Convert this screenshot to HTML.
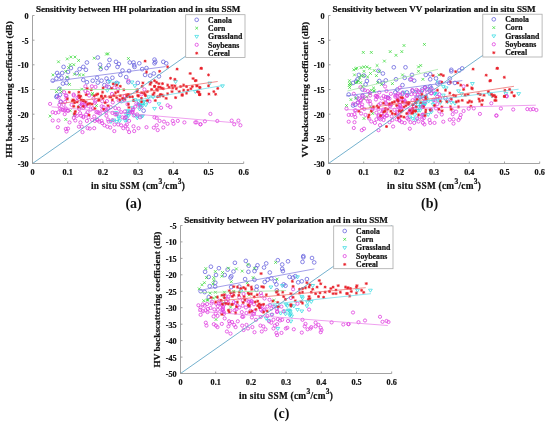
<!DOCTYPE html>
<html><head><meta charset="utf-8"><title>Sensitivity plots</title><style>
html,body{margin:0;padding:0;background:#fff;}
svg{display:block;filter:blur(0.3px);}
text{font-family:"Liberation Serif",serif;fill:#111;}
.ti{font-weight:bold;font-size:9.1px;stroke:#111;stroke-width:0.22px;}
.tk{font-weight:bold;font-size:8.2px;stroke:#111;stroke-width:0.2px;}
.xl{font-weight:bold;font-size:9.3px;letter-spacing:0.28px;stroke:#111;stroke-width:0.22px;}
.yl{font-weight:bold;font-size:9.2px;stroke:#111;stroke-width:0.22px;}
.lg{font-weight:bold;font-size:7.8px;stroke:#111;stroke-width:0.2px;}
.sub{font-size:14px;font-weight:bold;fill:#111;}
.ax{stroke:#999;stroke-width:0.9;fill:none;}
</style></head>
<body><svg width="550" height="424" viewBox="0 0 550 424">
<rect width="550" height="424" fill="#fff"/>
<circle cx="97.8" cy="57.5" r="1.85" fill="none" stroke="#625cdc" stroke-width="0.75"/>
<circle cx="109.5" cy="59.9" r="1.85" fill="none" stroke="#625cdc" stroke-width="0.75"/>
<circle cx="116.0" cy="61.8" r="1.85" fill="none" stroke="#625cdc" stroke-width="0.75"/>
<circle cx="118.9" cy="64.0" r="1.85" fill="none" stroke="#625cdc" stroke-width="0.75"/>
<circle cx="100.0" cy="64.7" r="1.85" fill="none" stroke="#625cdc" stroke-width="0.75"/>
<circle cx="100.7" cy="69.1" r="1.85" fill="none" stroke="#625cdc" stroke-width="0.75"/>
<circle cx="108.7" cy="65.2" r="1.85" fill="none" stroke="#625cdc" stroke-width="0.75"/>
<circle cx="106.5" cy="68.1" r="1.85" fill="none" stroke="#625cdc" stroke-width="0.75"/>
<circle cx="117.5" cy="66.9" r="1.85" fill="none" stroke="#625cdc" stroke-width="0.75"/>
<circle cx="86.9" cy="62.5" r="1.85" fill="none" stroke="#625cdc" stroke-width="0.75"/>
<circle cx="83.3" cy="66.9" r="1.85" fill="none" stroke="#625cdc" stroke-width="0.75"/>
<circle cx="79.6" cy="69.1" r="1.85" fill="none" stroke="#625cdc" stroke-width="0.75"/>
<circle cx="85.9" cy="69.8" r="1.85" fill="none" stroke="#625cdc" stroke-width="0.75"/>
<circle cx="70.9" cy="68.1" r="1.85" fill="none" stroke="#625cdc" stroke-width="0.75"/>
<circle cx="63.6" cy="66.9" r="1.85" fill="none" stroke="#625cdc" stroke-width="0.75"/>
<circle cx="68.0" cy="72.0" r="1.85" fill="none" stroke="#625cdc" stroke-width="0.75"/>
<circle cx="57.1" cy="73.0" r="1.85" fill="none" stroke="#625cdc" stroke-width="0.75"/>
<circle cx="62.2" cy="73.0" r="1.85" fill="none" stroke="#625cdc" stroke-width="0.75"/>
<circle cx="58.5" cy="75.6" r="1.85" fill="none" stroke="#625cdc" stroke-width="0.75"/>
<circle cx="61.5" cy="77.8" r="1.85" fill="none" stroke="#625cdc" stroke-width="0.75"/>
<circle cx="56.4" cy="78.5" r="1.85" fill="none" stroke="#625cdc" stroke-width="0.75"/>
<circle cx="52.7" cy="80.7" r="1.85" fill="none" stroke="#625cdc" stroke-width="0.75"/>
<circle cx="67.3" cy="78.5" r="1.85" fill="none" stroke="#625cdc" stroke-width="0.75"/>
<circle cx="76.7" cy="73.0" r="1.85" fill="none" stroke="#625cdc" stroke-width="0.75"/>
<circle cx="83.3" cy="80.0" r="1.85" fill="none" stroke="#625cdc" stroke-width="0.75"/>
<circle cx="86.9" cy="82.2" r="1.85" fill="none" stroke="#625cdc" stroke-width="0.75"/>
<circle cx="92.7" cy="80.7" r="1.85" fill="none" stroke="#625cdc" stroke-width="0.75"/>
<circle cx="97.1" cy="77.8" r="1.85" fill="none" stroke="#625cdc" stroke-width="0.75"/>
<circle cx="97.8" cy="82.6" r="1.85" fill="none" stroke="#625cdc" stroke-width="0.75"/>
<circle cx="101.5" cy="80.7" r="1.85" fill="none" stroke="#625cdc" stroke-width="0.75"/>
<circle cx="106.5" cy="78.5" r="1.85" fill="none" stroke="#625cdc" stroke-width="0.75"/>
<circle cx="108.0" cy="81.5" r="1.85" fill="none" stroke="#625cdc" stroke-width="0.75"/>
<circle cx="112.4" cy="77.8" r="1.85" fill="none" stroke="#625cdc" stroke-width="0.75"/>
<circle cx="120.4" cy="74.9" r="1.85" fill="none" stroke="#625cdc" stroke-width="0.75"/>
<circle cx="122.5" cy="70.5" r="1.85" fill="none" stroke="#625cdc" stroke-width="0.75"/>
<circle cx="62.9" cy="83.6" r="1.85" fill="none" stroke="#625cdc" stroke-width="0.75"/>
<circle cx="66.5" cy="82.9" r="1.85" fill="none" stroke="#625cdc" stroke-width="0.75"/>
<circle cx="59.3" cy="88.7" r="1.85" fill="none" stroke="#625cdc" stroke-width="0.75"/>
<circle cx="57.1" cy="96.0" r="1.85" fill="none" stroke="#625cdc" stroke-width="0.75"/>
<circle cx="104.4" cy="85.1" r="1.85" fill="none" stroke="#625cdc" stroke-width="0.75"/>
<circle cx="108.7" cy="87.0" r="1.85" fill="none" stroke="#625cdc" stroke-width="0.75"/>
<circle cx="116.7" cy="82.9" r="1.85" fill="none" stroke="#625cdc" stroke-width="0.75"/>
<circle cx="129.8" cy="62.5" r="1.85" fill="none" stroke="#625cdc" stroke-width="0.75"/>
<circle cx="133.5" cy="62.5" r="1.85" fill="none" stroke="#625cdc" stroke-width="0.75"/>
<circle cx="134.2" cy="65.2" r="1.85" fill="none" stroke="#625cdc" stroke-width="0.75"/>
<circle cx="134.5" cy="66.9" r="1.85" fill="none" stroke="#625cdc" stroke-width="0.75"/>
<circle cx="139.3" cy="63.3" r="1.85" fill="none" stroke="#625cdc" stroke-width="0.75"/>
<circle cx="142.2" cy="69.1" r="1.85" fill="none" stroke="#625cdc" stroke-width="0.75"/>
<circle cx="146.5" cy="68.1" r="1.85" fill="none" stroke="#625cdc" stroke-width="0.75"/>
<circle cx="154.5" cy="59.6" r="1.85" fill="none" stroke="#625cdc" stroke-width="0.75"/>
<circle cx="155.3" cy="61.8" r="1.85" fill="none" stroke="#625cdc" stroke-width="0.75"/>
<circle cx="154.5" cy="63.3" r="1.85" fill="none" stroke="#625cdc" stroke-width="0.75"/>
<circle cx="163.3" cy="61.8" r="1.85" fill="none" stroke="#625cdc" stroke-width="0.75"/>
<circle cx="166.2" cy="63.3" r="1.85" fill="none" stroke="#625cdc" stroke-width="0.75"/>
<circle cx="129.1" cy="71.0" r="1.85" fill="none" stroke="#625cdc" stroke-width="0.75"/>
<circle cx="126.2" cy="77.1" r="1.85" fill="none" stroke="#625cdc" stroke-width="0.75"/>
<circle cx="145.1" cy="74.9" r="1.85" fill="none" stroke="#625cdc" stroke-width="0.75"/>
<circle cx="150.2" cy="75.6" r="1.85" fill="none" stroke="#625cdc" stroke-width="0.75"/>
<circle cx="153.8" cy="73.5" r="1.85" fill="none" stroke="#625cdc" stroke-width="0.75"/>
<circle cx="158.9" cy="76.4" r="1.85" fill="none" stroke="#625cdc" stroke-width="0.75"/>
<circle cx="128.4" cy="82.2" r="1.85" fill="none" stroke="#625cdc" stroke-width="0.75"/>
<circle cx="137.8" cy="82.9" r="1.85" fill="none" stroke="#625cdc" stroke-width="0.75"/>
<circle cx="56.4" cy="96.9" r="1.85" fill="none" stroke="#625cdc" stroke-width="0.75"/>
<circle cx="60.7" cy="102.0" r="1.85" fill="none" stroke="#625cdc" stroke-width="0.75"/>
<circle cx="60.0" cy="94.7" r="1.85" fill="none" stroke="#625cdc" stroke-width="0.75"/>
<circle cx="143.6" cy="110.7" r="1.85" fill="none" stroke="#625cdc" stroke-width="0.75"/>
<path d="M57.1 60.4L59.9 63.2M57.1 63.2L59.9 60.4" stroke="#30d830" stroke-width="0.7"/>
<path d="M65.9 57.5L68.7 60.3M65.9 60.3L68.7 57.5" stroke="#30d830" stroke-width="0.7"/>
<path d="M69.5 55.6L72.3 58.4M69.5 58.4L72.3 55.6" stroke="#30d830" stroke-width="0.7"/>
<path d="M73.6 55.6L76.4 58.4M73.6 58.4L76.4 55.6" stroke="#30d830" stroke-width="0.7"/>
<path d="M77.2 59.0L80.0 61.8M77.2 61.8L80.0 59.0" stroke="#30d830" stroke-width="0.7"/>
<path d="M92.8 56.8L95.6 59.6M92.8 59.6L95.6 56.8" stroke="#30d830" stroke-width="0.7"/>
<path d="M105.1 52.7L107.9 55.5M105.1 55.5L107.9 52.7" stroke="#30d830" stroke-width="0.7"/>
<path d="M106.6 52.4L109.4 55.2M106.6 55.2L109.4 52.4" stroke="#30d830" stroke-width="0.7"/>
<path d="M68.8 63.3L71.6 66.1M68.8 66.1L71.6 63.3" stroke="#30d830" stroke-width="0.7"/>
<path d="M72.4 63.3L75.2 66.1M72.4 66.1L75.2 63.3" stroke="#30d830" stroke-width="0.7"/>
<path d="M67.3 66.2L70.1 69.0M67.3 69.0L70.1 66.2" stroke="#30d830" stroke-width="0.7"/>
<path d="M64.4 69.9L67.2 72.7M64.4 72.7L67.2 69.9" stroke="#30d830" stroke-width="0.7"/>
<path d="M51.6 73.5L54.4 76.3M51.6 76.3L54.4 73.5" stroke="#30d830" stroke-width="0.7"/>
<path d="M73.1 72.8L75.9 75.6M73.1 75.6L75.9 72.8" stroke="#30d830" stroke-width="0.7"/>
<path d="M78.2 73.5L81.0 76.3M78.2 76.3L81.0 73.5" stroke="#30d830" stroke-width="0.7"/>
<path d="M81.9 73.5L84.7 76.3M81.9 76.3L84.7 73.5" stroke="#30d830" stroke-width="0.7"/>
<path d="M65.9 75.7L68.7 78.5M65.9 78.5L68.7 75.7" stroke="#30d830" stroke-width="0.7"/>
<path d="M99.3 66.2L102.1 69.0M99.3 69.0L102.1 66.2" stroke="#30d830" stroke-width="0.7"/>
<path d="M68.1 83.0L70.9 85.8M68.1 85.8L70.9 83.0" stroke="#30d830" stroke-width="0.7"/>
<path d="M58.6 87.3L61.4 90.1M58.6 90.1L61.4 87.3" stroke="#30d830" stroke-width="0.7"/>
<path d="M55.0 90.2L57.8 93.0M55.0 93.0L57.8 90.2" stroke="#30d830" stroke-width="0.7"/>
<path d="M60.1 90.2L62.9 93.0M60.1 93.0L62.9 90.2" stroke="#30d830" stroke-width="0.7"/>
<path d="M127.0 57.1L129.8 59.9M127.0 59.9L129.8 57.1" stroke="#30d830" stroke-width="0.7"/>
<path d="M48.7 114.7L51.5 117.5M48.7 117.5L51.5 114.7" stroke="#30d830" stroke-width="0.7"/>
<path d="M64.4 118.1L67.2 120.9M64.4 120.9L67.2 118.1" stroke="#30d830" stroke-width="0.7"/>
<path d="M68.8 109.3L71.6 112.1M68.8 112.1L71.6 109.3" stroke="#30d830" stroke-width="0.7"/>
<path d="M77.5 105.7L80.3 108.5M77.5 108.5L80.3 105.7" stroke="#30d830" stroke-width="0.7"/>
<path d="M72.4 113.7L75.2 116.5M72.4 116.5L75.2 113.7" stroke="#30d830" stroke-width="0.7"/>
<path d="M90.6 93.3L93.4 96.1M90.6 96.1L93.4 93.3" stroke="#30d830" stroke-width="0.7"/>
<path d="M95.0 104.2L97.8 107.0M95.0 107.0L97.8 104.2" stroke="#30d830" stroke-width="0.7"/>
<path d="M80.5 87.8L83.3 90.6M80.5 90.6L83.3 87.8" stroke="#30d830" stroke-width="0.7"/>
<path d="M91.1 92.0L93.9 94.8M91.1 94.8L93.9 92.0" stroke="#30d830" stroke-width="0.7"/>
<path d="M173.7 80.6L177.5 80.6L175.6 83.6Z" fill="none" stroke="#2ad8e0" stroke-width="0.7"/>
<path d="M193.4 90.5L197.2 90.5L195.3 93.5Z" fill="none" stroke="#2ad8e0" stroke-width="0.7"/>
<path d="M133.0 84.7L136.8 84.7L134.9 87.7Z" fill="none" stroke="#2ad8e0" stroke-width="0.7"/>
<path d="M130.1 81.0L133.9 81.0L132.0 84.1Z" fill="none" stroke="#2ad8e0" stroke-width="0.7"/>
<path d="M148.3 81.8L152.1 81.8L150.2 84.8Z" fill="none" stroke="#2ad8e0" stroke-width="0.7"/>
<path d="M220.6 84.8L224.4 84.8L222.5 87.9Z" fill="none" stroke="#2ad8e0" stroke-width="0.7"/>
<path d="M207.9 82.0L211.7 82.0L209.8 85.0Z" fill="none" stroke="#2ad8e0" stroke-width="0.7"/>
<path d="M109.0 120.5L112.8 120.5L110.9 123.5Z" fill="none" stroke="#2ad8e0" stroke-width="0.7"/>
<path d="M111.9 119.0L115.7 119.0L113.8 122.1Z" fill="none" stroke="#2ad8e0" stroke-width="0.7"/>
<path d="M114.8 120.5L118.6 120.5L116.7 123.5Z" fill="none" stroke="#2ad8e0" stroke-width="0.7"/>
<path d="M117.7 119.8L121.5 119.8L119.6 122.8Z" fill="none" stroke="#2ad8e0" stroke-width="0.7"/>
<path d="M117.0 116.9L120.8 116.9L118.9 119.9Z" fill="none" stroke="#2ad8e0" stroke-width="0.7"/>
<path d="M157.0 102.8L160.8 102.8L158.9 105.8Z" fill="none" stroke="#2ad8e0" stroke-width="0.7"/>
<path d="M152.6 107.4L156.4 107.4L154.5 110.4Z" fill="none" stroke="#2ad8e0" stroke-width="0.7"/>
<path d="M143.9 103.8L147.7 103.8L145.8 106.8Z" fill="none" stroke="#2ad8e0" stroke-width="0.7"/>
<path d="M141.0 101.6L144.8 101.6L142.9 104.6Z" fill="none" stroke="#2ad8e0" stroke-width="0.7"/>
<path d="M138.1 103.8L141.9 103.8L140.0 106.8Z" fill="none" stroke="#2ad8e0" stroke-width="0.7"/>
<path d="M136.6 100.1L140.4 100.1L138.5 103.2Z" fill="none" stroke="#2ad8e0" stroke-width="0.7"/>
<path d="M130.8 106.7L134.6 106.7L132.7 109.7Z" fill="none" stroke="#2ad8e0" stroke-width="0.7"/>
<path d="M126.5 114.7L130.3 114.7L128.4 117.7Z" fill="none" stroke="#2ad8e0" stroke-width="0.7"/>
<path d="M124.3 116.1L128.1 116.1L126.2 119.2Z" fill="none" stroke="#2ad8e0" stroke-width="0.7"/>
<path d="M139.6 115.4L143.4 115.4L141.5 118.4Z" fill="none" stroke="#2ad8e0" stroke-width="0.7"/>
<path d="M133.0 98.7L136.8 98.7L134.9 101.7Z" fill="none" stroke="#2ad8e0" stroke-width="0.7"/>
<path d="M146.8 95.8L150.6 95.8L148.7 98.8Z" fill="none" stroke="#2ad8e0" stroke-width="0.7"/>
<path d="M151.2 95.8L155.0 95.8L153.1 98.8Z" fill="none" stroke="#2ad8e0" stroke-width="0.7"/>
<path d="M105.4 89.3L109.2 89.3L107.3 92.3Z" fill="none" stroke="#2ad8e0" stroke-width="0.7"/>
<path d="M112.5 82.2L116.3 82.2L114.4 85.2Z" fill="none" stroke="#2ad8e0" stroke-width="0.7"/>
<path d="M116.0 82.2L119.8 82.2L117.9 85.2Z" fill="none" stroke="#2ad8e0" stroke-width="0.7"/>
<path d="M107.7 80.4L111.5 80.4L109.6 83.4Z" fill="none" stroke="#2ad8e0" stroke-width="0.7"/>
<path d="M125.9 112.4L129.7 112.4L127.8 115.4Z" fill="none" stroke="#2ad8e0" stroke-width="0.7"/>
<path d="M145.5 100.4L149.3 100.4L147.4 103.5Z" fill="none" stroke="#2ad8e0" stroke-width="0.7"/>
<path d="M135.4 116.9L139.2 116.9L137.3 119.9Z" fill="none" stroke="#2ad8e0" stroke-width="0.7"/>
<path d="M125.8 112.4L129.6 112.4L127.7 115.4Z" fill="none" stroke="#2ad8e0" stroke-width="0.7"/>
<path d="M140.7 104.6L144.5 104.6L142.6 107.7Z" fill="none" stroke="#2ad8e0" stroke-width="0.7"/>
<path d="M142.0 100.5L145.8 100.5L143.9 103.5Z" fill="none" stroke="#2ad8e0" stroke-width="0.7"/>
<path d="M140.7 114.8L144.5 114.8L142.6 117.8Z" fill="none" stroke="#2ad8e0" stroke-width="0.7"/>
<path d="M135.7 114.9L139.5 114.9L137.6 117.9Z" fill="none" stroke="#2ad8e0" stroke-width="0.7"/>
<path d="M137.7 107.9L141.5 107.9L139.6 111.0Z" fill="none" stroke="#2ad8e0" stroke-width="0.7"/>
<path d="M136.7 103.2L140.5 103.2L138.6 106.2Z" fill="none" stroke="#2ad8e0" stroke-width="0.7"/>
<path d="M139.7 104.2L143.5 104.2L141.6 107.2Z" fill="none" stroke="#2ad8e0" stroke-width="0.7"/>
<path d="M138.1 104.5L141.9 104.5L140.0 107.5Z" fill="none" stroke="#2ad8e0" stroke-width="0.7"/>
<path d="M125.8 109.7L129.6 109.7L127.7 112.8Z" fill="none" stroke="#2ad8e0" stroke-width="0.7"/>
<path d="M132.5 114.0L136.3 114.0L134.4 117.1Z" fill="none" stroke="#2ad8e0" stroke-width="0.7"/>
<path d="M113.5 111.6L117.3 111.6L115.4 114.6Z" fill="none" stroke="#2ad8e0" stroke-width="0.7"/>
<path d="M124.3 113.4L128.1 113.4L126.2 116.5Z" fill="none" stroke="#2ad8e0" stroke-width="0.7"/>
<path d="M115.3 112.3L119.1 112.3L117.2 115.4Z" fill="none" stroke="#2ad8e0" stroke-width="0.7"/>
<path d="M127.4 110.3L131.2 110.3L129.3 113.3Z" fill="none" stroke="#2ad8e0" stroke-width="0.7"/>
<path d="M128.4 111.4L132.2 111.4L130.3 114.4Z" fill="none" stroke="#2ad8e0" stroke-width="0.7"/>
<path d="M123.3 119.4L127.1 119.4L125.2 122.4Z" fill="none" stroke="#2ad8e0" stroke-width="0.7"/>
<path d="M124.9 119.0L128.7 119.0L126.8 122.0Z" fill="none" stroke="#2ad8e0" stroke-width="0.7"/>
<path d="M116.9 115.3L120.7 115.3L118.8 118.4Z" fill="none" stroke="#2ad8e0" stroke-width="0.7"/>
<circle cx="128.4" cy="80.7" r="1.6" fill="none" stroke="#e040e0" stroke-width="0.8"/>
<circle cx="144.4" cy="89.5" r="1.6" fill="none" stroke="#e040e0" stroke-width="0.8"/>
<circle cx="141.5" cy="94.3" r="1.6" fill="none" stroke="#e040e0" stroke-width="0.8"/>
<circle cx="124.7" cy="96.0" r="1.6" fill="none" stroke="#e040e0" stroke-width="0.8"/>
<circle cx="50.1" cy="103.9" r="1.6" fill="none" stroke="#e040e0" stroke-width="0.8"/>
<circle cx="52.7" cy="112.2" r="1.6" fill="none" stroke="#e040e0" stroke-width="0.8"/>
<circle cx="55.6" cy="112.9" r="1.6" fill="none" stroke="#e040e0" stroke-width="0.8"/>
<circle cx="58.5" cy="112.2" r="1.6" fill="none" stroke="#e040e0" stroke-width="0.8"/>
<circle cx="60.0" cy="108.5" r="1.6" fill="none" stroke="#e040e0" stroke-width="0.8"/>
<circle cx="62.9" cy="110.0" r="1.6" fill="none" stroke="#e040e0" stroke-width="0.8"/>
<circle cx="65.8" cy="108.5" r="1.6" fill="none" stroke="#e040e0" stroke-width="0.8"/>
<circle cx="59.3" cy="104.9" r="1.6" fill="none" stroke="#e040e0" stroke-width="0.8"/>
<circle cx="63.6" cy="104.9" r="1.6" fill="none" stroke="#e040e0" stroke-width="0.8"/>
<circle cx="52.7" cy="120.5" r="1.6" fill="none" stroke="#e040e0" stroke-width="0.8"/>
<circle cx="58.5" cy="120.5" r="1.6" fill="none" stroke="#e040e0" stroke-width="0.8"/>
<circle cx="57.8" cy="127.2" r="1.6" fill="none" stroke="#e040e0" stroke-width="0.8"/>
<circle cx="65.8" cy="128.9" r="1.6" fill="none" stroke="#e040e0" stroke-width="0.8"/>
<circle cx="68.0" cy="128.6" r="1.6" fill="none" stroke="#e040e0" stroke-width="0.8"/>
<circle cx="66.5" cy="131.5" r="1.6" fill="none" stroke="#e040e0" stroke-width="0.8"/>
<circle cx="69.5" cy="122.4" r="1.6" fill="none" stroke="#e040e0" stroke-width="0.8"/>
<circle cx="73.8" cy="118.0" r="1.6" fill="none" stroke="#e040e0" stroke-width="0.8"/>
<circle cx="75.3" cy="120.5" r="1.6" fill="none" stroke="#e040e0" stroke-width="0.8"/>
<circle cx="78.9" cy="126.7" r="1.6" fill="none" stroke="#e040e0" stroke-width="0.8"/>
<circle cx="81.8" cy="126.7" r="1.6" fill="none" stroke="#e040e0" stroke-width="0.8"/>
<circle cx="82.5" cy="132.1" r="1.6" fill="none" stroke="#e040e0" stroke-width="0.8"/>
<circle cx="80.4" cy="122.4" r="1.6" fill="none" stroke="#e040e0" stroke-width="0.8"/>
<circle cx="81.1" cy="115.8" r="1.6" fill="none" stroke="#e040e0" stroke-width="0.8"/>
<circle cx="83.3" cy="116.5" r="1.6" fill="none" stroke="#e040e0" stroke-width="0.8"/>
<circle cx="86.2" cy="114.4" r="1.6" fill="none" stroke="#e040e0" stroke-width="0.8"/>
<circle cx="86.9" cy="120.9" r="1.6" fill="none" stroke="#e040e0" stroke-width="0.8"/>
<circle cx="87.6" cy="128.2" r="1.6" fill="none" stroke="#e040e0" stroke-width="0.8"/>
<circle cx="89.8" cy="128.6" r="1.6" fill="none" stroke="#e040e0" stroke-width="0.8"/>
<circle cx="94.2" cy="128.2" r="1.6" fill="none" stroke="#e040e0" stroke-width="0.8"/>
<circle cx="87.6" cy="112.2" r="1.6" fill="none" stroke="#e040e0" stroke-width="0.8"/>
<circle cx="94.2" cy="116.5" r="1.6" fill="none" stroke="#e040e0" stroke-width="0.8"/>
<circle cx="96.4" cy="112.2" r="1.6" fill="none" stroke="#e040e0" stroke-width="0.8"/>
<circle cx="98.5" cy="112.9" r="1.6" fill="none" stroke="#e040e0" stroke-width="0.8"/>
<circle cx="100.0" cy="113.6" r="1.6" fill="none" stroke="#e040e0" stroke-width="0.8"/>
<circle cx="94.9" cy="120.9" r="1.6" fill="none" stroke="#e040e0" stroke-width="0.8"/>
<circle cx="99.3" cy="121.6" r="1.6" fill="none" stroke="#e040e0" stroke-width="0.8"/>
<circle cx="101.5" cy="120.9" r="1.6" fill="none" stroke="#e040e0" stroke-width="0.8"/>
<circle cx="102.2" cy="123.1" r="1.6" fill="none" stroke="#e040e0" stroke-width="0.8"/>
<circle cx="104.4" cy="125.3" r="1.6" fill="none" stroke="#e040e0" stroke-width="0.8"/>
<circle cx="107.3" cy="126.7" r="1.6" fill="none" stroke="#e040e0" stroke-width="0.8"/>
<circle cx="110.2" cy="127.5" r="1.6" fill="none" stroke="#e040e0" stroke-width="0.8"/>
<circle cx="106.5" cy="115.8" r="1.6" fill="none" stroke="#e040e0" stroke-width="0.8"/>
<circle cx="108.0" cy="119.5" r="1.6" fill="none" stroke="#e040e0" stroke-width="0.8"/>
<circle cx="112.4" cy="112.9" r="1.6" fill="none" stroke="#e040e0" stroke-width="0.8"/>
<circle cx="115.3" cy="114.4" r="1.6" fill="none" stroke="#e040e0" stroke-width="0.8"/>
<circle cx="116.7" cy="114.4" r="1.6" fill="none" stroke="#e040e0" stroke-width="0.8"/>
<circle cx="121.1" cy="112.2" r="1.6" fill="none" stroke="#e040e0" stroke-width="0.8"/>
<circle cx="112.4" cy="120.2" r="1.6" fill="none" stroke="#e040e0" stroke-width="0.8"/>
<circle cx="114.5" cy="124.5" r="1.6" fill="none" stroke="#e040e0" stroke-width="0.8"/>
<circle cx="118.2" cy="124.5" r="1.6" fill="none" stroke="#e040e0" stroke-width="0.8"/>
<circle cx="121.1" cy="125.3" r="1.6" fill="none" stroke="#e040e0" stroke-width="0.8"/>
<circle cx="123.3" cy="128.2" r="1.6" fill="none" stroke="#e040e0" stroke-width="0.8"/>
<circle cx="114.3" cy="131.1" r="1.6" fill="none" stroke="#e040e0" stroke-width="0.8"/>
<circle cx="122.5" cy="117.3" r="1.6" fill="none" stroke="#e040e0" stroke-width="0.8"/>
<circle cx="65.8" cy="95.5" r="1.6" fill="none" stroke="#e040e0" stroke-width="0.8"/>
<circle cx="66.5" cy="98.4" r="1.6" fill="none" stroke="#e040e0" stroke-width="0.8"/>
<circle cx="73.8" cy="95.5" r="1.6" fill="none" stroke="#e040e0" stroke-width="0.8"/>
<circle cx="71.6" cy="104.9" r="1.6" fill="none" stroke="#e040e0" stroke-width="0.8"/>
<circle cx="77.5" cy="97.6" r="1.6" fill="none" stroke="#e040e0" stroke-width="0.8"/>
<circle cx="81.8" cy="102.7" r="1.6" fill="none" stroke="#e040e0" stroke-width="0.8"/>
<circle cx="89.1" cy="95.5" r="1.6" fill="none" stroke="#e040e0" stroke-width="0.8"/>
<circle cx="93.5" cy="98.4" r="1.6" fill="none" stroke="#e040e0" stroke-width="0.8"/>
<circle cx="94.9" cy="102.7" r="1.6" fill="none" stroke="#e040e0" stroke-width="0.8"/>
<circle cx="102.2" cy="101.3" r="1.6" fill="none" stroke="#e040e0" stroke-width="0.8"/>
<circle cx="103.6" cy="107.1" r="1.6" fill="none" stroke="#e040e0" stroke-width="0.8"/>
<circle cx="108.0" cy="108.5" r="1.6" fill="none" stroke="#e040e0" stroke-width="0.8"/>
<circle cx="83.3" cy="107.8" r="1.6" fill="none" stroke="#e040e0" stroke-width="0.8"/>
<circle cx="58.5" cy="97.6" r="1.6" fill="none" stroke="#e040e0" stroke-width="0.8"/>
<circle cx="60.7" cy="101.3" r="1.6" fill="none" stroke="#e040e0" stroke-width="0.8"/>
<circle cx="65.1" cy="102.0" r="1.6" fill="none" stroke="#e040e0" stroke-width="0.8"/>
<circle cx="167.6" cy="105.3" r="1.6" fill="none" stroke="#e040e0" stroke-width="0.8"/>
<circle cx="170.3" cy="107.1" r="1.6" fill="none" stroke="#e040e0" stroke-width="0.8"/>
<circle cx="161.1" cy="107.8" r="1.6" fill="none" stroke="#e040e0" stroke-width="0.8"/>
<circle cx="149.5" cy="101.3" r="1.6" fill="none" stroke="#e040e0" stroke-width="0.8"/>
<circle cx="136.4" cy="103.5" r="1.6" fill="none" stroke="#e040e0" stroke-width="0.8"/>
<circle cx="132.0" cy="112.2" r="1.6" fill="none" stroke="#e040e0" stroke-width="0.8"/>
<circle cx="137.1" cy="114.4" r="1.6" fill="none" stroke="#e040e0" stroke-width="0.8"/>
<circle cx="140.0" cy="117.3" r="1.6" fill="none" stroke="#e040e0" stroke-width="0.8"/>
<circle cx="129.1" cy="120.9" r="1.6" fill="none" stroke="#e040e0" stroke-width="0.8"/>
<circle cx="126.9" cy="124.5" r="1.6" fill="none" stroke="#e040e0" stroke-width="0.8"/>
<circle cx="125.5" cy="126.0" r="1.6" fill="none" stroke="#e040e0" stroke-width="0.8"/>
<circle cx="127.6" cy="128.9" r="1.6" fill="none" stroke="#e040e0" stroke-width="0.8"/>
<circle cx="129.1" cy="132.1" r="1.6" fill="none" stroke="#e040e0" stroke-width="0.8"/>
<circle cx="133.5" cy="126.3" r="1.6" fill="none" stroke="#e040e0" stroke-width="0.8"/>
<circle cx="134.2" cy="131.1" r="1.6" fill="none" stroke="#e040e0" stroke-width="0.8"/>
<circle cx="138.5" cy="128.2" r="1.6" fill="none" stroke="#e040e0" stroke-width="0.8"/>
<circle cx="146.5" cy="127.2" r="1.6" fill="none" stroke="#e040e0" stroke-width="0.8"/>
<circle cx="153.8" cy="127.7" r="1.6" fill="none" stroke="#e040e0" stroke-width="0.8"/>
<circle cx="156.7" cy="125.3" r="1.6" fill="none" stroke="#e040e0" stroke-width="0.8"/>
<circle cx="157.7" cy="130.1" r="1.6" fill="none" stroke="#e040e0" stroke-width="0.8"/>
<circle cx="163.3" cy="127.5" r="1.6" fill="none" stroke="#e040e0" stroke-width="0.8"/>
<circle cx="154.5" cy="117.3" r="1.6" fill="none" stroke="#e040e0" stroke-width="0.8"/>
<circle cx="156.7" cy="118.0" r="1.6" fill="none" stroke="#e040e0" stroke-width="0.8"/>
<circle cx="159.6" cy="120.9" r="1.6" fill="none" stroke="#e040e0" stroke-width="0.8"/>
<circle cx="164.0" cy="121.6" r="1.6" fill="none" stroke="#e040e0" stroke-width="0.8"/>
<circle cx="167.6" cy="123.8" r="1.6" fill="none" stroke="#e040e0" stroke-width="0.8"/>
<circle cx="172.7" cy="120.9" r="1.6" fill="none" stroke="#e040e0" stroke-width="0.8"/>
<circle cx="173.5" cy="123.8" r="1.6" fill="none" stroke="#e040e0" stroke-width="0.8"/>
<circle cx="177.8" cy="120.9" r="1.6" fill="none" stroke="#e040e0" stroke-width="0.8"/>
<circle cx="184.4" cy="122.4" r="1.6" fill="none" stroke="#e040e0" stroke-width="0.8"/>
<circle cx="195.3" cy="122.4" r="1.6" fill="none" stroke="#e040e0" stroke-width="0.8"/>
<circle cx="200.4" cy="124.3" r="1.6" fill="none" stroke="#e040e0" stroke-width="0.8"/>
<circle cx="124.7" cy="118.0" r="1.6" fill="none" stroke="#e040e0" stroke-width="0.8"/>
<circle cx="132.7" cy="110.0" r="1.6" fill="none" stroke="#e040e0" stroke-width="0.8"/>
<circle cx="210.4" cy="113.9" r="1.6" fill="none" stroke="#e040e0" stroke-width="0.8"/>
<circle cx="204.9" cy="121.3" r="1.6" fill="none" stroke="#e040e0" stroke-width="0.8"/>
<circle cx="200.5" cy="124.3" r="1.6" fill="none" stroke="#e040e0" stroke-width="0.8"/>
<circle cx="196.5" cy="122.3" r="1.6" fill="none" stroke="#e040e0" stroke-width="0.8"/>
<circle cx="217.3" cy="121.0" r="1.6" fill="none" stroke="#e040e0" stroke-width="0.8"/>
<circle cx="231.7" cy="120.6" r="1.6" fill="none" stroke="#e040e0" stroke-width="0.8"/>
<circle cx="234.2" cy="124.3" r="1.6" fill="none" stroke="#e040e0" stroke-width="0.8"/>
<circle cx="238.4" cy="120.6" r="1.6" fill="none" stroke="#e040e0" stroke-width="0.8"/>
<circle cx="240.4" cy="125.3" r="1.6" fill="none" stroke="#e040e0" stroke-width="0.8"/>
<circle cx="85.4" cy="86.3" r="1.6" fill="none" stroke="#e040e0" stroke-width="0.8"/>
<circle cx="91.9" cy="86.3" r="1.6" fill="none" stroke="#e040e0" stroke-width="0.8"/>
<circle cx="95.5" cy="86.9" r="1.6" fill="none" stroke="#e040e0" stroke-width="0.8"/>
<circle cx="85.4" cy="91.0" r="1.6" fill="none" stroke="#e040e0" stroke-width="0.8"/>
<circle cx="87.8" cy="92.8" r="1.6" fill="none" stroke="#e040e0" stroke-width="0.8"/>
<circle cx="64.1" cy="92.2" r="1.6" fill="none" stroke="#e040e0" stroke-width="0.8"/>
<circle cx="66.5" cy="95.7" r="1.6" fill="none" stroke="#e040e0" stroke-width="0.8"/>
<circle cx="73.6" cy="94.5" r="1.6" fill="none" stroke="#e040e0" stroke-width="0.8"/>
<circle cx="78.9" cy="96.9" r="1.6" fill="none" stroke="#e040e0" stroke-width="0.8"/>
<circle cx="106.7" cy="86.3" r="1.6" fill="none" stroke="#e040e0" stroke-width="0.8"/>
<circle cx="114.4" cy="87.5" r="1.6" fill="none" stroke="#e040e0" stroke-width="0.8"/>
<circle cx="117.9" cy="89.2" r="1.6" fill="none" stroke="#e040e0" stroke-width="0.8"/>
<circle cx="112.0" cy="94.0" r="1.6" fill="none" stroke="#e040e0" stroke-width="0.8"/>
<circle cx="106.7" cy="109.6" r="1.6" fill="none" stroke="#e040e0" stroke-width="0.8"/>
<circle cx="140.6" cy="107.1" r="1.6" fill="none" stroke="#e040e0" stroke-width="0.8"/>
<circle cx="97.5" cy="111.9" r="1.6" fill="none" stroke="#e040e0" stroke-width="0.8"/>
<circle cx="92.1" cy="119.9" r="1.6" fill="none" stroke="#e040e0" stroke-width="0.8"/>
<circle cx="133.8" cy="115.4" r="1.6" fill="none" stroke="#e040e0" stroke-width="0.8"/>
<circle cx="106.1" cy="112.3" r="1.6" fill="none" stroke="#e040e0" stroke-width="0.8"/>
<circle cx="105.5" cy="110.4" r="1.6" fill="none" stroke="#e040e0" stroke-width="0.8"/>
<circle cx="138.2" cy="104.6" r="1.6" fill="none" stroke="#e040e0" stroke-width="0.8"/>
<circle cx="81.9" cy="104.7" r="1.6" fill="none" stroke="#e040e0" stroke-width="0.8"/>
<circle cx="96.8" cy="119.5" r="1.6" fill="none" stroke="#e040e0" stroke-width="0.8"/>
<circle cx="82.3" cy="103.5" r="1.6" fill="none" stroke="#e040e0" stroke-width="0.8"/>
<circle cx="121.6" cy="101.3" r="1.6" fill="none" stroke="#e040e0" stroke-width="0.8"/>
<circle cx="118.8" cy="108.7" r="1.6" fill="none" stroke="#e040e0" stroke-width="0.8"/>
<circle cx="108.6" cy="121.6" r="1.6" fill="none" stroke="#e040e0" stroke-width="0.8"/>
<circle cx="80.1" cy="113.2" r="1.6" fill="none" stroke="#e040e0" stroke-width="0.8"/>
<circle cx="61.3" cy="109.6" r="1.6" fill="none" stroke="#e040e0" stroke-width="0.8"/>
<circle cx="79.8" cy="106.2" r="1.6" fill="none" stroke="#e040e0" stroke-width="0.8"/>
<circle cx="93.0" cy="108.2" r="1.6" fill="none" stroke="#e040e0" stroke-width="0.8"/>
<circle cx="135.1" cy="106.7" r="1.6" fill="none" stroke="#e040e0" stroke-width="0.8"/>
<circle cx="84.8" cy="106.5" r="1.6" fill="none" stroke="#e040e0" stroke-width="0.8"/>
<circle cx="124.4" cy="99.9" r="1.6" fill="none" stroke="#e040e0" stroke-width="0.8"/>
<circle cx="64.9" cy="110.1" r="1.6" fill="none" stroke="#e040e0" stroke-width="0.8"/>
<circle cx="79.3" cy="109.1" r="1.6" fill="none" stroke="#e040e0" stroke-width="0.8"/>
<circle cx="101.7" cy="106.3" r="1.6" fill="none" stroke="#e040e0" stroke-width="0.8"/>
<circle cx="85.6" cy="104.6" r="1.6" fill="none" stroke="#e040e0" stroke-width="0.8"/>
<circle cx="125.7" cy="117.1" r="1.6" fill="none" stroke="#e040e0" stroke-width="0.8"/>
<circle cx="110.8" cy="107.2" r="1.6" fill="none" stroke="#e040e0" stroke-width="0.8"/>
<circle cx="95.4" cy="101.2" r="1.6" fill="none" stroke="#e040e0" stroke-width="0.8"/>
<circle cx="90.7" cy="109.6" r="1.6" fill="none" stroke="#e040e0" stroke-width="0.8"/>
<circle cx="132.7" cy="111.9" r="1.6" fill="none" stroke="#e040e0" stroke-width="0.8"/>
<circle cx="68.2" cy="110.9" r="1.6" fill="none" stroke="#e040e0" stroke-width="0.8"/>
<circle cx="88.5" cy="117.3" r="1.6" fill="none" stroke="#e040e0" stroke-width="0.8"/>
<circle cx="130.4" cy="112.3" r="1.6" fill="none" stroke="#e040e0" stroke-width="0.8"/>
<circle cx="115.3" cy="108.1" r="1.6" fill="none" stroke="#e040e0" stroke-width="0.8"/>
<circle cx="83.4" cy="117.3" r="1.6" fill="none" stroke="#e040e0" stroke-width="0.8"/>
<circle cx="124.9" cy="111.4" r="1.6" fill="none" stroke="#e040e0" stroke-width="0.8"/>
<circle cx="118.7" cy="100.5" r="1.6" fill="none" stroke="#e040e0" stroke-width="0.8"/>
<circle cx="76.9" cy="101.0" r="1.6" fill="none" stroke="#e040e0" stroke-width="0.8"/>
<circle cx="74.9" cy="114.8" r="1.6" fill="none" stroke="#e040e0" stroke-width="0.8"/>
<circle cx="106.9" cy="101.1" r="1.6" fill="none" stroke="#e040e0" stroke-width="0.8"/>
<circle cx="76.9" cy="115.8" r="1.6" fill="none" stroke="#e040e0" stroke-width="0.8"/>
<circle cx="86.7" cy="103.2" r="1.6" fill="none" stroke="#e040e0" stroke-width="0.8"/>
<circle cx="127.5" cy="104.2" r="1.6" fill="none" stroke="#e040e0" stroke-width="0.8"/>
<circle cx="67.2" cy="110.5" r="1.6" fill="none" stroke="#e040e0" stroke-width="0.8"/>
<circle cx="112.8" cy="102.4" r="1.6" fill="none" stroke="#e040e0" stroke-width="0.8"/>
<circle cx="133.1" cy="109.3" r="1.6" fill="none" stroke="#e040e0" stroke-width="0.8"/>
<circle cx="88.6" cy="106.1" r="1.6" fill="none" stroke="#e040e0" stroke-width="0.8"/>
<circle cx="102.3" cy="109.9" r="1.6" fill="none" stroke="#e040e0" stroke-width="0.8"/>
<circle cx="97.5" cy="120.1" r="1.6" fill="none" stroke="#e040e0" stroke-width="0.8"/>
<circle cx="64.7" cy="114.1" r="1.6" fill="none" stroke="#e040e0" stroke-width="0.8"/>
<path d="M143.6 61.1L146.6 61.1M145.1 59.6L145.1 62.6M144.0 60.0L146.2 62.2M144.0 62.2L146.2 60.0" stroke="#e8202a" stroke-width="0.8"/>
<path d="M166.1 66.9L169.1 66.9M167.6 65.4L167.6 68.4M166.5 65.8L168.8 68.0M166.5 68.0L168.8 65.8" stroke="#e8202a" stroke-width="0.8"/>
<path d="M175.6 69.1L178.6 69.1M177.1 67.6L177.1 70.6M176.0 68.0L178.2 70.2M176.0 70.2L178.2 68.0" stroke="#e8202a" stroke-width="0.8"/>
<path d="M158.1 71.3L161.1 71.3M159.6 69.8L159.6 72.8M158.5 70.1L160.8 72.4M158.5 72.4L160.8 70.1" stroke="#e8202a" stroke-width="0.8"/>
<path d="M145.0 72.0L148.0 72.0M146.5 70.5L146.5 73.5M145.4 70.9L147.7 73.1M145.4 73.1L147.7 70.9" stroke="#e8202a" stroke-width="0.8"/>
<path d="M188.7 73.5L191.7 73.5M190.2 72.0L190.2 75.0M189.1 72.3L191.3 74.6M189.1 74.6L191.3 72.3" stroke="#e8202a" stroke-width="0.8"/>
<path d="M199.6 68.4L202.6 68.4M201.1 66.9L201.1 69.9M200.0 67.2L202.2 69.5M200.0 69.5L202.2 67.2" stroke="#e8202a" stroke-width="0.8"/>
<path d="M169.0 78.3L172.0 78.3M170.5 76.8L170.5 79.8M169.4 77.1L171.7 79.4M169.4 79.4L171.7 77.1" stroke="#e8202a" stroke-width="0.8"/>
<path d="M173.4 79.3L176.4 79.3M174.9 77.8L174.9 80.8M173.8 78.1L176.0 80.4M173.8 80.4L176.0 78.1" stroke="#e8202a" stroke-width="0.8"/>
<path d="M191.6 78.5L194.6 78.5M193.1 77.0L193.1 80.0M192.0 77.4L194.2 79.7M192.0 79.7L194.2 77.4" stroke="#e8202a" stroke-width="0.8"/>
<path d="M193.8 80.7L196.8 80.7M195.3 79.2L195.3 82.2M194.1 79.6L196.4 81.9M194.1 81.9L196.4 79.6" stroke="#e8202a" stroke-width="0.8"/>
<path d="M141.4 82.9L144.4 82.9M142.9 81.4L142.9 84.4M141.8 81.8L144.0 84.0M141.8 84.0L144.0 81.8" stroke="#e8202a" stroke-width="0.8"/>
<path d="M153.0 80.7L156.0 80.7M154.5 79.2L154.5 82.2M153.4 79.6L155.7 81.9M153.4 81.9L155.7 79.6" stroke="#e8202a" stroke-width="0.8"/>
<path d="M148.7 84.4L151.7 84.4M150.2 82.9L150.2 85.9M149.1 83.2L151.3 85.5M149.1 85.5L151.3 83.2" stroke="#e8202a" stroke-width="0.8"/>
<path d="M157.4 83.6L160.4 83.6M158.9 82.1L158.9 85.1M157.8 82.5L160.0 84.8M157.8 84.8L160.0 82.5" stroke="#e8202a" stroke-width="0.8"/>
<path d="M161.0 83.6L164.0 83.6M162.5 82.1L162.5 85.1M161.4 82.5L163.7 84.8M161.4 84.8L163.7 82.5" stroke="#e8202a" stroke-width="0.8"/>
<path d="M166.1 85.1L169.1 85.1M167.6 83.6L167.6 86.6M166.5 84.0L168.8 86.2M166.5 86.2L168.8 84.0" stroke="#e8202a" stroke-width="0.8"/>
<path d="M170.5 85.5L173.5 85.5M172.0 84.0L172.0 87.0M170.9 84.4L173.1 86.7M170.9 86.7L173.1 84.4" stroke="#e8202a" stroke-width="0.8"/>
<path d="M173.4 85.8L176.4 85.8M174.9 84.3L174.9 87.3M173.8 84.7L176.0 86.9M173.8 86.9L176.0 84.7" stroke="#e8202a" stroke-width="0.8"/>
<path d="M182.1 85.1L185.1 85.1M183.6 83.6L183.6 86.6M182.5 84.0L184.8 86.2M182.5 86.2L184.8 84.0" stroke="#e8202a" stroke-width="0.8"/>
<path d="M185.0 86.5L188.0 86.5M186.5 85.0L186.5 88.0M185.4 85.4L187.7 87.7M185.4 87.7L187.7 85.4" stroke="#e8202a" stroke-width="0.8"/>
<path d="M190.9 86.5L193.9 86.5M192.4 85.0L192.4 88.0M191.2 85.4L193.5 87.7M191.2 87.7L193.5 85.4" stroke="#e8202a" stroke-width="0.8"/>
<path d="M195.2 85.8L198.2 85.8M196.7 84.3L196.7 87.3M195.6 84.7L197.9 86.9M195.6 86.9L197.9 84.7" stroke="#e8202a" stroke-width="0.8"/>
<path d="M198.1 87.3L201.1 87.3M199.6 85.8L199.6 88.8M198.5 86.1L200.8 88.4M198.5 88.4L200.8 86.1" stroke="#e8202a" stroke-width="0.8"/>
<path d="M158.9 87.3L161.9 87.3M160.4 85.8L160.4 88.8M159.2 86.1L161.5 88.4M159.2 88.4L161.5 86.1" stroke="#e8202a" stroke-width="0.8"/>
<path d="M161.8 88.7L164.8 88.7M163.3 87.2L163.3 90.2M162.1 87.6L164.4 89.9M162.1 89.9L164.4 87.6" stroke="#e8202a" stroke-width="0.8"/>
<path d="M167.6 87.3L170.6 87.3M169.1 85.8L169.1 88.8M168.0 86.1L170.2 88.4M168.0 88.4L170.2 86.1" stroke="#e8202a" stroke-width="0.8"/>
<path d="M171.2 88.0L174.2 88.0M172.7 86.5L172.7 89.5M171.6 86.9L173.9 89.1M171.6 89.1L173.9 86.9" stroke="#e8202a" stroke-width="0.8"/>
<path d="M174.9 88.7L177.9 88.7M176.4 87.2L176.4 90.2M175.2 87.6L177.5 89.9M175.2 89.9L177.5 87.6" stroke="#e8202a" stroke-width="0.8"/>
<path d="M179.2 86.5L182.2 86.5M180.7 85.0L180.7 88.0M179.6 85.4L181.9 87.7M179.6 87.7L181.9 85.4" stroke="#e8202a" stroke-width="0.8"/>
<path d="M182.1 90.2L185.1 90.2M183.6 88.7L183.6 91.7M182.5 89.1L184.8 91.3M182.5 91.3L184.8 89.1" stroke="#e8202a" stroke-width="0.8"/>
<path d="M186.5 90.2L189.5 90.2M188.0 88.7L188.0 91.7M186.9 89.1L189.1 91.3M186.9 91.3L189.1 89.1" stroke="#e8202a" stroke-width="0.8"/>
<path d="M189.4 88.7L192.4 88.7M190.9 87.2L190.9 90.2M189.8 87.6L192.0 89.9M189.8 89.9L192.0 87.6" stroke="#e8202a" stroke-width="0.8"/>
<path d="M153.0 86.5L156.0 86.5M154.5 85.0L154.5 88.0M153.4 85.4L155.7 87.7M153.4 87.7L155.7 85.4" stroke="#e8202a" stroke-width="0.8"/>
<path d="M150.1 89.5L153.1 89.5M151.6 88.0L151.6 91.0M150.5 88.3L152.8 90.6M150.5 90.6L152.8 88.3" stroke="#e8202a" stroke-width="0.8"/>
<path d="M156.0 90.2L159.0 90.2M157.5 88.7L157.5 91.7M156.3 89.1L158.6 91.3M156.3 91.3L158.6 89.1" stroke="#e8202a" stroke-width="0.8"/>
<path d="M145.8 91.6L148.8 91.6M147.3 90.1L147.3 93.1M146.1 90.5L148.4 92.8M146.1 92.8L148.4 90.5" stroke="#e8202a" stroke-width="0.8"/>
<path d="M142.9 93.1L145.9 93.1M144.4 91.6L144.4 94.6M143.2 92.0L145.5 94.2M143.2 94.2L145.5 92.0" stroke="#e8202a" stroke-width="0.8"/>
<path d="M135.6 91.6L138.6 91.6M137.1 90.1L137.1 93.1M136.0 90.5L138.2 92.8M136.0 92.8L138.2 90.5" stroke="#e8202a" stroke-width="0.8"/>
<path d="M137.0 96.0L140.0 96.0M138.5 94.5L138.5 97.5M137.4 94.9L139.7 97.1M137.4 97.1L139.7 94.9" stroke="#e8202a" stroke-width="0.8"/>
<path d="M158.9 94.5L161.9 94.5M160.4 93.0L160.4 96.0M159.2 93.4L161.5 95.7M159.2 95.7L161.5 93.4" stroke="#e8202a" stroke-width="0.8"/>
<path d="M161.8 96.0L164.8 96.0M163.3 94.5L163.3 97.5M162.1 94.9L164.4 97.1M162.1 97.1L164.4 94.9" stroke="#e8202a" stroke-width="0.8"/>
<path d="M166.1 93.8L169.1 93.8M167.6 92.3L167.6 95.3M166.5 92.7L168.8 94.9M166.5 94.9L168.8 92.7" stroke="#e8202a" stroke-width="0.8"/>
<path d="M170.5 91.6L173.5 91.6M172.0 90.1L172.0 93.1M170.9 90.5L173.1 92.8M170.9 92.8L173.1 90.5" stroke="#e8202a" stroke-width="0.8"/>
<path d="M177.8 91.6L180.8 91.6M179.3 90.1L179.3 93.1M178.1 90.5L180.4 92.8M178.1 92.8L180.4 90.5" stroke="#e8202a" stroke-width="0.8"/>
<path d="M180.7 94.5L183.7 94.5M182.2 93.0L182.2 96.0M181.1 93.4L183.3 95.7M181.1 95.7L183.3 93.4" stroke="#e8202a" stroke-width="0.8"/>
<path d="M185.0 93.1L188.0 93.1M186.5 91.6L186.5 94.6M185.4 92.0L187.7 94.2M185.4 94.2L187.7 92.0" stroke="#e8202a" stroke-width="0.8"/>
<path d="M196.0 91.6L199.0 91.6M197.5 90.1L197.5 93.1M196.3 90.5L198.6 92.8M196.3 92.8L198.6 90.5" stroke="#e8202a" stroke-width="0.8"/>
<path d="M198.1 94.5L201.1 94.5M199.6 93.0L199.6 96.0M198.5 93.4L200.8 95.7M198.5 95.7L200.8 93.4" stroke="#e8202a" stroke-width="0.8"/>
<path d="M126.9 94.5L129.9 94.5M128.4 93.0L128.4 96.0M127.2 93.4L129.5 95.7M127.2 95.7L129.5 93.4" stroke="#e8202a" stroke-width="0.8"/>
<path d="M125.4 96.7L128.4 96.7M126.9 95.2L126.9 98.2M125.8 95.6L128.0 97.9M125.8 97.9L128.0 95.6" stroke="#e8202a" stroke-width="0.8"/>
<path d="M151.6 94.5L154.6 94.5M153.1 93.0L153.1 96.0M152.0 93.4L154.2 95.7M152.0 95.7L154.2 93.4" stroke="#e8202a" stroke-width="0.8"/>
<path d="M156.0 96.7L159.0 96.7M157.5 95.2L157.5 98.2M156.3 95.6L158.6 97.9M156.3 97.9L158.6 95.6" stroke="#e8202a" stroke-width="0.8"/>
<path d="M199.8 68.3L202.8 68.3M201.3 66.8L201.3 69.8M200.2 67.1L202.4 69.4M200.2 69.4L202.4 67.1" stroke="#e8202a" stroke-width="0.8"/>
<path d="M207.0 74.9L210.0 74.9M208.5 73.4L208.5 76.4M207.4 73.8L209.6 76.1M207.4 76.1L209.6 73.8" stroke="#e8202a" stroke-width="0.8"/>
<path d="M195.6 85.8L198.6 85.8M197.1 84.3L197.1 87.3M195.9 84.6L198.2 86.9M195.9 86.9L198.2 84.6" stroke="#e8202a" stroke-width="0.8"/>
<path d="M198.5 87.7L201.5 87.7M200.0 86.2L200.0 89.2M198.9 86.6L201.2 88.8M198.9 88.8L201.2 86.6" stroke="#e8202a" stroke-width="0.8"/>
<path d="M207.0 85.8L210.0 85.8M208.5 84.3L208.5 87.3M207.4 84.6L209.6 86.9M207.4 86.9L209.6 84.6" stroke="#e8202a" stroke-width="0.8"/>
<path d="M216.2 88.4L219.2 88.4M217.7 86.9L217.7 89.9M216.6 87.3L218.9 89.5M216.6 89.5L218.9 87.3" stroke="#e8202a" stroke-width="0.8"/>
<path d="M197.5 92.1L200.5 92.1M199.0 90.6L199.0 93.6M197.8 91.0L200.1 93.3M197.8 93.3L200.1 91.0" stroke="#e8202a" stroke-width="0.8"/>
<path d="M198.2 94.5L201.2 94.5M199.7 93.0L199.7 96.0M198.6 93.3L200.8 95.6M198.6 95.6L200.8 93.3" stroke="#e8202a" stroke-width="0.8"/>
<path d="M207.4 94.0L210.4 94.0M208.9 92.5L208.9 95.5M207.8 92.9L210.1 95.2M207.8 95.2L210.1 92.9" stroke="#e8202a" stroke-width="0.8"/>
<path d="M212.3 91.6L215.3 91.6M213.8 90.1L213.8 93.1M212.7 90.5L214.9 92.7M212.7 92.7L214.9 90.5" stroke="#e8202a" stroke-width="0.8"/>
<path d="M214.1 94.3L217.1 94.3M215.6 92.8L215.6 95.8M214.5 93.1L216.8 95.4M214.5 95.4L216.8 93.1" stroke="#e8202a" stroke-width="0.8"/>
<path d="M194.5 80.5L197.5 80.5M196.0 79.0L196.0 82.0M194.9 79.3L197.1 81.6M194.9 81.6L197.1 79.3" stroke="#e8202a" stroke-width="0.8"/>
<path d="M71.6 99.8L74.6 99.8M73.1 98.3L73.1 101.3M72.0 98.7L74.2 100.9M72.0 100.9L74.2 98.7" stroke="#e8202a" stroke-width="0.8"/>
<path d="M73.0 102.7L76.0 102.7M74.5 101.2L74.5 104.2M73.4 101.6L75.7 103.9M73.4 103.9L75.7 101.6" stroke="#e8202a" stroke-width="0.8"/>
<path d="M78.1 97.6L81.1 97.6M79.6 96.1L79.6 99.1M78.5 96.5L80.8 98.8M78.5 98.8L80.8 96.5" stroke="#e8202a" stroke-width="0.8"/>
<path d="M79.6 99.8L82.6 99.8M81.1 98.3L81.1 101.3M80.0 98.7L82.2 100.9M80.0 100.9L82.2 98.7" stroke="#e8202a" stroke-width="0.8"/>
<path d="M72.3 106.4L75.3 106.4M73.8 104.9L73.8 107.9M72.7 105.2L74.9 107.5M72.7 107.5L74.9 105.2" stroke="#e8202a" stroke-width="0.8"/>
<path d="M73.8 111.5L76.8 111.5M75.3 110.0L75.3 113.0M74.1 110.3L76.4 112.6M74.1 112.6L76.4 110.3" stroke="#e8202a" stroke-width="0.8"/>
<path d="M73.0 113.6L76.0 113.6M74.5 112.1L74.5 115.1M73.4 112.5L75.7 114.8M73.4 114.8L75.7 112.5" stroke="#e8202a" stroke-width="0.8"/>
<path d="M81.8 100.5L84.8 100.5M83.3 99.0L83.3 102.0M82.1 99.4L84.4 101.7M82.1 101.7L84.4 99.4" stroke="#e8202a" stroke-width="0.8"/>
<path d="M86.1 104.2L89.1 104.2M87.6 102.7L87.6 105.7M86.5 103.1L88.8 105.3M86.5 105.3L88.8 103.1" stroke="#e8202a" stroke-width="0.8"/>
<path d="M88.3 103.5L91.3 103.5M89.8 102.0L89.8 105.0M88.7 102.3L90.9 104.6M88.7 104.6L90.9 102.3" stroke="#e8202a" stroke-width="0.8"/>
<path d="M90.5 104.2L93.5 104.2M92.0 102.7L92.0 105.7M90.9 103.1L93.1 105.3M90.9 105.3L93.1 103.1" stroke="#e8202a" stroke-width="0.8"/>
<path d="M93.4 108.5L96.4 108.5M94.9 107.0L94.9 110.0M93.8 107.4L96.0 109.7M93.8 109.7L96.0 107.4" stroke="#e8202a" stroke-width="0.8"/>
<path d="M97.8 99.8L100.8 99.8M99.3 98.3L99.3 101.3M98.1 98.7L100.4 100.9M98.1 100.9L100.4 98.7" stroke="#e8202a" stroke-width="0.8"/>
<path d="M100.0 96.2L103.0 96.2M101.5 94.7L101.5 97.7M100.3 95.1L102.6 97.3M100.3 97.3L102.6 95.1" stroke="#e8202a" stroke-width="0.8"/>
<path d="M101.4 98.4L104.4 98.4M102.9 96.9L102.9 99.9M101.8 97.2L104.0 99.5M101.8 99.5L104.0 97.2" stroke="#e8202a" stroke-width="0.8"/>
<path d="M103.6 96.2L106.6 96.2M105.1 94.7L105.1 97.7M104.0 95.1L106.2 97.3M104.0 97.3L106.2 95.1" stroke="#e8202a" stroke-width="0.8"/>
<path d="M109.4 96.9L112.4 96.9M110.9 95.4L110.9 98.4M109.8 95.8L112.0 98.0M109.8 98.0L112.0 95.8" stroke="#e8202a" stroke-width="0.8"/>
<path d="M110.9 99.8L113.9 99.8M112.4 98.3L112.4 101.3M111.2 98.7L113.5 100.9M111.2 100.9L113.5 98.7" stroke="#e8202a" stroke-width="0.8"/>
<path d="M115.2 97.6L118.2 97.6M116.7 96.1L116.7 99.1M115.6 96.5L117.9 98.8M115.6 98.8L117.9 96.5" stroke="#e8202a" stroke-width="0.8"/>
<path d="M118.1 99.8L121.1 99.8M119.6 98.3L119.6 101.3M118.5 98.7L120.8 100.9M118.5 100.9L120.8 98.7" stroke="#e8202a" stroke-width="0.8"/>
<path d="M121.0 98.4L124.0 98.4M122.5 96.9L122.5 99.9M121.4 97.2L123.7 99.5M121.4 99.5L123.7 97.2" stroke="#e8202a" stroke-width="0.8"/>
<path d="M103.6 102.7L106.6 102.7M105.1 101.2L105.1 104.2M104.0 101.6L106.2 103.9M104.0 103.9L106.2 101.6" stroke="#e8202a" stroke-width="0.8"/>
<path d="M106.5 105.6L109.5 105.6M108.0 104.1L108.0 107.1M106.9 104.5L109.1 106.8M106.9 106.8L109.1 104.5" stroke="#e8202a" stroke-width="0.8"/>
<path d="M102.1 109.3L105.1 109.3M103.6 107.8L103.6 110.8M102.5 108.1L104.8 110.4M102.5 110.4L104.8 108.1" stroke="#e8202a" stroke-width="0.8"/>
<path d="M81.8 106.4L84.8 106.4M83.3 104.9L83.3 107.9M82.1 105.2L84.4 107.5M82.1 107.5L84.4 105.2" stroke="#e8202a" stroke-width="0.8"/>
<path d="M87.6 115.1L90.6 115.1M89.1 113.6L89.1 116.6M88.0 114.0L90.2 116.2M88.0 116.2L90.2 114.0" stroke="#e8202a" stroke-width="0.8"/>
<path d="M77.4 95.5L80.4 95.5M78.9 94.0L78.9 97.0M77.8 94.3L80.0 96.6M77.8 96.6L80.0 94.3" stroke="#e8202a" stroke-width="0.8"/>
<path d="M84.7 94.7L87.7 94.7M86.2 93.2L86.2 96.2M85.1 93.6L87.3 95.9M85.1 95.9L87.3 93.6" stroke="#e8202a" stroke-width="0.8"/>
<path d="M94.9 94.7L97.9 94.7M96.4 93.2L96.4 96.2M95.2 93.6L97.5 95.9M95.2 95.9L97.5 93.6" stroke="#e8202a" stroke-width="0.8"/>
<path d="M76.7 107.1L79.7 107.1M78.2 105.6L78.2 108.6M77.1 106.0L79.3 108.2M77.1 108.2L79.3 106.0" stroke="#e8202a" stroke-width="0.8"/>
<path d="M125.4 94.7L128.4 94.7M126.9 93.2L126.9 96.2M125.8 93.6L128.0 95.9M125.8 95.9L128.0 93.6" stroke="#e8202a" stroke-width="0.8"/>
<path d="M128.3 96.9L131.3 96.9M129.8 95.4L129.8 98.4M128.7 95.8L130.9 98.0M128.7 98.0L130.9 95.8" stroke="#e8202a" stroke-width="0.8"/>
<path d="M126.9 104.2L129.9 104.2M128.4 102.7L128.4 105.7M127.2 103.1L129.5 105.3M127.2 105.3L129.5 103.1" stroke="#e8202a" stroke-width="0.8"/>
<path d="M136.3 95.5L139.3 95.5M137.8 94.0L137.8 97.0M136.7 94.3L138.9 96.6M136.7 96.6L138.9 94.3" stroke="#e8202a" stroke-width="0.8"/>
<path d="M140.0 98.4L143.0 98.4M141.5 96.9L141.5 99.9M140.3 97.2L142.6 99.5M140.3 99.5L142.6 97.2" stroke="#e8202a" stroke-width="0.8"/>
<path d="M143.6 94.7L146.6 94.7M145.1 93.2L145.1 96.2M144.0 93.6L146.2 95.9M144.0 95.9L146.2 93.6" stroke="#e8202a" stroke-width="0.8"/>
<path d="M145.8 100.5L148.8 100.5M147.3 99.0L147.3 102.0M146.1 99.4L148.4 101.7M146.1 101.7L148.4 99.4" stroke="#e8202a" stroke-width="0.8"/>
<path d="M153.8 100.5L156.8 100.5M155.3 99.0L155.3 102.0M154.1 99.4L156.4 101.7M154.1 101.7L156.4 99.4" stroke="#e8202a" stroke-width="0.8"/>
<path d="M158.1 96.2L161.1 96.2M159.6 94.7L159.6 97.7M158.5 95.1L160.8 97.3M158.5 97.3L160.8 95.1" stroke="#e8202a" stroke-width="0.8"/>
<path d="M160.3 94.7L163.3 94.7M161.8 93.2L161.8 96.2M160.7 93.6L162.9 95.9M160.7 95.9L162.9 93.6" stroke="#e8202a" stroke-width="0.8"/>
<path d="M164.7 98.4L167.7 98.4M166.2 96.9L166.2 99.9M165.1 97.2L167.3 99.5M165.1 99.5L167.3 97.2" stroke="#e8202a" stroke-width="0.8"/>
<path d="M174.1 97.6L177.1 97.6M175.6 96.1L175.6 99.1M174.5 96.5L176.8 98.8M174.5 98.8L176.8 96.5" stroke="#e8202a" stroke-width="0.8"/>
<path d="M180.7 95.5L183.7 95.5M182.2 94.0L182.2 97.0M181.1 94.3L183.3 96.6M181.1 96.6L183.3 94.3" stroke="#e8202a" stroke-width="0.8"/>
<path d="M198.1 94.7L201.1 94.7M199.6 93.2L199.6 96.2M198.5 93.6L200.8 95.9M198.5 95.9L200.8 93.6" stroke="#e8202a" stroke-width="0.8"/>
<path d="M123.2 99.1L126.2 99.1M124.7 97.6L124.7 100.6M123.6 98.0L125.9 100.2M123.6 100.2L125.9 98.0" stroke="#e8202a" stroke-width="0.8"/>
<path d="M132.0 100.5L135.0 100.5M133.5 99.0L133.5 102.0M132.3 99.4L134.6 101.7M132.3 101.7L134.6 99.4" stroke="#e8202a" stroke-width="0.8"/>
<path d="M85.7 88.6L88.7 88.6M87.2 87.1L87.2 90.1M86.1 87.5L88.3 89.8M86.1 89.8L88.3 87.5" stroke="#e8202a" stroke-width="0.8"/>
<path d="M89.8 89.8L92.8 89.8M91.3 88.3L91.3 91.3M90.2 88.7L92.4 90.9M90.2 90.9L92.4 88.7" stroke="#e8202a" stroke-width="0.8"/>
<path d="M101.6 88.0L104.6 88.0M103.1 86.5L103.1 89.5M102.0 86.9L104.3 89.2M102.0 89.2L104.3 86.9" stroke="#e8202a" stroke-width="0.8"/>
<path d="M101.1 92.2L104.1 92.2M102.6 90.7L102.6 93.7M101.4 91.1L103.7 93.3M101.4 93.3L103.7 91.1" stroke="#e8202a" stroke-width="0.8"/>
<path d="M96.3 94.0L99.3 94.0M97.8 92.5L97.8 95.5M96.7 92.8L99.0 95.1M96.7 95.1L99.0 92.8" stroke="#e8202a" stroke-width="0.8"/>
<path d="M92.8 95.7L95.8 95.7M94.3 94.2L94.3 97.2M93.2 94.6L95.4 96.9M93.2 96.9L95.4 94.6" stroke="#e8202a" stroke-width="0.8"/>
<path d="M99.9 96.3L102.9 96.3M101.4 94.8L101.4 97.8M100.2 95.2L102.5 97.4M100.2 97.4L102.5 95.2" stroke="#e8202a" stroke-width="0.8"/>
<path d="M108.1 96.9L111.1 96.9M109.6 95.4L109.6 98.4M108.5 95.8L110.8 98.0M108.5 98.0L110.8 95.8" stroke="#e8202a" stroke-width="0.8"/>
<path d="M114.1 92.8L117.1 92.8M115.6 91.3L115.6 94.3M114.4 91.7L116.7 93.9M114.4 93.9L116.7 91.7" stroke="#e8202a" stroke-width="0.8"/>
<path d="M115.2 85.1L118.2 85.1M116.7 83.6L116.7 86.6M115.6 84.0L117.9 86.2M115.6 86.2L117.9 84.0" stroke="#e8202a" stroke-width="0.8"/>
<path d="M118.8 86.3L121.8 86.3M120.3 84.8L120.3 87.8M119.2 85.1L121.4 87.4M119.2 87.4L121.4 85.1" stroke="#e8202a" stroke-width="0.8"/>
<path d="M111.7 83.9L114.7 83.9M113.2 82.4L113.2 85.4M112.1 82.8L114.3 85.0M112.1 85.0L114.3 82.8" stroke="#e8202a" stroke-width="0.8"/>
<path d="M122.3 89.8L125.3 89.8M123.8 88.3L123.8 91.3M122.7 88.7L125.0 90.9M122.7 90.9L125.0 88.7" stroke="#e8202a" stroke-width="0.8"/>
<path d="M118.8 95.7L121.8 95.7M120.3 94.2L120.3 97.2M119.2 94.6L121.4 96.9M119.2 96.9L121.4 94.6" stroke="#e8202a" stroke-width="0.8"/>
<path d="M79.2 96.3L82.2 96.3M80.7 94.8L80.7 97.8M79.6 95.2L81.8 97.4M79.6 97.4L81.8 95.2" stroke="#e8202a" stroke-width="0.8"/>
<path d="M140.0 101.8L143.0 101.8M141.5 100.3L141.5 103.3M140.4 100.7L142.6 103.0M140.4 103.0L142.6 100.7" stroke="#e8202a" stroke-width="0.8"/>
<path d="M127.5 107.5L130.5 107.5M129.0 106.0L129.0 109.0M127.9 106.4L130.1 108.6M127.9 108.6L130.1 106.4" stroke="#e8202a" stroke-width="0.8"/>
<path d="M81.9 100.5L84.9 100.5M83.4 99.0L83.4 102.0M82.3 99.4L84.5 101.7M82.3 101.7L84.5 99.4" stroke="#e8202a" stroke-width="0.8"/>
<path d="M110.1 88.4L113.1 88.4M111.6 86.9L111.6 89.9M110.4 87.3L112.7 89.5M110.4 89.5L112.7 87.3" stroke="#e8202a" stroke-width="0.8"/>
<path d="M67.8 92.3L70.8 92.3M69.3 90.8L69.3 93.8M68.2 91.2L70.4 93.4M68.2 93.4L70.4 91.2" stroke="#e8202a" stroke-width="0.8"/>
<path d="M144.0 95.7L147.0 95.7M145.5 94.2L145.5 97.2M144.4 94.6L146.6 96.8M144.4 96.8L146.6 94.6" stroke="#e8202a" stroke-width="0.8"/>
<path d="M77.3 92.2L80.3 92.2M78.8 90.7L78.8 93.7M77.7 91.1L79.9 93.4M77.7 93.4L79.9 91.1" stroke="#e8202a" stroke-width="0.8"/>
<path d="M140.3 92.7L143.3 92.7M141.8 91.2L141.8 94.2M140.7 91.6L142.9 93.8M140.7 93.8L142.9 91.6" stroke="#e8202a" stroke-width="0.8"/>
<path d="M97.0 100.3L100.0 100.3M98.5 98.8L98.5 101.8M97.3 99.2L99.6 101.4M97.3 101.4L99.6 99.2" stroke="#e8202a" stroke-width="0.8"/>
<path d="M131.0 96.8L134.0 96.8M132.5 95.3L132.5 98.3M131.4 95.7L133.6 97.9M131.4 97.9L133.6 95.7" stroke="#e8202a" stroke-width="0.8"/>
<path d="M65.8 98.9L68.8 98.9M67.3 97.4L67.3 100.4M66.2 97.8L68.5 100.0M66.2 100.0L68.5 97.8" stroke="#e8202a" stroke-width="0.8"/>
<path d="M75.6 102.0L78.6 102.0M77.1 100.5L77.1 103.5M76.0 100.9L78.3 103.2M76.0 103.2L78.3 100.9" stroke="#e8202a" stroke-width="0.8"/>
<path d="M84.0 101.9L87.0 101.9M85.5 100.4L85.5 103.4M84.4 100.8L86.6 103.1M84.4 103.1L86.6 100.8" stroke="#e8202a" stroke-width="0.8"/>
<path d="M135.8 89.7L138.8 89.7M137.3 88.2L137.3 91.2M136.2 88.6L138.4 90.8M136.2 90.8L138.4 88.6" stroke="#e8202a" stroke-width="0.8"/>
<path d="M116.5 91.8L119.5 91.8M118.0 90.3L118.0 93.3M116.9 90.7L119.2 92.9M116.9 92.9L119.2 90.7" stroke="#e8202a" stroke-width="0.8"/>
<path d="M70.8 100.8L73.8 100.8M72.3 99.3L72.3 102.3M71.2 99.7L73.4 101.9M71.2 101.9L73.4 99.7" stroke="#e8202a" stroke-width="0.8"/>
<path d="M112.5 95.6L115.5 95.6M114.0 94.1L114.0 97.1M112.9 94.5L115.1 96.8M112.9 96.8L115.1 94.5" stroke="#e8202a" stroke-width="0.8"/>
<path d="M72.3 100.6L75.3 100.6M73.8 99.1L73.8 102.1M72.6 99.5L74.9 101.7M72.6 101.7L74.9 99.5" stroke="#e8202a" stroke-width="0.8"/>
<path d="M155.1 82.3L158.1 82.3M156.6 80.8L156.6 83.8M155.4 81.2L157.7 83.4M155.4 83.4L157.7 81.2" stroke="#e8202a" stroke-width="0.8"/>
<path d="M152.7 92.8L155.7 92.8M154.2 91.3L154.2 94.3M153.1 91.7L155.4 93.9M153.1 93.9L155.4 91.7" stroke="#e8202a" stroke-width="0.8"/>
<path d="M160.5 88.2L163.5 88.2M162.0 86.7L162.0 89.7M160.9 87.1L163.2 89.3M160.9 89.3L163.2 87.1" stroke="#e8202a" stroke-width="0.8"/>
<path d="M153.2 86.2L156.2 86.2M154.7 84.7L154.7 87.7M153.6 85.0L155.8 87.3M153.6 87.3L155.8 85.0" stroke="#e8202a" stroke-width="0.8"/>
<path d="M149.5 82.5L152.5 82.5M151.0 81.0L151.0 84.0M149.9 81.4L152.1 83.6M149.9 83.6L152.1 81.4" stroke="#e8202a" stroke-width="0.8"/>
<path d="M155.1 89.4L158.1 89.4M156.6 87.9L156.6 90.9M155.5 88.3L157.7 90.5M155.5 90.5L157.7 88.3" stroke="#e8202a" stroke-width="0.8"/>
<path d="M140.6 86.3L143.6 86.3M142.1 84.8L142.1 87.8M141.0 85.2L143.3 87.4M141.0 87.4L143.3 85.2" stroke="#e8202a" stroke-width="0.8"/>
<path d="M157.0 87.2L160.0 87.2M158.5 85.7L158.5 88.7M157.4 86.1L159.6 88.3M157.4 88.3L159.6 86.1" stroke="#e8202a" stroke-width="0.8"/>
<path d="M52.0 81.5L165.6 66.6" stroke="#7a74e0" stroke-width="0.7" fill="none"/>
<path d="M50.1 89.5L138.1 89.5" stroke="#98e498" stroke-width="0.7" fill="none"/>
<path d="M120.5 102.8L222.6 85.6" stroke="#60d8e8" stroke-width="0.7" fill="none"/>
<path d="M51.5 106.8L240.9 123.3" stroke="#e878e8" stroke-width="0.7" fill="none"/>
<path d="M60.7 103.5L217.7 81.5" stroke="#ec6060" stroke-width="0.7" fill="none"/>
<path d="M32.5 163.5L243.7 15.5" stroke="#64a8c8" stroke-width="0.9" fill="none"/>
<rect x="185.7" y="14.7" width="59.3" height="42.8" fill="#fff" stroke="#aaa" stroke-width="0.8"/>
<circle cx="196.7" cy="19.8" r="1.85" fill="none" stroke="#625cdc" stroke-width="0.75"/>
<text x="208.1" y="22.5" class="lg">Canola</text>
<path d="M195.3 26.8L198.1 29.5M195.3 29.5L198.1 26.8" stroke="#30d830" stroke-width="0.7"/>
<text x="208.1" y="30.8" class="lg">Corn</text>
<path d="M194.8 35.4L198.6 35.4L196.7 38.4Z" fill="none" stroke="#2ad8e0" stroke-width="0.7"/>
<text x="208.1" y="39.2" class="lg">Grassland</text>
<circle cx="196.7" cy="44.8" r="1.6" fill="none" stroke="#e040e0" stroke-width="0.8"/>
<text x="208.1" y="47.5" class="lg">Soybeans</text>
<path d="M195.2 53.2L198.2 53.2M196.7 51.7L196.7 54.7M195.6 52.1L197.8 54.3M195.6 54.3L197.8 52.1" stroke="#e8202a" stroke-width="0.8"/>
<text x="208.1" y="55.9" class="lg">Cereal</text>
<text x="138.1" y="11.8" class="ti" text-anchor="middle">Sensitivity between HH polarization and in situ SSM</text>
<path d="M32.5 15.5V163.5H243.7" class="ax"/>
<path d="M32.5 163.5h2" class="ax"/>
<text x="28.7" y="166.9" class="tk" text-anchor="end">-30</text>
<path d="M32.5 138.8h2" class="ax"/>
<text x="28.7" y="142.2" class="tk" text-anchor="end">-25</text>
<path d="M32.5 114.2h2" class="ax"/>
<text x="28.7" y="117.6" class="tk" text-anchor="end">-20</text>
<path d="M32.5 89.5h2" class="ax"/>
<text x="28.7" y="92.9" class="tk" text-anchor="end">-15</text>
<path d="M32.5 64.8h2" class="ax"/>
<text x="28.7" y="68.2" class="tk" text-anchor="end">-10</text>
<path d="M32.5 40.2h2" class="ax"/>
<text x="28.7" y="43.6" class="tk" text-anchor="end">-5</text>
<path d="M32.5 15.5h2" class="ax"/>
<text x="28.7" y="18.9" class="tk" text-anchor="end">0</text>
<path d="M32.5 163.5v-2" class="ax"/>
<text x="32.5" y="174.5" class="tk" text-anchor="middle">0</text>
<path d="M67.7 163.5v-2" class="ax"/>
<text x="67.7" y="174.5" class="tk" text-anchor="middle">0.1</text>
<path d="M102.9 163.5v-2" class="ax"/>
<text x="102.9" y="174.5" class="tk" text-anchor="middle">0.2</text>
<path d="M138.1 163.5v-2" class="ax"/>
<text x="138.1" y="174.5" class="tk" text-anchor="middle">0.3</text>
<path d="M173.3 163.5v-2" class="ax"/>
<text x="173.3" y="174.5" class="tk" text-anchor="middle">0.4</text>
<path d="M208.5 163.5v-2" class="ax"/>
<text x="208.5" y="174.5" class="tk" text-anchor="middle">0.5</text>
<path d="M243.7 163.5v-2" class="ax"/>
<text x="243.7" y="174.5" class="tk" text-anchor="middle">0.6</text>
<text x="138.1" y="188.5" class="xl" text-anchor="middle">in situ SSM (cm<tspan dy="-4.8" font-size="7.6">3</tspan><tspan dy="4.8">/cm</tspan><tspan dy="-4.8" font-size="7.6">3</tspan><tspan dy="4.8">)</tspan></text>
<text transform="translate(12.3 89.5) rotate(-90)" class="yl" text-anchor="middle">HH backscattering coefficient (dB)</text>
<text x="133.6" y="208.0" class="sub" text-anchor="middle">(a)</text>
<circle cx="393.8" cy="67.3" r="1.85" fill="none" stroke="#625cdc" stroke-width="0.75"/>
<circle cx="405.5" cy="67.3" r="1.85" fill="none" stroke="#625cdc" stroke-width="0.75"/>
<circle cx="378.5" cy="70.8" r="1.85" fill="none" stroke="#625cdc" stroke-width="0.75"/>
<circle cx="382.9" cy="73.5" r="1.85" fill="none" stroke="#625cdc" stroke-width="0.75"/>
<circle cx="358.9" cy="74.9" r="1.85" fill="none" stroke="#625cdc" stroke-width="0.75"/>
<circle cx="364.0" cy="75.6" r="1.85" fill="none" stroke="#625cdc" stroke-width="0.75"/>
<circle cx="366.9" cy="81.0" r="1.85" fill="none" stroke="#625cdc" stroke-width="0.75"/>
<circle cx="357.5" cy="79.3" r="1.85" fill="none" stroke="#625cdc" stroke-width="0.75"/>
<circle cx="356.0" cy="81.5" r="1.85" fill="none" stroke="#625cdc" stroke-width="0.75"/>
<circle cx="353.1" cy="82.9" r="1.85" fill="none" stroke="#625cdc" stroke-width="0.75"/>
<circle cx="379.3" cy="81.0" r="1.85" fill="none" stroke="#625cdc" stroke-width="0.75"/>
<circle cx="382.9" cy="82.9" r="1.85" fill="none" stroke="#625cdc" stroke-width="0.75"/>
<circle cx="396.0" cy="79.3" r="1.85" fill="none" stroke="#625cdc" stroke-width="0.75"/>
<circle cx="404.7" cy="77.8" r="1.85" fill="none" stroke="#625cdc" stroke-width="0.75"/>
<circle cx="412.0" cy="74.9" r="1.85" fill="none" stroke="#625cdc" stroke-width="0.75"/>
<circle cx="402.5" cy="85.1" r="1.85" fill="none" stroke="#625cdc" stroke-width="0.75"/>
<circle cx="414.2" cy="80.7" r="1.85" fill="none" stroke="#625cdc" stroke-width="0.75"/>
<circle cx="362.5" cy="89.5" r="1.85" fill="none" stroke="#625cdc" stroke-width="0.75"/>
<circle cx="425.8" cy="74.9" r="1.85" fill="none" stroke="#625cdc" stroke-width="0.75"/>
<circle cx="430.2" cy="74.2" r="1.85" fill="none" stroke="#625cdc" stroke-width="0.75"/>
<circle cx="430.2" cy="79.3" r="1.85" fill="none" stroke="#625cdc" stroke-width="0.75"/>
<circle cx="436.0" cy="78.5" r="1.85" fill="none" stroke="#625cdc" stroke-width="0.75"/>
<circle cx="451.3" cy="69.8" r="1.85" fill="none" stroke="#625cdc" stroke-width="0.75"/>
<circle cx="451.3" cy="71.3" r="1.85" fill="none" stroke="#625cdc" stroke-width="0.75"/>
<circle cx="459.3" cy="70.5" r="1.85" fill="none" stroke="#625cdc" stroke-width="0.75"/>
<circle cx="462.2" cy="68.4" r="1.85" fill="none" stroke="#625cdc" stroke-width="0.75"/>
<circle cx="449.8" cy="78.5" r="1.85" fill="none" stroke="#625cdc" stroke-width="0.75"/>
<circle cx="454.9" cy="82.9" r="1.85" fill="none" stroke="#625cdc" stroke-width="0.75"/>
<circle cx="449.1" cy="82.9" r="1.85" fill="none" stroke="#625cdc" stroke-width="0.75"/>
<circle cx="437.5" cy="83.6" r="1.85" fill="none" stroke="#625cdc" stroke-width="0.75"/>
<circle cx="430.2" cy="86.5" r="1.85" fill="none" stroke="#625cdc" stroke-width="0.75"/>
<circle cx="425.1" cy="87.3" r="1.85" fill="none" stroke="#625cdc" stroke-width="0.75"/>
<circle cx="348.7" cy="94.5" r="1.85" fill="none" stroke="#625cdc" stroke-width="0.75"/>
<circle cx="353.1" cy="105.5" r="1.85" fill="none" stroke="#625cdc" stroke-width="0.75"/>
<circle cx="355.3" cy="104.7" r="1.85" fill="none" stroke="#625cdc" stroke-width="0.75"/>
<circle cx="358.2" cy="102.5" r="1.85" fill="none" stroke="#625cdc" stroke-width="0.75"/>
<circle cx="388.0" cy="97.5" r="1.85" fill="none" stroke="#625cdc" stroke-width="0.75"/>
<circle cx="395.3" cy="92.4" r="1.85" fill="none" stroke="#625cdc" stroke-width="0.75"/>
<circle cx="402.5" cy="93.8" r="1.85" fill="none" stroke="#625cdc" stroke-width="0.75"/>
<circle cx="406.9" cy="92.4" r="1.85" fill="none" stroke="#625cdc" stroke-width="0.75"/>
<circle cx="412.7" cy="90.9" r="1.85" fill="none" stroke="#625cdc" stroke-width="0.75"/>
<circle cx="356.7" cy="97.5" r="1.85" fill="none" stroke="#625cdc" stroke-width="0.75"/>
<circle cx="362.5" cy="96.0" r="1.85" fill="none" stroke="#625cdc" stroke-width="0.75"/>
<circle cx="422.2" cy="89.5" r="1.85" fill="none" stroke="#625cdc" stroke-width="0.75"/>
<circle cx="425.8" cy="96.7" r="1.85" fill="none" stroke="#625cdc" stroke-width="0.75"/>
<circle cx="445.5" cy="98.2" r="1.85" fill="none" stroke="#625cdc" stroke-width="0.75"/>
<circle cx="385.8" cy="80.4" r="1.85" fill="none" stroke="#625cdc" stroke-width="0.75"/>
<circle cx="431.2" cy="88.3" r="1.85" fill="none" stroke="#625cdc" stroke-width="0.75"/>
<circle cx="397.4" cy="89.5" r="1.85" fill="none" stroke="#625cdc" stroke-width="0.75"/>
<circle cx="426.7" cy="89.3" r="1.85" fill="none" stroke="#625cdc" stroke-width="0.75"/>
<circle cx="365.6" cy="84.4" r="1.85" fill="none" stroke="#625cdc" stroke-width="0.75"/>
<circle cx="410.3" cy="79.5" r="1.85" fill="none" stroke="#625cdc" stroke-width="0.75"/>
<path d="M361.9 51.0L364.7 53.8M361.9 53.8L364.7 51.0" stroke="#30d830" stroke-width="0.7"/>
<path d="M369.9 51.0L372.7 53.8M369.9 53.8L372.7 51.0" stroke="#30d830" stroke-width="0.7"/>
<path d="M388.8 50.2L391.6 53.0M388.8 53.0L391.6 50.2" stroke="#30d830" stroke-width="0.7"/>
<path d="M394.6 53.9L397.4 56.7M394.6 56.7L397.4 53.9" stroke="#30d830" stroke-width="0.7"/>
<path d="M400.4 50.2L403.2 53.0M400.4 53.0L403.2 50.2" stroke="#30d830" stroke-width="0.7"/>
<path d="M402.6 44.1L405.4 46.9M402.6 46.9L405.4 44.1" stroke="#30d830" stroke-width="0.7"/>
<path d="M383.0 59.7L385.8 62.5M383.0 62.5L385.8 59.7" stroke="#30d830" stroke-width="0.7"/>
<path d="M375.7 64.1L378.5 66.9M375.7 66.9L378.5 64.1" stroke="#30d830" stroke-width="0.7"/>
<path d="M352.4 68.4L355.2 71.2M352.4 71.2L355.2 68.4" stroke="#30d830" stroke-width="0.7"/>
<path d="M359.7 66.2L362.5 69.0M359.7 69.0L362.5 66.2" stroke="#30d830" stroke-width="0.7"/>
<path d="M362.6 65.5L365.4 68.3M362.6 68.3L365.4 65.5" stroke="#30d830" stroke-width="0.7"/>
<path d="M365.5 65.5L368.3 68.3M365.5 68.3L368.3 65.5" stroke="#30d830" stroke-width="0.7"/>
<path d="M368.4 67.0L371.2 69.8M368.4 69.8L371.2 67.0" stroke="#30d830" stroke-width="0.7"/>
<path d="M362.6 69.9L365.4 72.7M362.6 72.7L365.4 69.9" stroke="#30d830" stroke-width="0.7"/>
<path d="M372.8 69.1L375.6 71.9M372.8 71.9L375.6 69.1" stroke="#30d830" stroke-width="0.7"/>
<path d="M353.1 73.5L355.9 76.3M353.1 76.3L355.9 73.5" stroke="#30d830" stroke-width="0.7"/>
<path d="M359.7 74.2L362.5 77.0M359.7 77.0L362.5 74.2" stroke="#30d830" stroke-width="0.7"/>
<path d="M369.1 72.1L371.9 74.9M369.1 74.9L371.9 72.1" stroke="#30d830" stroke-width="0.7"/>
<path d="M348.1 79.3L350.9 82.1M348.1 82.1L350.9 79.3" stroke="#30d830" stroke-width="0.7"/>
<path d="M417.1 69.9L419.9 72.7M417.1 72.7L419.9 69.9" stroke="#30d830" stroke-width="0.7"/>
<path d="M401.1 73.5L403.9 76.3M401.1 76.3L403.9 73.5" stroke="#30d830" stroke-width="0.7"/>
<path d="M377.9 69.9L380.7 72.7M377.9 72.7L380.7 69.9" stroke="#30d830" stroke-width="0.7"/>
<path d="M375.0 74.2L377.8 77.0M375.0 77.0L377.8 74.2" stroke="#30d830" stroke-width="0.7"/>
<path d="M391.0 82.2L393.8 85.0M391.0 85.0L393.8 82.2" stroke="#30d830" stroke-width="0.7"/>
<path d="M417.1 65.5L419.9 68.3M417.1 68.3L419.9 65.5" stroke="#30d830" stroke-width="0.7"/>
<path d="M423.0 43.0L425.8 45.8M423.0 45.8L425.8 43.0" stroke="#30d830" stroke-width="0.7"/>
<path d="M419.3 64.1L422.1 66.9M419.3 66.9L422.1 64.1" stroke="#30d830" stroke-width="0.7"/>
<path d="M421.5 77.9L424.3 80.7M421.5 80.7L424.3 77.9" stroke="#30d830" stroke-width="0.7"/>
<path d="M437.5 73.5L440.3 76.3M437.5 76.3L440.3 73.5" stroke="#30d830" stroke-width="0.7"/>
<path d="M345.1 104.1L347.9 106.9M345.1 106.9L347.9 104.1" stroke="#30d830" stroke-width="0.7"/>
<path d="M349.5 98.2L352.3 101.0M349.5 101.0L352.3 98.2" stroke="#30d830" stroke-width="0.7"/>
<path d="M354.6 96.8L357.4 99.6M354.6 99.6L357.4 96.8" stroke="#30d830" stroke-width="0.7"/>
<path d="M362.6 97.5L365.4 100.3M362.6 100.3L365.4 97.5" stroke="#30d830" stroke-width="0.7"/>
<path d="M365.5 95.3L368.3 98.1M365.5 98.1L368.3 95.3" stroke="#30d830" stroke-width="0.7"/>
<path d="M369.9 88.8L372.7 91.6M369.9 91.6L372.7 88.8" stroke="#30d830" stroke-width="0.7"/>
<path d="M368.4 92.4L371.2 95.2M368.4 95.2L371.2 92.4" stroke="#30d830" stroke-width="0.7"/>
<path d="M372.8 89.5L375.6 92.3M372.8 92.3L375.6 89.5" stroke="#30d830" stroke-width="0.7"/>
<path d="M369.1 105.5L371.9 108.3M369.1 108.3L371.9 105.5" stroke="#30d830" stroke-width="0.7"/>
<path d="M362.6 117.1L365.4 119.9M362.6 119.9L365.4 117.1" stroke="#30d830" stroke-width="0.7"/>
<path d="M371.3 112.1L374.1 114.9M371.3 114.9L374.1 112.1" stroke="#30d830" stroke-width="0.7"/>
<path d="M348.2 86.1L351.0 88.9M348.2 88.9L351.0 86.1" stroke="#30d830" stroke-width="0.7"/>
<path d="M348.3 82.1L351.1 84.9M348.3 84.9L351.1 82.1" stroke="#30d830" stroke-width="0.7"/>
<path d="M358.4 76.5L361.2 79.3M358.4 79.3L361.2 76.5" stroke="#30d830" stroke-width="0.7"/>
<path d="M347.9 83.9L350.7 86.7M347.9 86.7L350.7 83.9" stroke="#30d830" stroke-width="0.7"/>
<path d="M362.2 74.4L365.0 77.2M362.2 77.2L365.0 74.4" stroke="#30d830" stroke-width="0.7"/>
<path d="M354.4 67.4L357.2 70.2M354.4 70.2L357.2 67.4" stroke="#30d830" stroke-width="0.7"/>
<path d="M356.7 79.4L359.5 82.2M356.7 82.2L359.5 79.4" stroke="#30d830" stroke-width="0.7"/>
<path d="M355.4 66.7L358.2 69.5M355.4 69.5L358.2 66.7" stroke="#30d830" stroke-width="0.7"/>
<path d="M349.4 83.2L352.2 86.0M349.4 86.0L352.2 83.2" stroke="#30d830" stroke-width="0.7"/>
<path d="M354.8 81.3L357.6 84.1M354.8 84.1L357.6 81.3" stroke="#30d830" stroke-width="0.7"/>
<path d="M380.0 83.1L382.8 85.9M380.0 85.9L382.8 83.1" stroke="#30d830" stroke-width="0.7"/>
<path d="M366.2 75.5L369.0 78.3M366.2 78.3L369.0 75.5" stroke="#30d830" stroke-width="0.7"/>
<path d="M376.2 81.1L379.0 83.9M376.2 83.9L379.0 81.1" stroke="#30d830" stroke-width="0.7"/>
<path d="M359.3 81.2L362.1 84.0M359.3 84.0L362.1 81.2" stroke="#30d830" stroke-width="0.7"/>
<path d="M355.6 80.7L358.4 83.5M355.6 83.5L358.4 80.7" stroke="#30d830" stroke-width="0.7"/>
<path d="M372.2 86.6L375.0 89.4M372.2 89.4L375.0 86.6" stroke="#30d830" stroke-width="0.7"/>
<path d="M372.7 89.9L375.5 92.7M372.7 92.7L375.5 89.9" stroke="#30d830" stroke-width="0.7"/>
<path d="M361.1 84.8L363.9 87.6M361.1 87.6L363.9 84.8" stroke="#30d830" stroke-width="0.7"/>
<path d="M470.5 82.5L474.3 82.5L472.4 85.5Z" fill="none" stroke="#2ad8e0" stroke-width="0.7"/>
<path d="M436.3 81.0L440.1 81.0L438.2 84.1Z" fill="none" stroke="#2ad8e0" stroke-width="0.7"/>
<path d="M441.4 85.4L445.2 85.4L443.3 88.4Z" fill="none" stroke="#2ad8e0" stroke-width="0.7"/>
<path d="M444.3 86.9L448.1 86.9L446.2 89.9Z" fill="none" stroke="#2ad8e0" stroke-width="0.7"/>
<path d="M516.8 92.6L520.6 92.6L518.7 95.7Z" fill="none" stroke="#2ad8e0" stroke-width="0.7"/>
<path d="M504.0 92.6L507.8 92.6L505.9 95.7Z" fill="none" stroke="#2ad8e0" stroke-width="0.7"/>
<path d="M407.9 116.0L411.7 116.0L409.8 119.0Z" fill="none" stroke="#2ad8e0" stroke-width="0.7"/>
<path d="M410.8 117.4L414.6 117.4L412.7 120.4Z" fill="none" stroke="#2ad8e0" stroke-width="0.7"/>
<path d="M413.0 113.8L416.8 113.8L414.9 116.8Z" fill="none" stroke="#2ad8e0" stroke-width="0.7"/>
<path d="M413.7 118.9L417.5 118.9L415.6 121.9Z" fill="none" stroke="#2ad8e0" stroke-width="0.7"/>
<path d="M402.1 91.2L405.9 91.2L404.0 94.3Z" fill="none" stroke="#2ad8e0" stroke-width="0.7"/>
<path d="M406.5 93.4L410.3 93.4L408.4 96.4Z" fill="none" stroke="#2ad8e0" stroke-width="0.7"/>
<path d="M435.6 98.5L439.4 98.5L437.5 101.5Z" fill="none" stroke="#2ad8e0" stroke-width="0.7"/>
<path d="M438.5 101.4L442.3 101.4L440.4 104.4Z" fill="none" stroke="#2ad8e0" stroke-width="0.7"/>
<path d="M431.2 100.0L435.0 100.0L433.1 103.0Z" fill="none" stroke="#2ad8e0" stroke-width="0.7"/>
<path d="M426.8 100.0L430.6 100.0L428.7 103.0Z" fill="none" stroke="#2ad8e0" stroke-width="0.7"/>
<path d="M432.6 92.7L436.4 92.7L434.5 95.7Z" fill="none" stroke="#2ad8e0" stroke-width="0.7"/>
<path d="M441.4 94.1L445.2 94.1L443.3 97.2Z" fill="none" stroke="#2ad8e0" stroke-width="0.7"/>
<path d="M445.7 100.7L449.5 100.7L447.6 103.7Z" fill="none" stroke="#2ad8e0" stroke-width="0.7"/>
<path d="M449.4 101.4L453.2 101.4L451.3 104.4Z" fill="none" stroke="#2ad8e0" stroke-width="0.7"/>
<path d="M453.0 102.1L456.8 102.1L454.9 105.2Z" fill="none" stroke="#2ad8e0" stroke-width="0.7"/>
<path d="M456.6 89.8L460.4 89.8L458.5 92.8Z" fill="none" stroke="#2ad8e0" stroke-width="0.7"/>
<path d="M459.6 92.7L463.4 92.7L461.5 95.7Z" fill="none" stroke="#2ad8e0" stroke-width="0.7"/>
<path d="M487.2 92.7L491.0 92.7L489.1 95.7Z" fill="none" stroke="#2ad8e0" stroke-width="0.7"/>
<path d="M490.1 94.9L493.9 94.9L492.0 97.9Z" fill="none" stroke="#2ad8e0" stroke-width="0.7"/>
<path d="M418.8 105.8L422.6 105.8L420.7 108.8Z" fill="none" stroke="#2ad8e0" stroke-width="0.7"/>
<path d="M422.5 102.9L426.3 102.9L424.4 105.9Z" fill="none" stroke="#2ad8e0" stroke-width="0.7"/>
<path d="M423.3 102.9L427.1 102.9L425.2 106.0Z" fill="none" stroke="#2ad8e0" stroke-width="0.7"/>
<path d="M433.0 92.2L436.8 92.2L434.9 95.2Z" fill="none" stroke="#2ad8e0" stroke-width="0.7"/>
<path d="M413.6 103.0L417.4 103.0L415.5 106.1Z" fill="none" stroke="#2ad8e0" stroke-width="0.7"/>
<path d="M418.8 103.5L422.6 103.5L420.7 106.6Z" fill="none" stroke="#2ad8e0" stroke-width="0.7"/>
<path d="M419.4 91.2L423.2 91.2L421.3 94.2Z" fill="none" stroke="#2ad8e0" stroke-width="0.7"/>
<path d="M418.2 109.2L422.0 109.2L420.1 112.3Z" fill="none" stroke="#2ad8e0" stroke-width="0.7"/>
<path d="M414.8 96.3L418.6 96.3L416.7 99.4Z" fill="none" stroke="#2ad8e0" stroke-width="0.7"/>
<path d="M414.4 90.5L418.2 90.5L416.3 93.5Z" fill="none" stroke="#2ad8e0" stroke-width="0.7"/>
<path d="M431.2 103.4L435.0 103.4L433.1 106.4Z" fill="none" stroke="#2ad8e0" stroke-width="0.7"/>
<path d="M418.7 105.1L422.5 105.1L420.6 108.1Z" fill="none" stroke="#2ad8e0" stroke-width="0.7"/>
<path d="M435.0 93.0L438.8 93.0L436.9 96.0Z" fill="none" stroke="#2ad8e0" stroke-width="0.7"/>
<path d="M427.4 89.9L431.2 89.9L429.3 92.9Z" fill="none" stroke="#2ad8e0" stroke-width="0.7"/>
<path d="M417.3 95.6L421.1 95.6L419.2 98.7Z" fill="none" stroke="#2ad8e0" stroke-width="0.7"/>
<path d="M422.0 102.0L425.8 102.0L423.9 105.0Z" fill="none" stroke="#2ad8e0" stroke-width="0.7"/>
<path d="M419.4 95.6L423.2 95.6L421.3 98.7Z" fill="none" stroke="#2ad8e0" stroke-width="0.7"/>
<path d="M426.3 113.4L430.1 113.4L428.2 116.5Z" fill="none" stroke="#2ad8e0" stroke-width="0.7"/>
<path d="M421.8 104.3L425.6 104.3L423.7 107.3Z" fill="none" stroke="#2ad8e0" stroke-width="0.7"/>
<path d="M415.2 100.4L419.0 100.4L417.1 103.5Z" fill="none" stroke="#2ad8e0" stroke-width="0.7"/>
<path d="M416.1 109.4L419.9 109.4L418.0 112.4Z" fill="none" stroke="#2ad8e0" stroke-width="0.7"/>
<path d="M428.9 109.2L432.7 109.2L430.8 112.3Z" fill="none" stroke="#2ad8e0" stroke-width="0.7"/>
<path d="M416.7 105.7L420.5 105.7L418.6 108.7Z" fill="none" stroke="#2ad8e0" stroke-width="0.7"/>
<path d="M421.6 114.2L425.4 114.2L423.5 117.3Z" fill="none" stroke="#2ad8e0" stroke-width="0.7"/>
<path d="M429.4 110.9L433.2 110.9L431.3 113.9Z" fill="none" stroke="#2ad8e0" stroke-width="0.7"/>
<path d="M413.6 109.2L417.4 109.2L415.5 112.2Z" fill="none" stroke="#2ad8e0" stroke-width="0.7"/>
<path d="M424.7 97.8L428.5 97.8L426.6 100.8Z" fill="none" stroke="#2ad8e0" stroke-width="0.7"/>
<circle cx="411.3" cy="79.3" r="1.6" fill="none" stroke="#e040e0" stroke-width="0.8"/>
<circle cx="360.4" cy="87.3" r="1.6" fill="none" stroke="#e040e0" stroke-width="0.8"/>
<circle cx="385.1" cy="86.5" r="1.6" fill="none" stroke="#e040e0" stroke-width="0.8"/>
<circle cx="463.6" cy="86.3" r="1.6" fill="none" stroke="#e040e0" stroke-width="0.8"/>
<circle cx="440.4" cy="82.2" r="1.6" fill="none" stroke="#e040e0" stroke-width="0.8"/>
<circle cx="425.1" cy="88.0" r="1.6" fill="none" stroke="#e040e0" stroke-width="0.8"/>
<circle cx="506.5" cy="95.9" r="1.6" fill="none" stroke="#e040e0" stroke-width="0.8"/>
<circle cx="346.5" cy="108.7" r="1.6" fill="none" stroke="#e040e0" stroke-width="0.8"/>
<circle cx="348.7" cy="114.9" r="1.6" fill="none" stroke="#e040e0" stroke-width="0.8"/>
<circle cx="351.6" cy="114.9" r="1.6" fill="none" stroke="#e040e0" stroke-width="0.8"/>
<circle cx="354.5" cy="114.2" r="1.6" fill="none" stroke="#e040e0" stroke-width="0.8"/>
<circle cx="355.3" cy="117.1" r="1.6" fill="none" stroke="#e040e0" stroke-width="0.8"/>
<circle cx="348.7" cy="121.7" r="1.6" fill="none" stroke="#e040e0" stroke-width="0.8"/>
<circle cx="354.5" cy="122.2" r="1.6" fill="none" stroke="#e040e0" stroke-width="0.8"/>
<circle cx="353.8" cy="128.0" r="1.6" fill="none" stroke="#e040e0" stroke-width="0.8"/>
<circle cx="361.8" cy="130.2" r="1.6" fill="none" stroke="#e040e0" stroke-width="0.8"/>
<circle cx="364.0" cy="128.7" r="1.6" fill="none" stroke="#e040e0" stroke-width="0.8"/>
<circle cx="356.0" cy="110.5" r="1.6" fill="none" stroke="#e040e0" stroke-width="0.8"/>
<circle cx="359.6" cy="105.5" r="1.6" fill="none" stroke="#e040e0" stroke-width="0.8"/>
<circle cx="360.4" cy="101.1" r="1.6" fill="none" stroke="#e040e0" stroke-width="0.8"/>
<circle cx="357.5" cy="102.5" r="1.6" fill="none" stroke="#e040e0" stroke-width="0.8"/>
<circle cx="369.8" cy="101.1" r="1.6" fill="none" stroke="#e040e0" stroke-width="0.8"/>
<circle cx="370.5" cy="104.0" r="1.6" fill="none" stroke="#e040e0" stroke-width="0.8"/>
<circle cx="365.5" cy="114.9" r="1.6" fill="none" stroke="#e040e0" stroke-width="0.8"/>
<circle cx="369.1" cy="118.5" r="1.6" fill="none" stroke="#e040e0" stroke-width="0.8"/>
<circle cx="371.3" cy="121.5" r="1.6" fill="none" stroke="#e040e0" stroke-width="0.8"/>
<circle cx="374.9" cy="122.9" r="1.6" fill="none" stroke="#e040e0" stroke-width="0.8"/>
<circle cx="376.4" cy="119.3" r="1.6" fill="none" stroke="#e040e0" stroke-width="0.8"/>
<circle cx="378.5" cy="116.4" r="1.6" fill="none" stroke="#e040e0" stroke-width="0.8"/>
<circle cx="379.3" cy="118.5" r="1.6" fill="none" stroke="#e040e0" stroke-width="0.8"/>
<circle cx="380.0" cy="125.1" r="1.6" fill="none" stroke="#e040e0" stroke-width="0.8"/>
<circle cx="383.6" cy="120.0" r="1.6" fill="none" stroke="#e040e0" stroke-width="0.8"/>
<circle cx="384.4" cy="117.1" r="1.6" fill="none" stroke="#e040e0" stroke-width="0.8"/>
<circle cx="386.5" cy="115.6" r="1.6" fill="none" stroke="#e040e0" stroke-width="0.8"/>
<circle cx="376.4" cy="112.7" r="1.6" fill="none" stroke="#e040e0" stroke-width="0.8"/>
<circle cx="378.5" cy="109.1" r="1.6" fill="none" stroke="#e040e0" stroke-width="0.8"/>
<circle cx="389.5" cy="122.2" r="1.6" fill="none" stroke="#e040e0" stroke-width="0.8"/>
<circle cx="392.4" cy="120.0" r="1.6" fill="none" stroke="#e040e0" stroke-width="0.8"/>
<circle cx="391.6" cy="116.4" r="1.6" fill="none" stroke="#e040e0" stroke-width="0.8"/>
<circle cx="396.7" cy="119.3" r="1.6" fill="none" stroke="#e040e0" stroke-width="0.8"/>
<circle cx="399.6" cy="120.7" r="1.6" fill="none" stroke="#e040e0" stroke-width="0.8"/>
<circle cx="401.8" cy="122.2" r="1.6" fill="none" stroke="#e040e0" stroke-width="0.8"/>
<circle cx="404.7" cy="122.9" r="1.6" fill="none" stroke="#e040e0" stroke-width="0.8"/>
<circle cx="408.4" cy="119.3" r="1.6" fill="none" stroke="#e040e0" stroke-width="0.8"/>
<circle cx="410.5" cy="122.2" r="1.6" fill="none" stroke="#e040e0" stroke-width="0.8"/>
<circle cx="409.8" cy="128.7" r="1.6" fill="none" stroke="#e040e0" stroke-width="0.8"/>
<circle cx="414.2" cy="122.9" r="1.6" fill="none" stroke="#e040e0" stroke-width="0.8"/>
<circle cx="417.1" cy="118.5" r="1.6" fill="none" stroke="#e040e0" stroke-width="0.8"/>
<circle cx="418.5" cy="121.5" r="1.6" fill="none" stroke="#e040e0" stroke-width="0.8"/>
<circle cx="393.1" cy="126.5" r="1.6" fill="none" stroke="#e040e0" stroke-width="0.8"/>
<circle cx="378.5" cy="130.2" r="1.6" fill="none" stroke="#e040e0" stroke-width="0.8"/>
<circle cx="381.5" cy="113.5" r="1.6" fill="none" stroke="#e040e0" stroke-width="0.8"/>
<circle cx="388.0" cy="98.2" r="1.6" fill="none" stroke="#e040e0" stroke-width="0.8"/>
<circle cx="383.6" cy="96.0" r="1.6" fill="none" stroke="#e040e0" stroke-width="0.8"/>
<circle cx="390.9" cy="93.8" r="1.6" fill="none" stroke="#e040e0" stroke-width="0.8"/>
<circle cx="395.3" cy="96.7" r="1.6" fill="none" stroke="#e040e0" stroke-width="0.8"/>
<circle cx="398.2" cy="93.8" r="1.6" fill="none" stroke="#e040e0" stroke-width="0.8"/>
<circle cx="399.6" cy="98.9" r="1.6" fill="none" stroke="#e040e0" stroke-width="0.8"/>
<circle cx="404.0" cy="99.6" r="1.6" fill="none" stroke="#e040e0" stroke-width="0.8"/>
<circle cx="406.9" cy="96.0" r="1.6" fill="none" stroke="#e040e0" stroke-width="0.8"/>
<circle cx="379.3" cy="92.4" r="1.6" fill="none" stroke="#e040e0" stroke-width="0.8"/>
<circle cx="375.6" cy="96.0" r="1.6" fill="none" stroke="#e040e0" stroke-width="0.8"/>
<circle cx="364.7" cy="90.2" r="1.6" fill="none" stroke="#e040e0" stroke-width="0.8"/>
<circle cx="362.5" cy="95.3" r="1.6" fill="none" stroke="#e040e0" stroke-width="0.8"/>
<circle cx="353.8" cy="93.8" r="1.6" fill="none" stroke="#e040e0" stroke-width="0.8"/>
<circle cx="362.5" cy="97.5" r="1.6" fill="none" stroke="#e040e0" stroke-width="0.8"/>
<circle cx="386.5" cy="104.0" r="1.6" fill="none" stroke="#e040e0" stroke-width="0.8"/>
<circle cx="390.2" cy="106.2" r="1.6" fill="none" stroke="#e040e0" stroke-width="0.8"/>
<circle cx="394.5" cy="109.8" r="1.6" fill="none" stroke="#e040e0" stroke-width="0.8"/>
<circle cx="398.2" cy="106.9" r="1.6" fill="none" stroke="#e040e0" stroke-width="0.8"/>
<circle cx="401.1" cy="109.1" r="1.6" fill="none" stroke="#e040e0" stroke-width="0.8"/>
<circle cx="491.3" cy="103.3" r="1.6" fill="none" stroke="#e040e0" stroke-width="0.8"/>
<circle cx="496.4" cy="115.6" r="1.6" fill="none" stroke="#e040e0" stroke-width="0.8"/>
<circle cx="479.9" cy="113.9" r="1.6" fill="none" stroke="#e040e0" stroke-width="0.8"/>
<circle cx="473.8" cy="108.4" r="1.6" fill="none" stroke="#e040e0" stroke-width="0.8"/>
<circle cx="468.7" cy="108.7" r="1.6" fill="none" stroke="#e040e0" stroke-width="0.8"/>
<circle cx="463.6" cy="111.0" r="1.6" fill="none" stroke="#e040e0" stroke-width="0.8"/>
<circle cx="460.7" cy="114.9" r="1.6" fill="none" stroke="#e040e0" stroke-width="0.8"/>
<circle cx="460.0" cy="117.8" r="1.6" fill="none" stroke="#e040e0" stroke-width="0.8"/>
<circle cx="458.5" cy="120.0" r="1.6" fill="none" stroke="#e040e0" stroke-width="0.8"/>
<circle cx="456.1" cy="111.6" r="1.6" fill="none" stroke="#e040e0" stroke-width="0.8"/>
<circle cx="452.7" cy="110.5" r="1.6" fill="none" stroke="#e040e0" stroke-width="0.8"/>
<circle cx="452.7" cy="114.2" r="1.6" fill="none" stroke="#e040e0" stroke-width="0.8"/>
<circle cx="453.5" cy="119.3" r="1.6" fill="none" stroke="#e040e0" stroke-width="0.8"/>
<circle cx="453.5" cy="123.6" r="1.6" fill="none" stroke="#e040e0" stroke-width="0.8"/>
<circle cx="449.8" cy="119.7" r="1.6" fill="none" stroke="#e040e0" stroke-width="0.8"/>
<circle cx="443.3" cy="121.7" r="1.6" fill="none" stroke="#e040e0" stroke-width="0.8"/>
<circle cx="441.8" cy="114.5" r="1.6" fill="none" stroke="#e040e0" stroke-width="0.8"/>
<circle cx="434.5" cy="122.9" r="1.6" fill="none" stroke="#e040e0" stroke-width="0.8"/>
<circle cx="429.5" cy="120.0" r="1.6" fill="none" stroke="#e040e0" stroke-width="0.8"/>
<circle cx="430.2" cy="122.9" r="1.6" fill="none" stroke="#e040e0" stroke-width="0.8"/>
<circle cx="424.4" cy="124.4" r="1.6" fill="none" stroke="#e040e0" stroke-width="0.8"/>
<circle cx="422.2" cy="119.3" r="1.6" fill="none" stroke="#e040e0" stroke-width="0.8"/>
<circle cx="422.9" cy="122.9" r="1.6" fill="none" stroke="#e040e0" stroke-width="0.8"/>
<circle cx="430.2" cy="89.5" r="1.6" fill="none" stroke="#e040e0" stroke-width="0.8"/>
<circle cx="427.3" cy="92.4" r="1.6" fill="none" stroke="#e040e0" stroke-width="0.8"/>
<circle cx="422.2" cy="90.9" r="1.6" fill="none" stroke="#e040e0" stroke-width="0.8"/>
<circle cx="450.5" cy="99.6" r="1.6" fill="none" stroke="#e040e0" stroke-width="0.8"/>
<circle cx="430.9" cy="109.8" r="1.6" fill="none" stroke="#e040e0" stroke-width="0.8"/>
<circle cx="436.0" cy="108.4" r="1.6" fill="none" stroke="#e040e0" stroke-width="0.8"/>
<circle cx="500.9" cy="108.5" r="1.6" fill="none" stroke="#e040e0" stroke-width="0.8"/>
<circle cx="513.2" cy="109.5" r="1.6" fill="none" stroke="#e040e0" stroke-width="0.8"/>
<circle cx="527.3" cy="109.1" r="1.6" fill="none" stroke="#e040e0" stroke-width="0.8"/>
<circle cx="530.5" cy="109.5" r="1.6" fill="none" stroke="#e040e0" stroke-width="0.8"/>
<circle cx="533.2" cy="109.1" r="1.6" fill="none" stroke="#e040e0" stroke-width="0.8"/>
<circle cx="536.4" cy="110.0" r="1.6" fill="none" stroke="#e040e0" stroke-width="0.8"/>
<circle cx="496.4" cy="115.5" r="1.6" fill="none" stroke="#e040e0" stroke-width="0.8"/>
<circle cx="506.8" cy="96.4" r="1.6" fill="none" stroke="#e040e0" stroke-width="0.8"/>
<circle cx="383.1" cy="109.6" r="1.6" fill="none" stroke="#e040e0" stroke-width="0.8"/>
<circle cx="377.3" cy="97.0" r="1.6" fill="none" stroke="#e040e0" stroke-width="0.8"/>
<circle cx="387.1" cy="115.5" r="1.6" fill="none" stroke="#e040e0" stroke-width="0.8"/>
<circle cx="425.0" cy="101.5" r="1.6" fill="none" stroke="#e040e0" stroke-width="0.8"/>
<circle cx="368.0" cy="101.4" r="1.6" fill="none" stroke="#e040e0" stroke-width="0.8"/>
<circle cx="354.9" cy="110.4" r="1.6" fill="none" stroke="#e040e0" stroke-width="0.8"/>
<circle cx="370.2" cy="95.5" r="1.6" fill="none" stroke="#e040e0" stroke-width="0.8"/>
<circle cx="437.3" cy="104.1" r="1.6" fill="none" stroke="#e040e0" stroke-width="0.8"/>
<circle cx="415.7" cy="98.5" r="1.6" fill="none" stroke="#e040e0" stroke-width="0.8"/>
<circle cx="366.2" cy="98.4" r="1.6" fill="none" stroke="#e040e0" stroke-width="0.8"/>
<circle cx="422.7" cy="106.4" r="1.6" fill="none" stroke="#e040e0" stroke-width="0.8"/>
<circle cx="385.7" cy="102.8" r="1.6" fill="none" stroke="#e040e0" stroke-width="0.8"/>
<circle cx="358.7" cy="98.5" r="1.6" fill="none" stroke="#e040e0" stroke-width="0.8"/>
<circle cx="380.4" cy="103.5" r="1.6" fill="none" stroke="#e040e0" stroke-width="0.8"/>
<circle cx="399.4" cy="108.0" r="1.6" fill="none" stroke="#e040e0" stroke-width="0.8"/>
<circle cx="433.6" cy="99.8" r="1.6" fill="none" stroke="#e040e0" stroke-width="0.8"/>
<circle cx="361.1" cy="100.1" r="1.6" fill="none" stroke="#e040e0" stroke-width="0.8"/>
<circle cx="372.7" cy="108.3" r="1.6" fill="none" stroke="#e040e0" stroke-width="0.8"/>
<circle cx="397.7" cy="100.6" r="1.6" fill="none" stroke="#e040e0" stroke-width="0.8"/>
<circle cx="361.1" cy="113.5" r="1.6" fill="none" stroke="#e040e0" stroke-width="0.8"/>
<circle cx="411.9" cy="109.7" r="1.6" fill="none" stroke="#e040e0" stroke-width="0.8"/>
<circle cx="419.5" cy="116.6" r="1.6" fill="none" stroke="#e040e0" stroke-width="0.8"/>
<circle cx="397.3" cy="112.0" r="1.6" fill="none" stroke="#e040e0" stroke-width="0.8"/>
<circle cx="400.4" cy="106.2" r="1.6" fill="none" stroke="#e040e0" stroke-width="0.8"/>
<circle cx="381.5" cy="98.3" r="1.6" fill="none" stroke="#e040e0" stroke-width="0.8"/>
<circle cx="400.0" cy="105.0" r="1.6" fill="none" stroke="#e040e0" stroke-width="0.8"/>
<circle cx="364.3" cy="109.0" r="1.6" fill="none" stroke="#e040e0" stroke-width="0.8"/>
<circle cx="372.3" cy="109.8" r="1.6" fill="none" stroke="#e040e0" stroke-width="0.8"/>
<circle cx="378.7" cy="105.0" r="1.6" fill="none" stroke="#e040e0" stroke-width="0.8"/>
<circle cx="435.1" cy="100.4" r="1.6" fill="none" stroke="#e040e0" stroke-width="0.8"/>
<circle cx="403.4" cy="100.6" r="1.6" fill="none" stroke="#e040e0" stroke-width="0.8"/>
<circle cx="398.6" cy="117.0" r="1.6" fill="none" stroke="#e040e0" stroke-width="0.8"/>
<circle cx="399.3" cy="119.9" r="1.6" fill="none" stroke="#e040e0" stroke-width="0.8"/>
<circle cx="391.2" cy="104.6" r="1.6" fill="none" stroke="#e040e0" stroke-width="0.8"/>
<circle cx="413.9" cy="106.0" r="1.6" fill="none" stroke="#e040e0" stroke-width="0.8"/>
<circle cx="416.5" cy="99.7" r="1.6" fill="none" stroke="#e040e0" stroke-width="0.8"/>
<circle cx="353.3" cy="103.7" r="1.6" fill="none" stroke="#e040e0" stroke-width="0.8"/>
<circle cx="409.4" cy="111.7" r="1.6" fill="none" stroke="#e040e0" stroke-width="0.8"/>
<circle cx="439.3" cy="111.4" r="1.6" fill="none" stroke="#e040e0" stroke-width="0.8"/>
<circle cx="405.3" cy="101.3" r="1.6" fill="none" stroke="#e040e0" stroke-width="0.8"/>
<circle cx="397.8" cy="99.6" r="1.6" fill="none" stroke="#e040e0" stroke-width="0.8"/>
<circle cx="361.8" cy="107.0" r="1.6" fill="none" stroke="#e040e0" stroke-width="0.8"/>
<circle cx="412.6" cy="100.2" r="1.6" fill="none" stroke="#e040e0" stroke-width="0.8"/>
<circle cx="423.0" cy="106.9" r="1.6" fill="none" stroke="#e040e0" stroke-width="0.8"/>
<circle cx="381.7" cy="116.5" r="1.6" fill="none" stroke="#e040e0" stroke-width="0.8"/>
<circle cx="382.8" cy="111.2" r="1.6" fill="none" stroke="#e040e0" stroke-width="0.8"/>
<circle cx="362.1" cy="104.5" r="1.6" fill="none" stroke="#e040e0" stroke-width="0.8"/>
<circle cx="397.1" cy="113.3" r="1.6" fill="none" stroke="#e040e0" stroke-width="0.8"/>
<circle cx="376.4" cy="95.9" r="1.6" fill="none" stroke="#e040e0" stroke-width="0.8"/>
<circle cx="423.4" cy="114.6" r="1.6" fill="none" stroke="#e040e0" stroke-width="0.8"/>
<circle cx="407.2" cy="118.1" r="1.6" fill="none" stroke="#e040e0" stroke-width="0.8"/>
<circle cx="389.9" cy="104.5" r="1.6" fill="none" stroke="#e040e0" stroke-width="0.8"/>
<circle cx="399.9" cy="94.8" r="1.6" fill="none" stroke="#e040e0" stroke-width="0.8"/>
<circle cx="395.4" cy="95.4" r="1.6" fill="none" stroke="#e040e0" stroke-width="0.8"/>
<circle cx="437.2" cy="96.7" r="1.6" fill="none" stroke="#e040e0" stroke-width="0.8"/>
<circle cx="387.9" cy="98.0" r="1.6" fill="none" stroke="#e040e0" stroke-width="0.8"/>
<circle cx="424.2" cy="98.9" r="1.6" fill="none" stroke="#e040e0" stroke-width="0.8"/>
<circle cx="402.7" cy="92.6" r="1.6" fill="none" stroke="#e040e0" stroke-width="0.8"/>
<circle cx="431.0" cy="93.3" r="1.6" fill="none" stroke="#e040e0" stroke-width="0.8"/>
<circle cx="419.0" cy="92.3" r="1.6" fill="none" stroke="#e040e0" stroke-width="0.8"/>
<circle cx="439.3" cy="94.2" r="1.6" fill="none" stroke="#e040e0" stroke-width="0.8"/>
<circle cx="412.2" cy="90.0" r="1.6" fill="none" stroke="#e040e0" stroke-width="0.8"/>
<circle cx="377.5" cy="96.5" r="1.6" fill="none" stroke="#e040e0" stroke-width="0.8"/>
<circle cx="369.9" cy="93.0" r="1.6" fill="none" stroke="#e040e0" stroke-width="0.8"/>
<circle cx="386.5" cy="91.0" r="1.6" fill="none" stroke="#e040e0" stroke-width="0.8"/>
<circle cx="411.3" cy="94.2" r="1.6" fill="none" stroke="#e040e0" stroke-width="0.8"/>
<circle cx="416.6" cy="89.8" r="1.6" fill="none" stroke="#e040e0" stroke-width="0.8"/>
<circle cx="431.5" cy="93.3" r="1.6" fill="none" stroke="#e040e0" stroke-width="0.8"/>
<circle cx="404.0" cy="102.5" r="1.6" fill="none" stroke="#e040e0" stroke-width="0.8"/>
<circle cx="417.9" cy="90.9" r="1.6" fill="none" stroke="#e040e0" stroke-width="0.8"/>
<circle cx="385.3" cy="99.6" r="1.6" fill="none" stroke="#e040e0" stroke-width="0.8"/>
<circle cx="417.7" cy="94.9" r="1.6" fill="none" stroke="#e040e0" stroke-width="0.8"/>
<circle cx="399.7" cy="87.8" r="1.6" fill="none" stroke="#e040e0" stroke-width="0.8"/>
<circle cx="389.5" cy="98.7" r="1.6" fill="none" stroke="#e040e0" stroke-width="0.8"/>
<circle cx="400.0" cy="102.3" r="1.6" fill="none" stroke="#e040e0" stroke-width="0.8"/>
<circle cx="433.7" cy="90.6" r="1.6" fill="none" stroke="#e040e0" stroke-width="0.8"/>
<circle cx="408.4" cy="103.7" r="1.6" fill="none" stroke="#e040e0" stroke-width="0.8"/>
<circle cx="397.0" cy="95.8" r="1.6" fill="none" stroke="#e040e0" stroke-width="0.8"/>
<circle cx="367.9" cy="91.2" r="1.6" fill="none" stroke="#e040e0" stroke-width="0.8"/>
<circle cx="385.9" cy="96.9" r="1.6" fill="none" stroke="#e040e0" stroke-width="0.8"/>
<circle cx="407.2" cy="95.0" r="1.6" fill="none" stroke="#e040e0" stroke-width="0.8"/>
<circle cx="440.0" cy="97.8" r="1.6" fill="none" stroke="#e040e0" stroke-width="0.8"/>
<circle cx="375.9" cy="99.5" r="1.6" fill="none" stroke="#e040e0" stroke-width="0.8"/>
<circle cx="420.1" cy="97.0" r="1.6" fill="none" stroke="#e040e0" stroke-width="0.8"/>
<circle cx="415.0" cy="94.4" r="1.6" fill="none" stroke="#e040e0" stroke-width="0.8"/>
<circle cx="423.8" cy="118.2" r="1.6" fill="none" stroke="#e040e0" stroke-width="0.8"/>
<circle cx="380.5" cy="119.4" r="1.6" fill="none" stroke="#e040e0" stroke-width="0.8"/>
<circle cx="410.6" cy="111.2" r="1.6" fill="none" stroke="#e040e0" stroke-width="0.8"/>
<circle cx="399.4" cy="116.0" r="1.6" fill="none" stroke="#e040e0" stroke-width="0.8"/>
<circle cx="378.6" cy="115.2" r="1.6" fill="none" stroke="#e040e0" stroke-width="0.8"/>
<circle cx="407.7" cy="113.6" r="1.6" fill="none" stroke="#e040e0" stroke-width="0.8"/>
<circle cx="382.9" cy="116.0" r="1.6" fill="none" stroke="#e040e0" stroke-width="0.8"/>
<circle cx="400.7" cy="107.5" r="1.6" fill="none" stroke="#e040e0" stroke-width="0.8"/>
<circle cx="436.0" cy="116.4" r="1.6" fill="none" stroke="#e040e0" stroke-width="0.8"/>
<circle cx="386.2" cy="111.6" r="1.6" fill="none" stroke="#e040e0" stroke-width="0.8"/>
<circle cx="410.4" cy="109.8" r="1.6" fill="none" stroke="#e040e0" stroke-width="0.8"/>
<circle cx="422.3" cy="114.8" r="1.6" fill="none" stroke="#e040e0" stroke-width="0.8"/>
<path d="M454.1 71.7L457.1 71.7M455.6 70.2L455.6 73.2M454.5 70.6L456.8 72.8M454.5 72.8L456.8 70.6" stroke="#e8202a" stroke-width="0.8"/>
<path d="M471.6 69.1L474.6 69.1M473.1 67.6L473.1 70.6M472.0 68.0L474.2 70.2M472.0 70.2L474.2 68.0" stroke="#e8202a" stroke-width="0.8"/>
<path d="M495.6 68.4L498.6 68.4M497.1 66.9L497.1 69.9M496.0 67.2L498.2 69.5M496.0 69.5L498.2 67.2" stroke="#e8202a" stroke-width="0.8"/>
<path d="M484.7 75.2L487.7 75.2M486.2 73.7L486.2 76.7M485.1 74.1L487.3 76.3M485.1 76.3L487.3 74.1" stroke="#e8202a" stroke-width="0.8"/>
<path d="M488.3 81.0L491.3 81.0M489.8 79.5L489.8 82.5M488.7 79.9L490.9 82.1M488.7 82.1L490.9 79.9" stroke="#e8202a" stroke-width="0.8"/>
<path d="M431.6 75.6L434.6 75.6M433.1 74.1L433.1 77.1M432.0 74.5L434.2 76.8M432.0 76.8L434.2 74.5" stroke="#e8202a" stroke-width="0.8"/>
<path d="M439.6 74.5L442.6 74.5M441.1 73.0L441.1 76.0M440.0 73.3L442.2 75.6M440.0 75.6L442.2 73.3" stroke="#e8202a" stroke-width="0.8"/>
<path d="M441.8 75.6L444.8 75.6M443.3 74.1L443.3 77.1M442.1 74.5L444.4 76.8M442.1 76.8L444.4 74.5" stroke="#e8202a" stroke-width="0.8"/>
<path d="M456.3 82.9L459.3 82.9M457.8 81.4L457.8 84.4M456.7 81.8L458.9 84.0M456.7 84.0L458.9 81.8" stroke="#e8202a" stroke-width="0.8"/>
<path d="M459.2 85.1L462.2 85.1M460.7 83.6L460.7 86.6M459.6 84.0L461.9 86.2M459.6 86.2L461.9 84.0" stroke="#e8202a" stroke-width="0.8"/>
<path d="M465.8 85.4L468.8 85.4M467.3 83.9L467.3 86.9M466.1 84.3L468.4 86.5M466.1 86.5L468.4 84.3" stroke="#e8202a" stroke-width="0.8"/>
<path d="M470.1 88.0L473.1 88.0M471.6 86.5L471.6 89.5M470.5 86.9L472.8 89.1M470.5 89.1L472.8 86.9" stroke="#e8202a" stroke-width="0.8"/>
<path d="M449.0 82.2L452.0 82.2M450.5 80.7L450.5 83.7M449.4 81.1L451.7 83.3M449.4 83.3L451.7 81.1" stroke="#e8202a" stroke-width="0.8"/>
<path d="M440.3 82.2L443.3 82.2M441.8 80.7L441.8 83.7M440.7 81.1L442.9 83.3M440.7 83.3L442.9 81.1" stroke="#e8202a" stroke-width="0.8"/>
<path d="M495.9 68.3L498.9 68.3M497.4 66.8L497.4 69.8M496.3 67.1L498.6 69.4M496.3 69.4L498.6 67.1" stroke="#e8202a" stroke-width="0.8"/>
<path d="M502.8 77.3L505.8 77.3M504.3 75.8L504.3 78.8M503.2 76.2L505.5 78.4M503.2 78.4L505.5 76.2" stroke="#e8202a" stroke-width="0.8"/>
<path d="M489.0 80.5L492.0 80.5M490.5 79.0L490.5 82.0M489.4 79.4L491.7 81.6M489.4 81.6L491.7 79.4" stroke="#e8202a" stroke-width="0.8"/>
<path d="M503.4 90.3L506.4 90.3M504.9 88.8L504.9 91.8M503.7 89.1L506.0 91.4M503.7 91.4L506.0 89.1" stroke="#e8202a" stroke-width="0.8"/>
<path d="M508.1 89.5L511.1 89.5M509.6 88.0L509.6 91.0M508.5 88.4L510.8 90.6M508.5 90.6L510.8 88.4" stroke="#e8202a" stroke-width="0.8"/>
<path d="M510.3 92.4L513.3 92.4M511.8 90.9L511.8 93.9M510.6 91.3L512.9 93.5M510.6 93.5L512.9 91.3" stroke="#e8202a" stroke-width="0.8"/>
<path d="M512.7 95.9L515.7 95.9M514.2 94.4L514.2 97.4M513.1 94.8L515.3 97.0M513.1 97.0L515.3 94.8" stroke="#e8202a" stroke-width="0.8"/>
<path d="M502.8 96.4L505.8 96.4M504.3 94.9L504.3 97.9M503.2 95.3L505.5 97.5M503.2 97.5L505.5 95.3" stroke="#e8202a" stroke-width="0.8"/>
<path d="M492.7 95.3L495.7 95.3M494.2 93.8L494.2 96.8M493.1 94.2L495.4 96.5M493.1 96.5L495.4 94.2" stroke="#e8202a" stroke-width="0.8"/>
<path d="M490.1 94.3L493.1 94.3M491.6 92.8L491.6 95.8M490.5 93.2L492.7 95.4M490.5 95.4L492.7 93.2" stroke="#e8202a" stroke-width="0.8"/>
<path d="M494.3 97.3L497.3 97.3M495.8 95.8L495.8 98.8M494.7 96.1L497.0 98.4M494.7 98.4L497.0 96.1" stroke="#e8202a" stroke-width="0.8"/>
<path d="M375.6 106.2L378.6 106.2M377.1 104.7L377.1 107.7M376.0 105.1L378.2 107.3M376.0 107.3L378.2 105.1" stroke="#e8202a" stroke-width="0.8"/>
<path d="M377.0 107.6L380.0 107.6M378.5 106.1L378.5 109.1M377.4 106.5L379.7 108.8M377.4 108.8L379.7 106.5" stroke="#e8202a" stroke-width="0.8"/>
<path d="M369.8 111.3L372.8 111.3M371.3 109.8L371.3 112.8M370.1 110.1L372.4 112.4M370.1 112.4L372.4 110.1" stroke="#e8202a" stroke-width="0.8"/>
<path d="M367.6 114.9L370.6 114.9M369.1 113.4L369.1 116.4M368.0 113.8L370.2 116.0M368.0 116.0L370.2 113.8" stroke="#e8202a" stroke-width="0.8"/>
<path d="M366.9 117.1L369.9 117.1M368.4 115.6L368.4 118.6M367.2 116.0L369.5 118.2M367.2 118.2L369.5 116.0" stroke="#e8202a" stroke-width="0.8"/>
<path d="M357.4 111.3L360.4 111.3M358.9 109.8L358.9 112.8M357.8 110.1L360.0 112.4M357.8 112.4L360.0 110.1" stroke="#e8202a" stroke-width="0.8"/>
<path d="M379.2 115.6L382.2 115.6M380.7 114.1L380.7 117.1M379.6 114.5L381.9 116.8M379.6 116.8L381.9 114.5" stroke="#e8202a" stroke-width="0.8"/>
<path d="M382.1 112.0L385.1 112.0M383.6 110.5L383.6 113.5M382.5 110.9L384.8 113.1M382.5 113.1L384.8 110.9" stroke="#e8202a" stroke-width="0.8"/>
<path d="M383.6 111.3L386.6 111.3M385.1 109.8L385.1 112.8M384.0 110.1L386.2 112.4M384.0 112.4L386.2 110.1" stroke="#e8202a" stroke-width="0.8"/>
<path d="M386.5 109.1L389.5 109.1M388.0 107.6L388.0 110.6M386.9 108.0L389.1 110.2M386.9 110.2L389.1 108.0" stroke="#e8202a" stroke-width="0.8"/>
<path d="M388.0 104.0L391.0 104.0M389.5 102.5L389.5 105.5M388.3 102.9L390.6 105.1M388.3 105.1L390.6 102.9" stroke="#e8202a" stroke-width="0.8"/>
<path d="M390.9 102.5L393.9 102.5M392.4 101.0L392.4 104.0M391.2 101.4L393.5 103.7M391.2 103.7L393.5 101.4" stroke="#e8202a" stroke-width="0.8"/>
<path d="M393.0 101.8L396.0 101.8M394.5 100.3L394.5 103.3M393.4 100.7L395.7 102.9M393.4 102.9L395.7 100.7" stroke="#e8202a" stroke-width="0.8"/>
<path d="M396.7 101.1L399.7 101.1M398.2 99.6L398.2 102.6M397.1 100.0L399.3 102.2M397.1 102.2L399.3 100.0" stroke="#e8202a" stroke-width="0.8"/>
<path d="M401.0 101.8L404.0 101.8M402.5 100.3L402.5 103.3M401.4 100.7L403.7 102.9M401.4 102.9L403.7 100.7" stroke="#e8202a" stroke-width="0.8"/>
<path d="M405.4 102.5L408.4 102.5M406.9 101.0L406.9 104.0M405.8 101.4L408.0 103.7M405.8 103.7L408.0 101.4" stroke="#e8202a" stroke-width="0.8"/>
<path d="M406.9 104.0L409.9 104.0M408.4 102.5L408.4 105.5M407.2 102.9L409.5 105.1M407.2 105.1L409.5 102.9" stroke="#e8202a" stroke-width="0.8"/>
<path d="M411.2 104.7L414.2 104.7M412.7 103.2L412.7 106.2M411.6 103.6L413.9 105.9M411.6 105.9L413.9 103.6" stroke="#e8202a" stroke-width="0.8"/>
<path d="M414.1 102.5L417.1 102.5M415.6 101.0L415.6 104.0M414.5 101.4L416.8 103.7M414.5 103.7L416.8 101.4" stroke="#e8202a" stroke-width="0.8"/>
<path d="M411.2 108.4L414.2 108.4M412.7 106.9L412.7 109.9M411.6 107.2L413.9 109.5M411.6 109.5L413.9 107.2" stroke="#e8202a" stroke-width="0.8"/>
<path d="M408.3 110.5L411.3 110.5M409.8 109.0L409.8 112.0M408.7 109.4L410.9 111.7M408.7 111.7L410.9 109.4" stroke="#e8202a" stroke-width="0.8"/>
<path d="M405.4 113.5L408.4 113.5M406.9 112.0L406.9 115.0M405.8 112.3L408.0 114.6M405.8 114.6L408.0 112.3" stroke="#e8202a" stroke-width="0.8"/>
<path d="M402.5 117.1L405.5 117.1M404.0 115.6L404.0 118.6M402.9 116.0L405.1 118.2M402.9 118.2L405.1 116.0" stroke="#e8202a" stroke-width="0.8"/>
<path d="M399.6 116.4L402.6 116.4M401.1 114.9L401.1 117.9M400.0 115.2L402.2 117.5M400.0 117.5L402.2 115.2" stroke="#e8202a" stroke-width="0.8"/>
<path d="M396.7 117.8L399.7 117.8M398.2 116.3L398.2 119.3M397.1 116.7L399.3 118.9M397.1 118.9L399.3 116.7" stroke="#e8202a" stroke-width="0.8"/>
<path d="M393.8 114.2L396.8 114.2M395.3 112.7L395.3 115.7M394.1 113.1L396.4 115.3M394.1 115.3L396.4 113.1" stroke="#e8202a" stroke-width="0.8"/>
<path d="M390.9 113.5L393.9 113.5M392.4 112.0L392.4 115.0M391.2 112.3L393.5 114.6M391.2 114.6L393.5 112.3" stroke="#e8202a" stroke-width="0.8"/>
<path d="M389.4 111.3L392.4 111.3M390.9 109.8L390.9 112.8M389.8 110.1L392.0 112.4M389.8 112.4L392.0 110.1" stroke="#e8202a" stroke-width="0.8"/>
<path d="M399.6 112.0L402.6 112.0M401.1 110.5L401.1 113.5M400.0 110.9L402.2 113.1M400.0 113.1L402.2 110.9" stroke="#e8202a" stroke-width="0.8"/>
<path d="M414.1 111.3L417.1 111.3M415.6 109.8L415.6 112.8M414.5 110.1L416.8 112.4M414.5 112.4L416.8 110.1" stroke="#e8202a" stroke-width="0.8"/>
<path d="M417.0 114.9L420.0 114.9M418.5 113.4L418.5 116.4M417.4 113.8L419.7 116.0M417.4 116.0L419.7 113.8" stroke="#e8202a" stroke-width="0.8"/>
<path d="M395.2 105.5L398.2 105.5M396.7 104.0L396.7 107.0M395.6 104.3L397.9 106.6M395.6 106.6L397.9 104.3" stroke="#e8202a" stroke-width="0.8"/>
<path d="M385.0 126.5L388.0 126.5M386.5 125.0L386.5 128.0M385.4 125.4L387.7 127.7M385.4 127.7L387.7 125.4" stroke="#e8202a" stroke-width="0.8"/>
<path d="M372.0 106.9L375.0 106.9M373.5 105.4L373.5 108.4M372.3 105.8L374.6 108.0M372.3 108.0L374.6 105.8" stroke="#e8202a" stroke-width="0.8"/>
<path d="M402.5 106.9L405.5 106.9M404.0 105.4L404.0 108.4M402.9 105.8L405.1 108.0M402.9 108.0L405.1 105.8" stroke="#e8202a" stroke-width="0.8"/>
<path d="M411.2 112.7L414.2 112.7M412.7 111.2L412.7 114.2M411.6 111.6L413.9 113.9M411.6 113.9L413.9 111.6" stroke="#e8202a" stroke-width="0.8"/>
<path d="M448.3 93.1L451.3 93.1M449.8 91.6L449.8 94.6M448.7 92.0L450.9 94.2M448.7 94.2L450.9 92.0" stroke="#e8202a" stroke-width="0.8"/>
<path d="M452.0 95.3L455.0 95.3M453.5 93.8L453.5 96.8M452.3 94.1L454.6 96.4M452.3 96.4L454.6 94.1" stroke="#e8202a" stroke-width="0.8"/>
<path d="M454.1 96.0L457.1 96.0M455.6 94.5L455.6 97.5M454.5 94.9L456.8 97.1M454.5 97.1L456.8 94.9" stroke="#e8202a" stroke-width="0.8"/>
<path d="M449.8 98.9L452.8 98.9M451.3 97.4L451.3 100.4M450.1 97.8L452.4 100.0M450.1 100.0L452.4 97.8" stroke="#e8202a" stroke-width="0.8"/>
<path d="M454.9 101.8L457.9 101.8M456.4 100.3L456.4 103.3M455.2 100.7L457.5 102.9M455.2 102.9L457.5 100.7" stroke="#e8202a" stroke-width="0.8"/>
<path d="M457.0 101.1L460.0 101.1M458.5 99.6L458.5 102.6M457.4 100.0L459.7 102.2M457.4 102.2L459.7 100.0" stroke="#e8202a" stroke-width="0.8"/>
<path d="M460.7 100.4L463.7 100.4M462.2 98.9L462.2 101.9M461.1 99.2L463.3 101.5M461.1 101.5L463.3 99.2" stroke="#e8202a" stroke-width="0.8"/>
<path d="M463.6 95.3L466.6 95.3M465.1 93.8L465.1 96.8M464.0 94.1L466.2 96.4M464.0 96.4L466.2 94.1" stroke="#e8202a" stroke-width="0.8"/>
<path d="M466.5 94.5L469.5 94.5M468.0 93.0L468.0 96.0M466.9 93.4L469.1 95.7M466.9 95.7L469.1 93.4" stroke="#e8202a" stroke-width="0.8"/>
<path d="M468.0 101.1L471.0 101.1M469.5 99.6L469.5 102.6M468.3 100.0L470.6 102.2M468.3 102.2L470.6 100.0" stroke="#e8202a" stroke-width="0.8"/>
<path d="M466.5 102.5L469.5 102.5M468.0 101.0L468.0 104.0M466.9 101.4L469.1 103.7M466.9 103.7L469.1 101.4" stroke="#e8202a" stroke-width="0.8"/>
<path d="M470.1 101.8L473.1 101.8M471.6 100.3L471.6 103.3M470.5 100.7L472.8 102.9M470.5 102.9L472.8 100.7" stroke="#e8202a" stroke-width="0.8"/>
<path d="M476.7 93.8L479.7 93.8M478.2 92.3L478.2 95.3M477.1 92.7L479.3 94.9M477.1 94.9L479.3 92.7" stroke="#e8202a" stroke-width="0.8"/>
<path d="M478.9 94.5L481.9 94.5M480.4 93.0L480.4 96.0M479.2 93.4L481.5 95.7M479.2 95.7L481.5 93.4" stroke="#e8202a" stroke-width="0.8"/>
<path d="M477.4 98.9L480.4 98.9M478.9 97.4L478.9 100.4M477.8 97.8L480.0 100.0M477.8 100.0L480.0 97.8" stroke="#e8202a" stroke-width="0.8"/>
<path d="M478.1 101.1L481.1 101.1M479.6 99.6L479.6 102.6M478.5 100.0L480.8 102.2M478.5 102.2L480.8 100.0" stroke="#e8202a" stroke-width="0.8"/>
<path d="M481.0 100.4L484.0 100.4M482.5 98.9L482.5 101.9M481.4 99.2L483.7 101.5M481.4 101.5L483.7 99.2" stroke="#e8202a" stroke-width="0.8"/>
<path d="M482.5 95.3L485.5 95.3M484.0 93.8L484.0 96.8M482.9 94.1L485.1 96.4M482.9 96.4L485.1 94.1" stroke="#e8202a" stroke-width="0.8"/>
<path d="M486.9 91.6L489.9 91.6M488.4 90.1L488.4 93.1M487.2 90.5L489.5 92.8M487.2 92.8L489.5 90.5" stroke="#e8202a" stroke-width="0.8"/>
<path d="M491.2 96.0L494.2 96.0M492.7 94.5L492.7 97.5M491.6 94.9L493.9 97.1M491.6 97.1L493.9 94.9" stroke="#e8202a" stroke-width="0.8"/>
<path d="M494.1 96.7L497.1 96.7M495.6 95.2L495.6 98.2M494.5 95.6L496.8 97.9M494.5 97.9L496.8 95.6" stroke="#e8202a" stroke-width="0.8"/>
<path d="M493.4 100.4L496.4 100.4M494.9 98.9L494.9 101.9M493.8 99.2L496.0 101.5M493.8 101.5L496.0 99.2" stroke="#e8202a" stroke-width="0.8"/>
<path d="M480.3 104.7L483.3 104.7M481.8 103.2L481.8 106.2M480.7 103.6L482.9 105.9M480.7 105.9L482.9 103.6" stroke="#e8202a" stroke-width="0.8"/>
<path d="M469.4 106.2L472.4 106.2M470.9 104.7L470.9 107.7M469.8 105.1L472.0 107.3M469.8 107.3L472.0 105.1" stroke="#e8202a" stroke-width="0.8"/>
<path d="M457.0 106.9L460.0 106.9M458.5 105.4L458.5 108.4M457.4 105.8L459.7 108.0M457.4 108.0L459.7 105.8" stroke="#e8202a" stroke-width="0.8"/>
<path d="M449.0 106.9L452.0 106.9M450.5 105.4L450.5 108.4M449.4 105.8L451.7 108.0M449.4 108.0L451.7 105.8" stroke="#e8202a" stroke-width="0.8"/>
<path d="M440.3 106.9L443.3 106.9M441.8 105.4L441.8 108.4M440.7 105.8L442.9 108.0M440.7 108.0L442.9 105.8" stroke="#e8202a" stroke-width="0.8"/>
<path d="M438.9 101.1L441.9 101.1M440.4 99.6L440.4 102.6M439.2 100.0L441.5 102.2M439.2 102.2L441.5 100.0" stroke="#e8202a" stroke-width="0.8"/>
<path d="M436.0 90.2L439.0 90.2M437.5 88.7L437.5 91.7M436.3 89.1L438.6 91.3M436.3 91.3L438.6 89.1" stroke="#e8202a" stroke-width="0.8"/>
<path d="M444.0 90.2L447.0 90.2M445.5 88.7L445.5 91.7M444.3 89.1L446.6 91.3M444.3 91.3L446.6 89.1" stroke="#e8202a" stroke-width="0.8"/>
<path d="M462.1 89.5L465.1 89.5M463.6 88.0L463.6 91.0M462.5 88.3L464.8 90.6M462.5 90.6L464.8 88.3" stroke="#e8202a" stroke-width="0.8"/>
<path d="M470.9 88.7L473.9 88.7M472.4 87.2L472.4 90.2M471.2 87.6L473.5 89.9M471.2 89.9L473.5 87.6" stroke="#e8202a" stroke-width="0.8"/>
<path d="M424.3 98.9L427.3 98.9M425.8 97.4L425.8 100.4M424.7 97.8L426.9 100.0M424.7 100.0L426.9 97.8" stroke="#e8202a" stroke-width="0.8"/>
<path d="M424.3 109.8L427.3 109.8M425.8 108.3L425.8 111.3M424.7 108.7L426.9 110.9M424.7 110.9L426.9 108.7" stroke="#e8202a" stroke-width="0.8"/>
<path d="M423.6 115.6L426.6 115.6M425.1 114.1L425.1 117.1M424.0 114.5L426.2 116.8M424.0 116.8L426.2 114.5" stroke="#e8202a" stroke-width="0.8"/>
<path d="M428.7 109.8L431.7 109.8M430.2 108.3L430.2 111.3M429.1 108.7L431.3 110.9M429.1 110.9L431.3 108.7" stroke="#e8202a" stroke-width="0.8"/>
<path d="M433.0 105.5L436.0 105.5M434.5 104.0L434.5 107.0M433.4 104.3L435.7 106.6M433.4 106.6L435.7 104.3" stroke="#e8202a" stroke-width="0.8"/>
<path d="M419.2 102.5L422.2 102.5M420.7 101.0L420.7 104.0M419.6 101.4L421.9 103.7M419.6 103.7L421.9 101.4" stroke="#e8202a" stroke-width="0.8"/>
<path d="M437.4 109.1L440.4 109.1M438.9 107.6L438.9 110.6M437.8 108.0L440.0 110.2M437.8 110.2L440.0 108.0" stroke="#e8202a" stroke-width="0.8"/>
<path d="M422.1 106.9L425.1 106.9M423.6 105.4L423.6 108.4M422.5 105.8L424.8 108.0M422.5 108.0L424.8 105.8" stroke="#e8202a" stroke-width="0.8"/>
<path d="M494.4 100.5L497.4 100.5M495.9 99.0L495.9 102.0M494.8 99.3L497.0 101.6M494.8 101.6L497.0 99.3" stroke="#e8202a" stroke-width="0.8"/>
<path d="M503.0 96.4L506.0 96.4M504.5 94.9L504.5 97.9M503.4 95.2L505.7 97.5M503.4 97.5L505.7 95.2" stroke="#e8202a" stroke-width="0.8"/>
<path d="M512.6 95.9L515.6 95.9M514.1 94.4L514.1 97.4M513.0 94.8L515.2 97.0M513.0 97.0L515.2 94.8" stroke="#e8202a" stroke-width="0.8"/>
<path d="M445.3 101.7L448.3 101.7M446.8 100.2L446.8 103.2M445.6 100.6L447.9 102.8M445.6 102.8L447.9 100.6" stroke="#e8202a" stroke-width="0.8"/>
<path d="M397.7 110.9L400.7 110.9M399.2 109.4L399.2 112.4M398.1 109.8L400.4 112.0M398.1 112.0L400.4 109.8" stroke="#e8202a" stroke-width="0.8"/>
<path d="M399.6 97.6L402.6 97.6M401.1 96.1L401.1 99.1M400.0 96.5L402.2 98.7M400.0 98.7L402.2 96.5" stroke="#e8202a" stroke-width="0.8"/>
<path d="M400.8 110.5L403.8 110.5M402.3 109.0L402.3 112.0M401.1 109.4L403.4 111.7M401.1 111.7L403.4 109.4" stroke="#e8202a" stroke-width="0.8"/>
<path d="M383.9 108.5L386.9 108.5M385.4 107.0L385.4 110.0M384.3 107.4L386.5 109.6M384.3 109.6L386.5 107.4" stroke="#e8202a" stroke-width="0.8"/>
<path d="M401.0 97.7L404.0 97.7M402.5 96.2L402.5 99.2M401.4 96.6L403.6 98.8M401.4 98.8L403.6 96.6" stroke="#e8202a" stroke-width="0.8"/>
<path d="M407.6 102.5L410.6 102.5M409.1 101.0L409.1 104.0M408.0 101.4L410.3 103.6M408.0 103.6L410.3 101.4" stroke="#e8202a" stroke-width="0.8"/>
<path d="M410.2 113.4L413.2 113.4M411.7 111.9L411.7 114.9M410.5 112.3L412.8 114.5M410.5 114.5L412.8 112.3" stroke="#e8202a" stroke-width="0.8"/>
<path d="M415.7 99.5L418.7 99.5M417.2 98.0L417.2 101.0M416.0 98.4L418.3 100.6M416.0 100.6L418.3 98.4" stroke="#e8202a" stroke-width="0.8"/>
<path d="M424.0 96.6L427.0 96.6M425.5 95.1L425.5 98.1M424.4 95.4L426.6 97.7M424.4 97.7L426.6 95.4" stroke="#e8202a" stroke-width="0.8"/>
<path d="M440.6 110.8L443.6 110.8M442.1 109.3L442.1 112.3M441.0 109.7L443.3 112.0M441.0 112.0L443.3 109.7" stroke="#e8202a" stroke-width="0.8"/>
<path d="M404.5 105.7L407.5 105.7M406.0 104.2L406.0 107.2M404.8 104.6L407.1 106.8M404.8 106.8L407.1 104.6" stroke="#e8202a" stroke-width="0.8"/>
<path d="M413.9 110.7L416.9 110.7M415.4 109.2L415.4 112.2M414.3 109.6L416.5 111.9M414.3 111.9L416.5 109.6" stroke="#e8202a" stroke-width="0.8"/>
<path d="M424.1 112.2L427.1 112.2M425.6 110.7L425.6 113.7M424.5 111.0L426.7 113.3M424.5 113.3L426.7 111.0" stroke="#e8202a" stroke-width="0.8"/>
<path d="M414.8 107.0L417.8 107.0M416.3 105.5L416.3 108.5M415.2 105.9L417.4 108.1M415.2 108.1L417.4 105.9" stroke="#e8202a" stroke-width="0.8"/>
<path d="M449.7 109.4L452.7 109.4M451.2 107.9L451.2 110.9M450.1 108.2L452.3 110.5M450.1 110.5L452.3 108.2" stroke="#e8202a" stroke-width="0.8"/>
<path d="M381.9 103.2L384.9 103.2M383.4 101.7L383.4 104.7M382.3 102.1L384.6 104.3M382.3 104.3L384.6 102.1" stroke="#e8202a" stroke-width="0.8"/>
<path d="M395.9 99.8L398.9 99.8M397.4 98.3L397.4 101.3M396.3 98.7L398.5 100.9M396.3 100.9L398.5 98.7" stroke="#e8202a" stroke-width="0.8"/>
<path d="M411.9 111.2L414.9 111.2M413.4 109.7L413.4 112.7M412.3 110.1L414.5 112.3M412.3 112.3L414.5 110.1" stroke="#e8202a" stroke-width="0.8"/>
<path d="M420.4 94.3L423.4 94.3M421.9 92.8L421.9 95.8M420.8 93.2L423.0 95.4M420.8 95.4L423.0 93.2" stroke="#e8202a" stroke-width="0.8"/>
<path d="M346.1 95.9L462.3 80.6" stroke="#7a74e0" stroke-width="0.7" fill="none"/>
<path d="M347.3 91.0L438.0 69.3" stroke="#98e498" stroke-width="0.7" fill="none"/>
<path d="M416.5 102.3L518.6 89.2" stroke="#60d8e8" stroke-width="0.7" fill="none"/>
<path d="M345.9 109.8L535.8 105.2" stroke="#e878e8" stroke-width="0.7" fill="none"/>
<path d="M360.2 109.2L514.0 86.3" stroke="#ec6060" stroke-width="0.7" fill="none"/>
<path d="M328.5 163.5L539.7 15.5" stroke="#64a8c8" stroke-width="0.9" fill="none"/>
<rect x="482.8" y="14.2" width="59.3" height="42.8" fill="#fff" stroke="#aaa" stroke-width="0.8"/>
<circle cx="493.8" cy="19.3" r="1.85" fill="none" stroke="#625cdc" stroke-width="0.75"/>
<text x="505.2" y="22.0" class="lg">Canola</text>
<path d="M492.4 26.2L495.2 29.0M492.4 29.0L495.2 26.2" stroke="#30d830" stroke-width="0.7"/>
<text x="505.2" y="30.3" class="lg">Corn</text>
<path d="M491.9 34.9L495.7 34.9L493.8 37.9Z" fill="none" stroke="#2ad8e0" stroke-width="0.7"/>
<text x="505.2" y="38.7" class="lg">Grassland</text>
<circle cx="493.8" cy="44.3" r="1.6" fill="none" stroke="#e040e0" stroke-width="0.8"/>
<text x="505.2" y="47.0" class="lg">Soybeans</text>
<path d="M492.3 52.7L495.3 52.7M493.8 51.2L493.8 54.2M492.7 51.6L494.9 53.8M492.7 53.8L494.9 51.6" stroke="#e8202a" stroke-width="0.8"/>
<text x="505.2" y="55.4" class="lg">Cereal</text>
<text x="434.1" y="11.8" class="ti" text-anchor="middle">Sensitivity between VV polarization and in situ SSM</text>
<path d="M328.5 15.5V163.5H539.7" class="ax"/>
<path d="M328.5 163.5h2" class="ax"/>
<text x="324.7" y="166.9" class="tk" text-anchor="end">-30</text>
<path d="M328.5 138.8h2" class="ax"/>
<text x="324.7" y="142.2" class="tk" text-anchor="end">-25</text>
<path d="M328.5 114.2h2" class="ax"/>
<text x="324.7" y="117.6" class="tk" text-anchor="end">-20</text>
<path d="M328.5 89.5h2" class="ax"/>
<text x="324.7" y="92.9" class="tk" text-anchor="end">-15</text>
<path d="M328.5 64.8h2" class="ax"/>
<text x="324.7" y="68.2" class="tk" text-anchor="end">-10</text>
<path d="M328.5 40.2h2" class="ax"/>
<text x="324.7" y="43.6" class="tk" text-anchor="end">-5</text>
<path d="M328.5 15.5h2" class="ax"/>
<text x="324.7" y="18.9" class="tk" text-anchor="end">0</text>
<path d="M328.5 163.5v-2" class="ax"/>
<text x="328.5" y="174.5" class="tk" text-anchor="middle">0</text>
<path d="M363.7 163.5v-2" class="ax"/>
<text x="363.7" y="174.5" class="tk" text-anchor="middle">0.1</text>
<path d="M398.9 163.5v-2" class="ax"/>
<text x="398.9" y="174.5" class="tk" text-anchor="middle">0.2</text>
<path d="M434.1 163.5v-2" class="ax"/>
<text x="434.1" y="174.5" class="tk" text-anchor="middle">0.3</text>
<path d="M469.3 163.5v-2" class="ax"/>
<text x="469.3" y="174.5" class="tk" text-anchor="middle">0.4</text>
<path d="M504.5 163.5v-2" class="ax"/>
<text x="504.5" y="174.5" class="tk" text-anchor="middle">0.5</text>
<path d="M539.7 163.5v-2" class="ax"/>
<text x="539.7" y="174.5" class="tk" text-anchor="middle">0.6</text>
<text x="434.1" y="188.5" class="xl" text-anchor="middle">in situ SSM (cm<tspan dy="-4.8" font-size="7.6">3</tspan><tspan dy="4.8">/cm</tspan><tspan dy="-4.8" font-size="7.6">3</tspan><tspan dy="4.8">)</tspan></text>
<text transform="translate(308.3 89.5) rotate(-90)" class="yl" text-anchor="middle">VV backscattering coefficient (dB)</text>
<text x="429.6" y="208.0" class="sub" text-anchor="middle">(b)</text>
<circle cx="234.9" cy="262.8" r="1.85" fill="none" stroke="#625cdc" stroke-width="0.75"/>
<circle cx="245.8" cy="260.9" r="1.85" fill="none" stroke="#625cdc" stroke-width="0.75"/>
<circle cx="248.7" cy="265.7" r="1.85" fill="none" stroke="#625cdc" stroke-width="0.75"/>
<circle cx="257.5" cy="265.3" r="1.85" fill="none" stroke="#625cdc" stroke-width="0.75"/>
<circle cx="266.2" cy="263.4" r="1.85" fill="none" stroke="#625cdc" stroke-width="0.75"/>
<circle cx="264.0" cy="267.5" r="1.85" fill="none" stroke="#625cdc" stroke-width="0.75"/>
<circle cx="210.9" cy="266.7" r="1.85" fill="none" stroke="#625cdc" stroke-width="0.75"/>
<circle cx="218.9" cy="268.2" r="1.85" fill="none" stroke="#625cdc" stroke-width="0.75"/>
<circle cx="227.6" cy="269.6" r="1.85" fill="none" stroke="#625cdc" stroke-width="0.75"/>
<circle cx="233.5" cy="271.5" r="1.85" fill="none" stroke="#625cdc" stroke-width="0.75"/>
<circle cx="205.1" cy="271.8" r="1.85" fill="none" stroke="#625cdc" stroke-width="0.75"/>
<circle cx="216.0" cy="275.0" r="1.85" fill="none" stroke="#625cdc" stroke-width="0.75"/>
<circle cx="224.7" cy="275.0" r="1.85" fill="none" stroke="#625cdc" stroke-width="0.75"/>
<circle cx="231.3" cy="276.2" r="1.85" fill="none" stroke="#625cdc" stroke-width="0.75"/>
<circle cx="230.5" cy="277.6" r="1.85" fill="none" stroke="#625cdc" stroke-width="0.75"/>
<circle cx="208.7" cy="276.9" r="1.85" fill="none" stroke="#625cdc" stroke-width="0.75"/>
<circle cx="248.4" cy="271.8" r="1.85" fill="none" stroke="#625cdc" stroke-width="0.75"/>
<circle cx="254.5" cy="271.1" r="1.85" fill="none" stroke="#625cdc" stroke-width="0.75"/>
<circle cx="256.0" cy="268.2" r="1.85" fill="none" stroke="#625cdc" stroke-width="0.75"/>
<circle cx="269.8" cy="272.5" r="1.85" fill="none" stroke="#625cdc" stroke-width="0.75"/>
<circle cx="245.1" cy="279.1" r="1.85" fill="none" stroke="#625cdc" stroke-width="0.75"/>
<circle cx="254.5" cy="279.8" r="1.85" fill="none" stroke="#625cdc" stroke-width="0.75"/>
<circle cx="267.6" cy="279.8" r="1.85" fill="none" stroke="#625cdc" stroke-width="0.75"/>
<circle cx="271.3" cy="278.4" r="1.85" fill="none" stroke="#625cdc" stroke-width="0.75"/>
<circle cx="215.3" cy="282.7" r="1.85" fill="none" stroke="#625cdc" stroke-width="0.75"/>
<circle cx="264.7" cy="282.0" r="1.85" fill="none" stroke="#625cdc" stroke-width="0.75"/>
<circle cx="277.8" cy="260.2" r="1.85" fill="none" stroke="#625cdc" stroke-width="0.75"/>
<circle cx="288.0" cy="261.3" r="1.85" fill="none" stroke="#625cdc" stroke-width="0.75"/>
<circle cx="282.2" cy="264.5" r="1.85" fill="none" stroke="#625cdc" stroke-width="0.75"/>
<circle cx="282.2" cy="268.9" r="1.85" fill="none" stroke="#625cdc" stroke-width="0.75"/>
<circle cx="282.9" cy="271.1" r="1.85" fill="none" stroke="#625cdc" stroke-width="0.75"/>
<circle cx="303.3" cy="256.1" r="1.85" fill="none" stroke="#625cdc" stroke-width="0.75"/>
<circle cx="303.3" cy="257.3" r="1.85" fill="none" stroke="#625cdc" stroke-width="0.75"/>
<circle cx="302.5" cy="261.9" r="1.85" fill="none" stroke="#625cdc" stroke-width="0.75"/>
<circle cx="312.0" cy="258.0" r="1.85" fill="none" stroke="#625cdc" stroke-width="0.75"/>
<circle cx="314.2" cy="262.4" r="1.85" fill="none" stroke="#625cdc" stroke-width="0.75"/>
<circle cx="289.5" cy="276.9" r="1.85" fill="none" stroke="#625cdc" stroke-width="0.75"/>
<circle cx="293.1" cy="277.6" r="1.85" fill="none" stroke="#625cdc" stroke-width="0.75"/>
<circle cx="295.3" cy="276.2" r="1.85" fill="none" stroke="#625cdc" stroke-width="0.75"/>
<circle cx="298.2" cy="282.3" r="1.85" fill="none" stroke="#625cdc" stroke-width="0.75"/>
<circle cx="301.8" cy="281.3" r="1.85" fill="none" stroke="#625cdc" stroke-width="0.75"/>
<circle cx="306.9" cy="279.1" r="1.85" fill="none" stroke="#625cdc" stroke-width="0.75"/>
<circle cx="274.9" cy="281.3" r="1.85" fill="none" stroke="#625cdc" stroke-width="0.75"/>
<circle cx="200.6" cy="291.2" r="1.85" fill="none" stroke="#625cdc" stroke-width="0.75"/>
<circle cx="204.7" cy="292.1" r="1.85" fill="none" stroke="#625cdc" stroke-width="0.75"/>
<circle cx="209.7" cy="286.2" r="1.85" fill="none" stroke="#625cdc" stroke-width="0.75"/>
<circle cx="215.2" cy="286.6" r="1.85" fill="none" stroke="#625cdc" stroke-width="0.75"/>
<circle cx="231.1" cy="287.1" r="1.85" fill="none" stroke="#625cdc" stroke-width="0.75"/>
<circle cx="208.8" cy="297.1" r="1.85" fill="none" stroke="#625cdc" stroke-width="0.75"/>
<circle cx="239.3" cy="286.6" r="1.85" fill="none" stroke="#625cdc" stroke-width="0.75"/>
<circle cx="256.8" cy="286.6" r="1.85" fill="none" stroke="#625cdc" stroke-width="0.75"/>
<circle cx="256.4" cy="289.8" r="1.85" fill="none" stroke="#625cdc" stroke-width="0.75"/>
<circle cx="276.8" cy="290.3" r="1.85" fill="none" stroke="#625cdc" stroke-width="0.75"/>
<circle cx="276.4" cy="284.4" r="1.85" fill="none" stroke="#625cdc" stroke-width="0.75"/>
<circle cx="285.5" cy="285.7" r="1.85" fill="none" stroke="#625cdc" stroke-width="0.75"/>
<circle cx="283.6" cy="284.4" r="1.85" fill="none" stroke="#625cdc" stroke-width="0.75"/>
<path d="M204.4 267.2L207.2 270.0M204.4 270.0L207.2 267.2" stroke="#30d830" stroke-width="0.7"/>
<path d="M213.9 270.1L216.7 272.9M213.9 272.9L216.7 270.1" stroke="#30d830" stroke-width="0.7"/>
<path d="M212.4 276.2L215.2 279.0M212.4 279.0L215.2 276.2" stroke="#30d830" stroke-width="0.7"/>
<path d="M221.1 271.1L223.9 273.9M221.1 273.9L223.9 271.1" stroke="#30d830" stroke-width="0.7"/>
<path d="M227.0 266.8L229.8 269.6M227.0 269.6L229.8 266.8" stroke="#30d830" stroke-width="0.7"/>
<path d="M235.0 267.5L237.8 270.3M235.0 270.3L237.8 267.5" stroke="#30d830" stroke-width="0.7"/>
<path d="M240.8 269.7L243.6 272.5M240.8 272.5L243.6 269.7" stroke="#30d830" stroke-width="0.7"/>
<path d="M246.6 263.1L249.4 265.9M246.6 265.9L249.4 263.1" stroke="#30d830" stroke-width="0.7"/>
<path d="M253.1 266.8L255.9 269.6M253.1 269.6L255.9 266.8" stroke="#30d830" stroke-width="0.7"/>
<path d="M203.0 281.3L205.8 284.1M203.0 284.1L205.8 281.3" stroke="#30d830" stroke-width="0.7"/>
<path d="M205.1 276.2L207.9 279.0M205.1 279.0L207.9 276.2" stroke="#30d830" stroke-width="0.7"/>
<path d="M220.4 274.8L223.2 277.6M220.4 277.6L223.2 274.8" stroke="#30d830" stroke-width="0.7"/>
<path d="M229.9 280.3L232.7 283.1M229.9 283.1L232.7 280.3" stroke="#30d830" stroke-width="0.7"/>
<path d="M245.9 281.3L248.7 284.1M245.9 284.1L248.7 281.3" stroke="#30d830" stroke-width="0.7"/>
<path d="M251.7 276.2L254.5 279.0M251.7 279.0L254.5 276.2" stroke="#30d830" stroke-width="0.7"/>
<path d="M212.4 279.1L215.2 281.9M212.4 281.9L215.2 279.1" stroke="#30d830" stroke-width="0.7"/>
<path d="M274.2 261.0L277.0 263.8M274.2 263.8L277.0 261.0" stroke="#30d830" stroke-width="0.7"/>
<path d="M275.7 277.7L278.5 280.5M275.7 280.5L278.5 277.7" stroke="#30d830" stroke-width="0.7"/>
<path d="M214.6 318.1L217.4 320.9M214.6 320.9L217.4 318.1" stroke="#30d830" stroke-width="0.7"/>
<path d="M206.5 298.4L209.3 301.2M206.5 301.2L209.3 298.4" stroke="#30d830" stroke-width="0.7"/>
<path d="M214.7 295.7L217.5 298.5M214.7 298.5L217.5 295.7" stroke="#30d830" stroke-width="0.7"/>
<path d="M200.6 283.4L203.4 286.2M200.6 286.2L203.4 283.4" stroke="#30d830" stroke-width="0.7"/>
<path d="M211.5 282.5L214.3 285.3M211.5 285.3L214.3 282.5" stroke="#30d830" stroke-width="0.7"/>
<path d="M202.4 299.3L205.2 302.1M202.4 302.1L205.2 299.3" stroke="#30d830" stroke-width="0.7"/>
<path d="M222.4 301.6L225.2 304.4M222.4 304.4L225.2 301.6" stroke="#30d830" stroke-width="0.7"/>
<path d="M229.2 305.7L232.0 308.5M229.2 308.5L232.0 305.7" stroke="#30d830" stroke-width="0.7"/>
<path d="M247.7 293.4L250.5 296.2M247.7 296.2L250.5 293.4" stroke="#30d830" stroke-width="0.7"/>
<path d="M272.7 298.9L275.5 301.7M272.7 301.7L275.5 298.9" stroke="#30d830" stroke-width="0.7"/>
<path d="M214.0 290.9L216.8 293.7M214.0 293.7L216.8 290.9" stroke="#30d830" stroke-width="0.7"/>
<path d="M205.7 298.9L208.5 301.7M205.7 301.7L208.5 298.9" stroke="#30d830" stroke-width="0.7"/>
<path d="M222.8 294.9L225.6 297.7M222.8 297.7L225.6 294.9" stroke="#30d830" stroke-width="0.7"/>
<path d="M211.9 296.7L214.7 299.5M211.9 299.5L214.7 296.7" stroke="#30d830" stroke-width="0.7"/>
<path d="M223.0 290.8L225.8 293.6M223.0 293.6L225.8 290.8" stroke="#30d830" stroke-width="0.7"/>
<path d="M197.8 287.4L200.6 290.2M197.8 290.2L200.6 287.4" stroke="#30d830" stroke-width="0.7"/>
<path d="M232.4 290.0L235.2 292.8M232.4 292.8L235.2 290.0" stroke="#30d830" stroke-width="0.7"/>
<path d="M208.7 291.7L211.5 294.5M208.7 294.5L211.5 291.7" stroke="#30d830" stroke-width="0.7"/>
<path d="M295.6 275.8L299.4 275.8L297.5 278.8Z" fill="none" stroke="#2ad8e0" stroke-width="0.7"/>
<path d="M310.8 284.5L314.6 284.5L312.7 287.5Z" fill="none" stroke="#2ad8e0" stroke-width="0.7"/>
<path d="M299.9 295.4L303.7 295.4L301.8 298.4Z" fill="none" stroke="#2ad8e0" stroke-width="0.7"/>
<path d="M300.6 296.9L304.4 296.9L302.5 299.9Z" fill="none" stroke="#2ad8e0" stroke-width="0.7"/>
<path d="M368.5 289.2L372.3 289.2L370.4 292.2Z" fill="none" stroke="#2ad8e0" stroke-width="0.7"/>
<path d="M355.6 289.2L359.4 289.2L357.5 292.2Z" fill="none" stroke="#2ad8e0" stroke-width="0.7"/>
<path d="M264.3 317.2L268.1 317.2L266.2 320.3Z" fill="none" stroke="#2ad8e0" stroke-width="0.7"/>
<path d="M266.5 319.4L270.3 319.4L268.4 322.4Z" fill="none" stroke="#2ad8e0" stroke-width="0.7"/>
<path d="M288.3 310.7L292.1 310.7L290.2 313.7Z" fill="none" stroke="#2ad8e0" stroke-width="0.7"/>
<path d="M289.7 315.0L293.5 315.0L291.6 318.1Z" fill="none" stroke="#2ad8e0" stroke-width="0.7"/>
<path d="M291.9 304.9L295.7 304.9L293.8 307.9Z" fill="none" stroke="#2ad8e0" stroke-width="0.7"/>
<path d="M295.6 308.5L299.4 308.5L297.5 311.5Z" fill="none" stroke="#2ad8e0" stroke-width="0.7"/>
<path d="M299.9 310.0L303.7 310.0L301.8 313.0Z" fill="none" stroke="#2ad8e0" stroke-width="0.7"/>
<path d="M305.0 304.9L308.8 304.9L306.9 307.9Z" fill="none" stroke="#2ad8e0" stroke-width="0.7"/>
<path d="M305.7 301.2L309.5 301.2L307.6 304.3Z" fill="none" stroke="#2ad8e0" stroke-width="0.7"/>
<path d="M309.4 300.5L313.2 300.5L311.3 303.5Z" fill="none" stroke="#2ad8e0" stroke-width="0.7"/>
<path d="M289.0 320.1L292.8 320.1L290.9 323.2Z" fill="none" stroke="#2ad8e0" stroke-width="0.7"/>
<path d="M275.9 327.4L279.7 327.4L277.8 330.4Z" fill="none" stroke="#2ad8e0" stroke-width="0.7"/>
<path d="M269.0 286.0L272.8 286.0L270.9 289.0Z" fill="none" stroke="#2ad8e0" stroke-width="0.7"/>
<path d="M280.4 284.6L284.2 284.6L282.3 287.6Z" fill="none" stroke="#2ad8e0" stroke-width="0.7"/>
<path d="M269.9 313.7L273.7 313.7L271.8 316.7Z" fill="none" stroke="#2ad8e0" stroke-width="0.7"/>
<path d="M285.4 304.6L289.2 304.6L287.3 307.6Z" fill="none" stroke="#2ad8e0" stroke-width="0.7"/>
<path d="M283.6 312.8L287.4 312.8L285.5 315.8Z" fill="none" stroke="#2ad8e0" stroke-width="0.7"/>
<path d="M239.0 290.0L242.8 290.0L240.9 293.1Z" fill="none" stroke="#2ad8e0" stroke-width="0.7"/>
<path d="M288.7 312.9L292.5 312.9L290.6 316.0Z" fill="none" stroke="#2ad8e0" stroke-width="0.7"/>
<path d="M278.7 312.1L282.5 312.1L280.6 315.1Z" fill="none" stroke="#2ad8e0" stroke-width="0.7"/>
<path d="M289.4 304.6L293.2 304.6L291.3 307.7Z" fill="none" stroke="#2ad8e0" stroke-width="0.7"/>
<path d="M287.6 309.6L291.4 309.6L289.5 312.6Z" fill="none" stroke="#2ad8e0" stroke-width="0.7"/>
<path d="M273.0 305.0L276.8 305.0L274.9 308.1Z" fill="none" stroke="#2ad8e0" stroke-width="0.7"/>
<path d="M276.1 306.5L279.9 306.5L278.0 309.5Z" fill="none" stroke="#2ad8e0" stroke-width="0.7"/>
<path d="M286.6 309.0L290.4 309.0L288.5 312.1Z" fill="none" stroke="#2ad8e0" stroke-width="0.7"/>
<path d="M283.1 310.0L286.9 310.0L285.0 313.1Z" fill="none" stroke="#2ad8e0" stroke-width="0.7"/>
<path d="M284.2 303.4L288.0 303.4L286.1 306.5Z" fill="none" stroke="#2ad8e0" stroke-width="0.7"/>
<path d="M287.8 314.1L291.6 314.1L289.7 317.2Z" fill="none" stroke="#2ad8e0" stroke-width="0.7"/>
<circle cx="293.1" cy="289.3" r="1.6" fill="none" stroke="#e040e0" stroke-width="0.8"/>
<circle cx="290.9" cy="298.0" r="1.6" fill="none" stroke="#e040e0" stroke-width="0.8"/>
<circle cx="205.8" cy="322.7" r="1.6" fill="none" stroke="#e040e0" stroke-width="0.8"/>
<circle cx="206.5" cy="325.6" r="1.6" fill="none" stroke="#e040e0" stroke-width="0.8"/>
<circle cx="213.8" cy="324.2" r="1.6" fill="none" stroke="#e040e0" stroke-width="0.8"/>
<circle cx="216.0" cy="325.6" r="1.6" fill="none" stroke="#e040e0" stroke-width="0.8"/>
<circle cx="217.5" cy="327.1" r="1.6" fill="none" stroke="#e040e0" stroke-width="0.8"/>
<circle cx="221.8" cy="323.9" r="1.6" fill="none" stroke="#e040e0" stroke-width="0.8"/>
<circle cx="226.9" cy="331.5" r="1.6" fill="none" stroke="#e040e0" stroke-width="0.8"/>
<circle cx="230.5" cy="333.6" r="1.6" fill="none" stroke="#e040e0" stroke-width="0.8"/>
<circle cx="228.4" cy="326.4" r="1.6" fill="none" stroke="#e040e0" stroke-width="0.8"/>
<circle cx="229.8" cy="323.5" r="1.6" fill="none" stroke="#e040e0" stroke-width="0.8"/>
<circle cx="229.1" cy="321.3" r="1.6" fill="none" stroke="#e040e0" stroke-width="0.8"/>
<circle cx="232.0" cy="322.0" r="1.6" fill="none" stroke="#e040e0" stroke-width="0.8"/>
<circle cx="234.2" cy="324.9" r="1.6" fill="none" stroke="#e040e0" stroke-width="0.8"/>
<circle cx="235.6" cy="327.1" r="1.6" fill="none" stroke="#e040e0" stroke-width="0.8"/>
<circle cx="237.8" cy="321.3" r="1.6" fill="none" stroke="#e040e0" stroke-width="0.8"/>
<circle cx="242.2" cy="325.6" r="1.6" fill="none" stroke="#e040e0" stroke-width="0.8"/>
<circle cx="243.6" cy="330.0" r="1.6" fill="none" stroke="#e040e0" stroke-width="0.8"/>
<circle cx="246.5" cy="324.9" r="1.6" fill="none" stroke="#e040e0" stroke-width="0.8"/>
<circle cx="248.0" cy="328.5" r="1.6" fill="none" stroke="#e040e0" stroke-width="0.8"/>
<circle cx="252.4" cy="327.1" r="1.6" fill="none" stroke="#e040e0" stroke-width="0.8"/>
<circle cx="254.5" cy="332.2" r="1.6" fill="none" stroke="#e040e0" stroke-width="0.8"/>
<circle cx="260.4" cy="325.6" r="1.6" fill="none" stroke="#e040e0" stroke-width="0.8"/>
<circle cx="263.3" cy="326.4" r="1.6" fill="none" stroke="#e040e0" stroke-width="0.8"/>
<circle cx="261.8" cy="331.5" r="1.6" fill="none" stroke="#e040e0" stroke-width="0.8"/>
<circle cx="265.5" cy="329.3" r="1.6" fill="none" stroke="#e040e0" stroke-width="0.8"/>
<circle cx="269.1" cy="321.3" r="1.6" fill="none" stroke="#e040e0" stroke-width="0.8"/>
<circle cx="271.3" cy="322.7" r="1.6" fill="none" stroke="#e040e0" stroke-width="0.8"/>
<circle cx="224.7" cy="318.4" r="1.6" fill="none" stroke="#e040e0" stroke-width="0.8"/>
<circle cx="256.0" cy="319.8" r="1.6" fill="none" stroke="#e040e0" stroke-width="0.8"/>
<circle cx="297.5" cy="303.8" r="1.6" fill="none" stroke="#e040e0" stroke-width="0.8"/>
<circle cx="309.1" cy="309.6" r="1.6" fill="none" stroke="#e040e0" stroke-width="0.8"/>
<circle cx="277.8" cy="319.1" r="1.6" fill="none" stroke="#e040e0" stroke-width="0.8"/>
<circle cx="280.0" cy="320.5" r="1.6" fill="none" stroke="#e040e0" stroke-width="0.8"/>
<circle cx="282.2" cy="319.8" r="1.6" fill="none" stroke="#e040e0" stroke-width="0.8"/>
<circle cx="288.0" cy="321.0" r="1.6" fill="none" stroke="#e040e0" stroke-width="0.8"/>
<circle cx="302.5" cy="319.8" r="1.6" fill="none" stroke="#e040e0" stroke-width="0.8"/>
<circle cx="305.5" cy="323.9" r="1.6" fill="none" stroke="#e040e0" stroke-width="0.8"/>
<circle cx="304.7" cy="326.4" r="1.6" fill="none" stroke="#e040e0" stroke-width="0.8"/>
<circle cx="307.6" cy="329.3" r="1.6" fill="none" stroke="#e040e0" stroke-width="0.8"/>
<circle cx="310.5" cy="328.5" r="1.6" fill="none" stroke="#e040e0" stroke-width="0.8"/>
<circle cx="311.3" cy="327.1" r="1.6" fill="none" stroke="#e040e0" stroke-width="0.8"/>
<circle cx="315.6" cy="322.7" r="1.6" fill="none" stroke="#e040e0" stroke-width="0.8"/>
<circle cx="318.5" cy="324.9" r="1.6" fill="none" stroke="#e040e0" stroke-width="0.8"/>
<circle cx="315.6" cy="326.4" r="1.6" fill="none" stroke="#e040e0" stroke-width="0.8"/>
<circle cx="320.7" cy="327.8" r="1.6" fill="none" stroke="#e040e0" stroke-width="0.8"/>
<circle cx="321.5" cy="330.0" r="1.6" fill="none" stroke="#e040e0" stroke-width="0.8"/>
<circle cx="320.7" cy="332.2" r="1.6" fill="none" stroke="#e040e0" stroke-width="0.8"/>
<circle cx="331.6" cy="322.4" r="1.6" fill="none" stroke="#e040e0" stroke-width="0.8"/>
<circle cx="343.3" cy="324.5" r="1.6" fill="none" stroke="#e040e0" stroke-width="0.8"/>
<circle cx="348.4" cy="324.2" r="1.6" fill="none" stroke="#e040e0" stroke-width="0.8"/>
<circle cx="293.8" cy="329.3" r="1.6" fill="none" stroke="#e040e0" stroke-width="0.8"/>
<circle cx="301.8" cy="332.6" r="1.6" fill="none" stroke="#e040e0" stroke-width="0.8"/>
<circle cx="285.8" cy="328.5" r="1.6" fill="none" stroke="#e040e0" stroke-width="0.8"/>
<circle cx="287.3" cy="327.8" r="1.6" fill="none" stroke="#e040e0" stroke-width="0.8"/>
<circle cx="281.5" cy="332.9" r="1.6" fill="none" stroke="#e040e0" stroke-width="0.8"/>
<circle cx="276.4" cy="332.9" r="1.6" fill="none" stroke="#e040e0" stroke-width="0.8"/>
<circle cx="277.1" cy="335.1" r="1.6" fill="none" stroke="#e040e0" stroke-width="0.8"/>
<circle cx="273.5" cy="328.5" r="1.6" fill="none" stroke="#e040e0" stroke-width="0.8"/>
<circle cx="274.9" cy="325.6" r="1.6" fill="none" stroke="#e040e0" stroke-width="0.8"/>
<circle cx="277.1" cy="324.2" r="1.6" fill="none" stroke="#e040e0" stroke-width="0.8"/>
<circle cx="273.5" cy="319.8" r="1.6" fill="none" stroke="#e040e0" stroke-width="0.8"/>
<circle cx="353.0" cy="312.5" r="1.6" fill="none" stroke="#e040e0" stroke-width="0.8"/>
<circle cx="380.0" cy="316.8" r="1.6" fill="none" stroke="#e040e0" stroke-width="0.8"/>
<circle cx="365.0" cy="320.5" r="1.6" fill="none" stroke="#e040e0" stroke-width="0.8"/>
<circle cx="358.5" cy="322.2" r="1.6" fill="none" stroke="#e040e0" stroke-width="0.8"/>
<circle cx="348.5" cy="324.0" r="1.6" fill="none" stroke="#e040e0" stroke-width="0.8"/>
<circle cx="382.5" cy="321.8" r="1.6" fill="none" stroke="#e040e0" stroke-width="0.8"/>
<circle cx="386.5" cy="321.0" r="1.6" fill="none" stroke="#e040e0" stroke-width="0.8"/>
<circle cx="388.5" cy="322.0" r="1.6" fill="none" stroke="#e040e0" stroke-width="0.8"/>
<circle cx="198.4" cy="305.3" r="1.6" fill="none" stroke="#e040e0" stroke-width="0.8"/>
<circle cx="200.6" cy="307.5" r="1.6" fill="none" stroke="#e040e0" stroke-width="0.8"/>
<circle cx="202.9" cy="304.4" r="1.6" fill="none" stroke="#e040e0" stroke-width="0.8"/>
<circle cx="204.7" cy="305.7" r="1.6" fill="none" stroke="#e040e0" stroke-width="0.8"/>
<circle cx="200.2" cy="309.8" r="1.6" fill="none" stroke="#e040e0" stroke-width="0.8"/>
<circle cx="202.9" cy="311.2" r="1.6" fill="none" stroke="#e040e0" stroke-width="0.8"/>
<circle cx="205.6" cy="310.3" r="1.6" fill="none" stroke="#e040e0" stroke-width="0.8"/>
<circle cx="207.5" cy="312.1" r="1.6" fill="none" stroke="#e040e0" stroke-width="0.8"/>
<circle cx="200.6" cy="314.8" r="1.6" fill="none" stroke="#e040e0" stroke-width="0.8"/>
<circle cx="207.9" cy="308.9" r="1.6" fill="none" stroke="#e040e0" stroke-width="0.8"/>
<circle cx="210.6" cy="308.0" r="1.6" fill="none" stroke="#e040e0" stroke-width="0.8"/>
<circle cx="214.3" cy="309.4" r="1.6" fill="none" stroke="#e040e0" stroke-width="0.8"/>
<circle cx="217.9" cy="309.8" r="1.6" fill="none" stroke="#e040e0" stroke-width="0.8"/>
<circle cx="211.5" cy="303.5" r="1.6" fill="none" stroke="#e040e0" stroke-width="0.8"/>
<circle cx="212.0" cy="301.6" r="1.6" fill="none" stroke="#e040e0" stroke-width="0.8"/>
<circle cx="218.8" cy="303.5" r="1.6" fill="none" stroke="#e040e0" stroke-width="0.8"/>
<circle cx="222.0" cy="305.3" r="1.6" fill="none" stroke="#e040e0" stroke-width="0.8"/>
<circle cx="222.9" cy="310.3" r="1.6" fill="none" stroke="#e040e0" stroke-width="0.8"/>
<circle cx="223.8" cy="312.1" r="1.6" fill="none" stroke="#e040e0" stroke-width="0.8"/>
<circle cx="226.1" cy="301.2" r="1.6" fill="none" stroke="#e040e0" stroke-width="0.8"/>
<circle cx="227.9" cy="299.4" r="1.6" fill="none" stroke="#e040e0" stroke-width="0.8"/>
<circle cx="228.4" cy="296.6" r="1.6" fill="none" stroke="#e040e0" stroke-width="0.8"/>
<circle cx="232.0" cy="294.8" r="1.6" fill="none" stroke="#e040e0" stroke-width="0.8"/>
<circle cx="233.8" cy="302.1" r="1.6" fill="none" stroke="#e040e0" stroke-width="0.8"/>
<circle cx="235.6" cy="303.0" r="1.6" fill="none" stroke="#e040e0" stroke-width="0.8"/>
<circle cx="237.5" cy="305.7" r="1.6" fill="none" stroke="#e040e0" stroke-width="0.8"/>
<circle cx="239.3" cy="307.5" r="1.6" fill="none" stroke="#e040e0" stroke-width="0.8"/>
<circle cx="234.7" cy="310.3" r="1.6" fill="none" stroke="#e040e0" stroke-width="0.8"/>
<circle cx="239.3" cy="297.5" r="1.6" fill="none" stroke="#e040e0" stroke-width="0.8"/>
<circle cx="225.6" cy="296.2" r="1.6" fill="none" stroke="#e040e0" stroke-width="0.8"/>
<circle cx="219.3" cy="300.7" r="1.6" fill="none" stroke="#e040e0" stroke-width="0.8"/>
<circle cx="243.6" cy="293.9" r="1.6" fill="none" stroke="#e040e0" stroke-width="0.8"/>
<circle cx="249.1" cy="301.6" r="1.6" fill="none" stroke="#e040e0" stroke-width="0.8"/>
<circle cx="251.8" cy="301.2" r="1.6" fill="none" stroke="#e040e0" stroke-width="0.8"/>
<circle cx="249.1" cy="306.2" r="1.6" fill="none" stroke="#e040e0" stroke-width="0.8"/>
<circle cx="245.9" cy="307.5" r="1.6" fill="none" stroke="#e040e0" stroke-width="0.8"/>
<circle cx="242.7" cy="305.7" r="1.6" fill="none" stroke="#e040e0" stroke-width="0.8"/>
<circle cx="260.9" cy="293.0" r="1.6" fill="none" stroke="#e040e0" stroke-width="0.8"/>
<circle cx="261.4" cy="295.7" r="1.6" fill="none" stroke="#e040e0" stroke-width="0.8"/>
<circle cx="264.5" cy="298.5" r="1.6" fill="none" stroke="#e040e0" stroke-width="0.8"/>
<circle cx="269.5" cy="299.8" r="1.6" fill="none" stroke="#e040e0" stroke-width="0.8"/>
<circle cx="270.0" cy="304.8" r="1.6" fill="none" stroke="#e040e0" stroke-width="0.8"/>
<circle cx="271.4" cy="308.5" r="1.6" fill="none" stroke="#e040e0" stroke-width="0.8"/>
<circle cx="267.3" cy="306.6" r="1.6" fill="none" stroke="#e040e0" stroke-width="0.8"/>
<circle cx="264.5" cy="309.4" r="1.6" fill="none" stroke="#e040e0" stroke-width="0.8"/>
<circle cx="262.3" cy="311.2" r="1.6" fill="none" stroke="#e040e0" stroke-width="0.8"/>
<circle cx="254.5" cy="311.2" r="1.6" fill="none" stroke="#e040e0" stroke-width="0.8"/>
<circle cx="252.7" cy="313.9" r="1.6" fill="none" stroke="#e040e0" stroke-width="0.8"/>
<circle cx="246.4" cy="313.0" r="1.6" fill="none" stroke="#e040e0" stroke-width="0.8"/>
<circle cx="241.8" cy="312.1" r="1.6" fill="none" stroke="#e040e0" stroke-width="0.8"/>
<circle cx="281.4" cy="306.6" r="1.6" fill="none" stroke="#e040e0" stroke-width="0.8"/>
<circle cx="277.3" cy="311.2" r="1.6" fill="none" stroke="#e040e0" stroke-width="0.8"/>
<circle cx="283.6" cy="311.2" r="1.6" fill="none" stroke="#e040e0" stroke-width="0.8"/>
<circle cx="273.6" cy="306.6" r="1.6" fill="none" stroke="#e040e0" stroke-width="0.8"/>
<circle cx="243.3" cy="316.8" r="1.6" fill="none" stroke="#e040e0" stroke-width="0.8"/>
<circle cx="277.0" cy="312.1" r="1.6" fill="none" stroke="#e040e0" stroke-width="0.8"/>
<circle cx="260.9" cy="309.9" r="1.6" fill="none" stroke="#e040e0" stroke-width="0.8"/>
<circle cx="242.2" cy="316.8" r="1.6" fill="none" stroke="#e040e0" stroke-width="0.8"/>
<circle cx="261.8" cy="306.0" r="1.6" fill="none" stroke="#e040e0" stroke-width="0.8"/>
<circle cx="267.4" cy="316.0" r="1.6" fill="none" stroke="#e040e0" stroke-width="0.8"/>
<circle cx="220.8" cy="303.6" r="1.6" fill="none" stroke="#e040e0" stroke-width="0.8"/>
<circle cx="223.0" cy="308.8" r="1.6" fill="none" stroke="#e040e0" stroke-width="0.8"/>
<circle cx="213.6" cy="316.4" r="1.6" fill="none" stroke="#e040e0" stroke-width="0.8"/>
<circle cx="242.8" cy="300.3" r="1.6" fill="none" stroke="#e040e0" stroke-width="0.8"/>
<circle cx="207.1" cy="304.1" r="1.6" fill="none" stroke="#e040e0" stroke-width="0.8"/>
<circle cx="246.6" cy="300.3" r="1.6" fill="none" stroke="#e040e0" stroke-width="0.8"/>
<circle cx="250.6" cy="310.8" r="1.6" fill="none" stroke="#e040e0" stroke-width="0.8"/>
<circle cx="260.0" cy="307.1" r="1.6" fill="none" stroke="#e040e0" stroke-width="0.8"/>
<circle cx="230.4" cy="310.8" r="1.6" fill="none" stroke="#e040e0" stroke-width="0.8"/>
<circle cx="221.9" cy="309.4" r="1.6" fill="none" stroke="#e040e0" stroke-width="0.8"/>
<circle cx="254.0" cy="304.3" r="1.6" fill="none" stroke="#e040e0" stroke-width="0.8"/>
<circle cx="260.7" cy="317.0" r="1.6" fill="none" stroke="#e040e0" stroke-width="0.8"/>
<circle cx="223.0" cy="307.0" r="1.6" fill="none" stroke="#e040e0" stroke-width="0.8"/>
<circle cx="251.0" cy="301.3" r="1.6" fill="none" stroke="#e040e0" stroke-width="0.8"/>
<circle cx="276.6" cy="308.8" r="1.6" fill="none" stroke="#e040e0" stroke-width="0.8"/>
<circle cx="272.0" cy="314.6" r="1.6" fill="none" stroke="#e040e0" stroke-width="0.8"/>
<circle cx="250.9" cy="302.8" r="1.6" fill="none" stroke="#e040e0" stroke-width="0.8"/>
<circle cx="215.7" cy="313.5" r="1.6" fill="none" stroke="#e040e0" stroke-width="0.8"/>
<circle cx="228.3" cy="303.0" r="1.6" fill="none" stroke="#e040e0" stroke-width="0.8"/>
<circle cx="236.4" cy="309.4" r="1.6" fill="none" stroke="#e040e0" stroke-width="0.8"/>
<circle cx="217.8" cy="306.1" r="1.6" fill="none" stroke="#e040e0" stroke-width="0.8"/>
<circle cx="251.9" cy="317.4" r="1.6" fill="none" stroke="#e040e0" stroke-width="0.8"/>
<circle cx="224.5" cy="304.3" r="1.6" fill="none" stroke="#e040e0" stroke-width="0.8"/>
<circle cx="263.9" cy="310.2" r="1.6" fill="none" stroke="#e040e0" stroke-width="0.8"/>
<circle cx="254.0" cy="313.8" r="1.6" fill="none" stroke="#e040e0" stroke-width="0.8"/>
<circle cx="216.2" cy="303.7" r="1.6" fill="none" stroke="#e040e0" stroke-width="0.8"/>
<circle cx="221.8" cy="312.8" r="1.6" fill="none" stroke="#e040e0" stroke-width="0.8"/>
<circle cx="223.9" cy="313.9" r="1.6" fill="none" stroke="#e040e0" stroke-width="0.8"/>
<circle cx="217.6" cy="315.9" r="1.6" fill="none" stroke="#e040e0" stroke-width="0.8"/>
<path d="M259.6 273.6L262.6 273.6M261.1 272.1L261.1 275.1M260.0 272.4L262.2 274.7M260.0 274.7L262.2 272.4" stroke="#e8202a" stroke-width="0.8"/>
<path d="M290.9 281.3L293.9 281.3M292.4 279.8L292.4 282.8M291.2 280.1L293.5 282.4M291.2 282.4L293.5 280.1" stroke="#e8202a" stroke-width="0.8"/>
<path d="M305.4 282.7L308.4 282.7M306.9 281.2L306.9 284.2M305.8 281.6L308.0 283.9M305.8 283.9L308.0 281.6" stroke="#e8202a" stroke-width="0.8"/>
<path d="M317.8 280.5L320.8 280.5M319.3 279.0L319.3 282.0M318.1 279.4L320.4 281.7M318.1 281.7L320.4 279.4" stroke="#e8202a" stroke-width="0.8"/>
<path d="M319.2 283.7L322.2 283.7M320.7 282.2L320.7 285.2M319.6 282.6L321.9 284.9M319.6 284.9L321.9 282.6" stroke="#e8202a" stroke-width="0.8"/>
<path d="M308.3 284.9L311.3 284.9M309.8 283.4L309.8 286.4M308.7 283.8L310.9 286.0M308.7 286.0L310.9 283.8" stroke="#e8202a" stroke-width="0.8"/>
<path d="M291.6 286.4L294.6 286.4M293.1 284.9L293.1 287.9M292.0 285.2L294.2 287.5M292.0 287.5L294.2 285.2" stroke="#e8202a" stroke-width="0.8"/>
<path d="M298.1 289.3L301.1 289.3M299.6 287.8L299.6 290.8M298.5 288.1L300.8 290.4M298.5 290.4L300.8 288.1" stroke="#e8202a" stroke-width="0.8"/>
<path d="M301.0 288.5L304.0 288.5M302.5 287.0L302.5 290.0M301.4 287.4L303.7 289.7M301.4 289.7L303.7 287.4" stroke="#e8202a" stroke-width="0.8"/>
<path d="M304.0 287.8L307.0 287.8M305.5 286.3L305.5 289.3M304.3 286.7L306.6 288.9M304.3 288.9L306.6 286.7" stroke="#e8202a" stroke-width="0.8"/>
<path d="M307.6 287.1L310.6 287.1M309.1 285.6L309.1 288.6M308.0 286.0L310.2 288.2M308.0 288.2L310.2 286.0" stroke="#e8202a" stroke-width="0.8"/>
<path d="M311.2 289.3L314.2 289.3M312.7 287.8L312.7 290.8M311.6 288.1L313.9 290.4M311.6 290.4L313.9 288.1" stroke="#e8202a" stroke-width="0.8"/>
<path d="M315.6 287.1L318.6 287.1M317.1 285.6L317.1 288.6M316.0 286.0L318.2 288.2M316.0 288.2L318.2 286.0" stroke="#e8202a" stroke-width="0.8"/>
<path d="M323.6 287.1L326.6 287.1M325.1 285.6L325.1 288.6M324.0 286.0L326.2 288.2M324.0 288.2L326.2 286.0" stroke="#e8202a" stroke-width="0.8"/>
<path d="M329.4 288.5L332.4 288.5M330.9 287.0L330.9 290.0M329.8 287.4L332.0 289.7M329.8 289.7L332.0 287.4" stroke="#e8202a" stroke-width="0.8"/>
<path d="M331.6 287.1L334.6 287.1M333.1 285.6L333.1 288.6M332.0 286.0L334.2 288.2M332.0 288.2L334.2 286.0" stroke="#e8202a" stroke-width="0.8"/>
<path d="M336.7 285.6L339.7 285.6M338.2 284.1L338.2 287.1M337.1 284.5L339.3 286.8M337.1 286.8L339.3 284.5" stroke="#e8202a" stroke-width="0.8"/>
<path d="M344.0 287.1L347.0 287.1M345.5 285.6L345.5 288.6M344.3 286.0L346.6 288.2M344.3 288.2L346.6 286.0" stroke="#e8202a" stroke-width="0.8"/>
<path d="M346.1 288.1L349.1 288.1M347.6 286.6L347.6 289.6M346.5 287.0L348.8 289.2M346.5 289.2L348.8 287.0" stroke="#e8202a" stroke-width="0.8"/>
<path d="M349.0 288.5L352.0 288.5M350.5 287.0L350.5 290.0M349.4 287.4L351.7 289.7M349.4 289.7L351.7 287.4" stroke="#e8202a" stroke-width="0.8"/>
<path d="M323.6 292.2L326.6 292.2M325.1 290.7L325.1 293.7M324.0 291.1L326.2 293.3M324.0 293.3L326.2 291.1" stroke="#e8202a" stroke-width="0.8"/>
<path d="M318.5 292.9L321.5 292.9M320.0 291.4L320.0 294.4M318.9 291.8L321.1 294.0M318.9 294.0L321.1 291.8" stroke="#e8202a" stroke-width="0.8"/>
<path d="M314.1 293.6L317.1 293.6M315.6 292.1L315.6 295.1M314.5 292.5L316.8 294.8M314.5 294.8L316.8 292.5" stroke="#e8202a" stroke-width="0.8"/>
<path d="M309.8 292.2L312.8 292.2M311.3 290.7L311.3 293.7M310.1 291.1L312.4 293.3M310.1 293.3L312.4 291.1" stroke="#e8202a" stroke-width="0.8"/>
<path d="M301.0 292.2L304.0 292.2M302.5 290.7L302.5 293.7M301.4 291.1L303.7 293.3M301.4 293.3L303.7 291.1" stroke="#e8202a" stroke-width="0.8"/>
<path d="M298.1 292.9L301.1 292.9M299.6 291.4L299.6 294.4M298.5 291.8L300.8 294.0M298.5 294.0L300.8 291.8" stroke="#e8202a" stroke-width="0.8"/>
<path d="M307.6 296.5L310.6 296.5M309.1 295.0L309.1 298.0M308.0 295.4L310.2 297.7M308.0 297.7L310.2 295.4" stroke="#e8202a" stroke-width="0.8"/>
<path d="M306.9 299.5L309.9 299.5M308.4 298.0L308.4 301.0M307.2 298.3L309.5 300.6M307.2 300.6L309.5 298.3" stroke="#e8202a" stroke-width="0.8"/>
<path d="M317.0 296.5L320.0 296.5M318.5 295.0L318.5 298.0M317.4 295.4L319.7 297.7M317.4 297.7L319.7 295.4" stroke="#e8202a" stroke-width="0.8"/>
<path d="M322.1 297.3L325.1 297.3M323.6 295.8L323.6 298.8M322.5 296.1L324.8 298.4M322.5 298.4L324.8 296.1" stroke="#e8202a" stroke-width="0.8"/>
<path d="M331.6 293.6L334.6 293.6M333.1 292.1L333.1 295.1M332.0 292.5L334.2 294.8M332.0 294.8L334.2 292.5" stroke="#e8202a" stroke-width="0.8"/>
<path d="M334.5 293.6L337.5 293.6M336.0 292.1L336.0 295.1M334.9 292.5L337.1 294.8M334.9 294.8L337.1 292.5" stroke="#e8202a" stroke-width="0.8"/>
<path d="M338.9 292.2L341.9 292.2M340.4 290.7L340.4 293.7M339.2 291.1L341.5 293.3M339.2 293.3L341.5 291.1" stroke="#e8202a" stroke-width="0.8"/>
<path d="M345.4 293.6L348.4 293.6M346.9 292.1L346.9 295.1M345.8 292.5L348.0 294.8M345.8 294.8L348.0 292.5" stroke="#e8202a" stroke-width="0.8"/>
<path d="M349.8 291.5L352.8 291.5M351.3 290.0L351.3 293.0M350.1 290.3L352.4 292.6M350.1 292.6L352.4 290.3" stroke="#e8202a" stroke-width="0.8"/>
<path d="M289.4 293.6L292.4 293.6M290.9 292.1L290.9 295.1M289.8 292.5L292.0 294.8M289.8 294.8L292.0 292.5" stroke="#e8202a" stroke-width="0.8"/>
<path d="M291.6 297.3L294.6 297.3M293.1 295.8L293.1 298.8M292.0 296.1L294.2 298.4M292.0 298.4L294.2 296.1" stroke="#e8202a" stroke-width="0.8"/>
<path d="M334.5 290.0L337.5 290.0M336.0 288.5L336.0 291.5M334.9 288.9L337.1 291.1M334.9 291.1L337.1 288.9" stroke="#e8202a" stroke-width="0.8"/>
<path d="M328.0 291.5L331.0 291.5M329.5 290.0L329.5 293.0M328.3 290.3L330.6 292.6M328.3 292.6L330.6 290.3" stroke="#e8202a" stroke-width="0.8"/>
<path d="M364.8 283.6L367.8 283.6M366.3 282.1L366.3 285.1M365.1 282.4L367.4 284.7M365.1 284.7L367.4 282.4" stroke="#e8202a" stroke-width="0.8"/>
<path d="M355.4 285.6L358.4 285.6M356.9 284.1L356.9 287.1M355.8 284.5L358.1 286.8M355.8 286.8L358.1 284.5" stroke="#e8202a" stroke-width="0.8"/>
<path d="M354.9 287.2L357.9 287.2M356.4 285.7L356.4 288.7M355.3 286.1L357.5 288.3M355.3 288.3L357.5 286.1" stroke="#e8202a" stroke-width="0.8"/>
<path d="M346.6 287.7L349.6 287.7M348.1 286.2L348.1 289.2M347.0 286.6L349.2 288.8M347.0 288.8L349.2 286.6" stroke="#e8202a" stroke-width="0.8"/>
<path d="M360.1 290.3L363.1 290.3M361.6 288.8L361.6 291.8M360.5 289.2L362.7 291.4M360.5 291.4L362.7 289.2" stroke="#e8202a" stroke-width="0.8"/>
<path d="M362.2 292.4L365.2 292.4M363.7 290.9L363.7 293.9M362.6 291.3L364.8 293.5M362.6 293.5L364.8 291.3" stroke="#e8202a" stroke-width="0.8"/>
<path d="M354.9 293.1L357.9 293.1M356.4 291.6L356.4 294.6M355.3 292.0L357.5 294.2M355.3 294.2L357.5 292.0" stroke="#e8202a" stroke-width="0.8"/>
<path d="M345.6 293.4L348.6 293.4M347.1 291.9L347.1 294.9M346.0 292.3L348.2 294.6M346.0 294.6L348.2 292.3" stroke="#e8202a" stroke-width="0.8"/>
<path d="M348.2 296.0L351.2 296.0M349.7 294.5L349.7 297.5M348.5 294.9L350.8 297.1M348.5 297.1L350.8 294.9" stroke="#e8202a" stroke-width="0.8"/>
<path d="M289.4 304.5L292.4 304.5M290.9 303.0L290.9 306.0M289.8 303.4L292.0 305.7M289.8 305.7L292.0 303.4" stroke="#e8202a" stroke-width="0.8"/>
<path d="M289.4 306.0L292.4 306.0M290.9 304.5L290.9 307.5M289.8 304.9L292.0 307.1M289.8 307.1L292.0 304.9" stroke="#e8202a" stroke-width="0.8"/>
<path d="M293.8 300.9L296.8 300.9M295.3 299.4L295.3 302.4M294.1 299.8L296.4 302.0M294.1 302.0L296.4 299.8" stroke="#e8202a" stroke-width="0.8"/>
<path d="M299.6 301.6L302.6 301.6M301.1 300.1L301.1 303.1M300.0 300.5L302.2 302.8M300.0 302.8L302.2 300.5" stroke="#e8202a" stroke-width="0.8"/>
<path d="M301.0 303.1L304.0 303.1M302.5 301.6L302.5 304.6M301.4 302.0L303.7 304.2M301.4 304.2L303.7 302.0" stroke="#e8202a" stroke-width="0.8"/>
<path d="M308.3 298.7L311.3 298.7M309.8 297.2L309.8 300.2M308.7 297.6L310.9 299.9M308.7 299.9L310.9 297.6" stroke="#e8202a" stroke-width="0.8"/>
<path d="M209.6 297.5L212.6 297.5M211.1 296.0L211.1 299.0M210.0 296.4L212.2 298.7M210.0 298.7L212.2 296.4" stroke="#e8202a" stroke-width="0.8"/>
<path d="M220.5 295.3L223.5 295.3M222.0 293.8L222.0 296.8M220.9 294.1L223.1 296.4M220.9 296.4L223.1 294.1" stroke="#e8202a" stroke-width="0.8"/>
<path d="M222.8 294.8L225.8 294.8M224.3 293.3L224.3 296.3M223.1 293.7L225.4 295.9M223.1 295.9L225.4 293.7" stroke="#e8202a" stroke-width="0.8"/>
<path d="M227.8 290.7L230.8 290.7M229.3 289.2L229.3 292.2M228.1 289.6L230.4 291.9M228.1 291.9L230.4 289.6" stroke="#e8202a" stroke-width="0.8"/>
<path d="M232.3 286.6L235.3 286.6M233.8 285.1L233.8 288.1M232.7 285.5L234.9 287.8M232.7 287.8L234.9 285.5" stroke="#e8202a" stroke-width="0.8"/>
<path d="M236.0 287.1L239.0 287.1M237.5 285.6L237.5 288.6M236.3 286.0L238.6 288.2M236.3 288.2L238.6 286.0" stroke="#e8202a" stroke-width="0.8"/>
<path d="M232.3 295.3L235.3 295.3M233.8 293.8L233.8 296.8M232.7 294.1L234.9 296.4M232.7 296.4L234.9 294.1" stroke="#e8202a" stroke-width="0.8"/>
<path d="M237.8 292.1L240.8 292.1M239.3 290.6L239.3 293.6M238.1 291.0L240.4 293.2M238.1 293.2L240.4 291.0" stroke="#e8202a" stroke-width="0.8"/>
<path d="M237.3 295.3L240.3 295.3M238.8 293.8L238.8 296.8M237.7 294.1L239.9 296.4M237.7 296.4L239.9 294.1" stroke="#e8202a" stroke-width="0.8"/>
<path d="M219.6 300.3L222.6 300.3M221.1 298.8L221.1 301.8M220.0 299.1L222.2 301.4M220.0 301.4L222.2 299.1" stroke="#e8202a" stroke-width="0.8"/>
<path d="M226.9 303.9L229.9 303.9M228.4 302.4L228.4 305.4M227.2 302.8L229.5 305.0M227.2 305.0L229.5 302.8" stroke="#e8202a" stroke-width="0.8"/>
<path d="M230.5 304.4L233.5 304.4M232.0 302.9L232.0 305.9M230.9 303.2L233.1 305.5M230.9 305.5L233.1 303.2" stroke="#e8202a" stroke-width="0.8"/>
<path d="M236.0 302.1L239.0 302.1M237.5 300.6L237.5 303.6M236.3 301.0L238.6 303.2M236.3 303.2L238.6 301.0" stroke="#e8202a" stroke-width="0.8"/>
<path d="M235.0 306.6L238.0 306.6M236.5 305.1L236.5 308.1M235.4 305.5L237.7 307.8M235.4 307.8L237.7 305.5" stroke="#e8202a" stroke-width="0.8"/>
<path d="M227.8 312.1L230.8 312.1M229.3 310.6L229.3 313.6M228.1 311.0L230.4 313.2M228.1 313.2L230.4 311.0" stroke="#e8202a" stroke-width="0.8"/>
<path d="M220.5 314.4L223.5 314.4M222.0 312.9L222.0 315.9M220.9 313.2L223.1 315.5M220.9 315.5L223.1 313.2" stroke="#e8202a" stroke-width="0.8"/>
<path d="M234.1 313.0L237.1 313.0M235.6 311.5L235.6 314.5M234.5 311.9L236.8 314.1M234.5 314.1L236.8 311.9" stroke="#e8202a" stroke-width="0.8"/>
<path d="M226.9 310.3L229.9 310.3M228.4 308.8L228.4 311.8M227.2 309.1L229.5 311.4M227.2 311.4L229.5 309.1" stroke="#e8202a" stroke-width="0.8"/>
<path d="M214.1 302.1L217.1 302.1M215.6 300.6L215.6 303.6M214.5 301.0L216.8 303.2M214.5 303.2L216.8 301.0" stroke="#e8202a" stroke-width="0.8"/>
<path d="M239.4 288.5L242.4 288.5M240.9 287.0L240.9 290.0M239.8 287.3L242.0 289.6M239.8 289.6L242.0 287.3" stroke="#e8202a" stroke-width="0.8"/>
<path d="M242.1 287.5L245.1 287.5M243.6 286.0L243.6 289.0M242.5 286.4L244.8 288.7M242.5 288.7L244.8 286.4" stroke="#e8202a" stroke-width="0.8"/>
<path d="M244.0 288.9L247.0 288.9M245.5 287.4L245.5 290.4M244.3 287.8L246.6 290.0M244.3 290.0L246.6 287.8" stroke="#e8202a" stroke-width="0.8"/>
<path d="M246.7 285.3L249.7 285.3M248.2 283.8L248.2 286.8M247.1 284.1L249.3 286.4M247.1 286.4L249.3 284.1" stroke="#e8202a" stroke-width="0.8"/>
<path d="M249.9 287.1L252.9 287.1M251.4 285.6L251.4 288.6M250.2 286.0L252.5 288.2M250.2 288.2L252.5 286.0" stroke="#e8202a" stroke-width="0.8"/>
<path d="M250.3 289.4L253.3 289.4M251.8 287.9L251.8 290.9M250.7 288.2L252.9 290.5M250.7 290.5L252.9 288.2" stroke="#e8202a" stroke-width="0.8"/>
<path d="M260.3 286.6L263.3 286.6M261.8 285.1L261.8 288.1M260.7 285.5L262.9 287.8M260.7 287.8L262.9 285.5" stroke="#e8202a" stroke-width="0.8"/>
<path d="M262.1 287.1L265.1 287.1M263.6 285.6L263.6 288.6M262.5 286.0L264.8 288.2M262.5 288.2L264.8 286.0" stroke="#e8202a" stroke-width="0.8"/>
<path d="M247.6 293.9L250.6 293.9M249.1 292.4L249.1 295.4M248.0 292.8L250.2 295.0M248.0 295.0L250.2 292.8" stroke="#e8202a" stroke-width="0.8"/>
<path d="M249.9 293.9L252.9 293.9M251.4 292.4L251.4 295.4M250.2 292.8L252.5 295.0M250.2 295.0L252.5 292.8" stroke="#e8202a" stroke-width="0.8"/>
<path d="M242.6 296.6L245.6 296.6M244.1 295.1L244.1 298.1M243.0 295.5L245.2 297.8M243.0 297.8L245.2 295.5" stroke="#e8202a" stroke-width="0.8"/>
<path d="M243.5 299.8L246.5 299.8M245.0 298.3L245.0 301.3M243.9 298.7L246.1 300.9M243.9 300.9L246.1 298.7" stroke="#e8202a" stroke-width="0.8"/>
<path d="M241.7 302.5L244.7 302.5M243.2 301.0L243.2 304.0M242.1 301.4L244.3 303.7M242.1 303.7L244.3 301.4" stroke="#e8202a" stroke-width="0.8"/>
<path d="M246.7 304.8L249.7 304.8M248.2 303.3L248.2 306.3M247.1 303.7L249.3 305.9M247.1 305.9L249.3 303.7" stroke="#e8202a" stroke-width="0.8"/>
<path d="M256.2 301.2L259.2 301.2M257.7 299.7L257.7 302.7M256.6 300.1L258.9 302.3M256.6 302.3L258.9 300.1" stroke="#e8202a" stroke-width="0.8"/>
<path d="M257.6 303.9L260.6 303.9M259.1 302.4L259.1 305.4M258.0 302.8L260.2 305.0M258.0 305.0L260.2 302.8" stroke="#e8202a" stroke-width="0.8"/>
<path d="M256.2 305.7L259.2 305.7M257.7 304.2L257.7 307.2M256.6 304.6L258.9 306.9M256.6 306.9L258.9 304.6" stroke="#e8202a" stroke-width="0.8"/>
<path d="M259.4 304.8L262.4 304.8M260.9 303.3L260.9 306.3M259.8 303.7L262.0 305.9M259.8 305.9L262.0 303.7" stroke="#e8202a" stroke-width="0.8"/>
<path d="M262.1 304.4L265.1 304.4M263.6 302.9L263.6 305.9M262.5 303.2L264.8 305.5M262.5 305.5L264.8 303.2" stroke="#e8202a" stroke-width="0.8"/>
<path d="M258.0 307.5L261.0 307.5M259.5 306.0L259.5 309.0M258.4 306.4L260.7 308.7M258.4 308.7L260.7 306.4" stroke="#e8202a" stroke-width="0.8"/>
<path d="M254.4 309.4L257.4 309.4M255.9 307.9L255.9 310.9M254.8 308.2L257.0 310.5M254.8 310.5L257.0 308.2" stroke="#e8202a" stroke-width="0.8"/>
<path d="M250.3 311.2L253.3 311.2M251.8 309.7L251.8 312.7M250.7 310.1L252.9 312.3M250.7 312.3L252.9 310.1" stroke="#e8202a" stroke-width="0.8"/>
<path d="M248.0 312.1L251.0 312.1M249.5 310.6L249.5 313.6M248.4 311.0L250.7 313.2M248.4 313.2L250.7 311.0" stroke="#e8202a" stroke-width="0.8"/>
<path d="M262.1 312.1L265.1 312.1M263.6 310.6L263.6 313.6M262.5 311.0L264.8 313.2M262.5 313.2L264.8 311.0" stroke="#e8202a" stroke-width="0.8"/>
<path d="M265.8 311.2L268.8 311.2M267.3 309.7L267.3 312.7M266.1 310.1L268.4 312.3M266.1 312.3L268.4 310.1" stroke="#e8202a" stroke-width="0.8"/>
<path d="M264.9 294.8L267.9 294.8M266.4 293.3L266.4 296.3M265.2 293.7L267.5 295.9M265.2 295.9L267.5 293.7" stroke="#e8202a" stroke-width="0.8"/>
<path d="M274.9 292.1L277.9 292.1M276.4 290.6L276.4 293.6M275.2 291.0L277.5 293.2M275.2 293.2L277.5 291.0" stroke="#e8202a" stroke-width="0.8"/>
<path d="M275.8 291.2L278.8 291.2M277.3 289.7L277.3 292.7M276.1 290.1L278.4 292.3M276.1 292.3L278.4 290.1" stroke="#e8202a" stroke-width="0.8"/>
<path d="M281.2 292.1L284.2 292.1M282.7 290.6L282.7 293.6M281.6 291.0L283.9 293.2M281.6 293.2L283.9 291.0" stroke="#e8202a" stroke-width="0.8"/>
<path d="M282.1 296.6L285.1 296.6M283.6 295.1L283.6 298.1M282.5 295.5L284.8 297.8M282.5 297.8L284.8 295.5" stroke="#e8202a" stroke-width="0.8"/>
<path d="M284.0 299.4L287.0 299.4M285.5 297.9L285.5 300.9M284.3 298.2L286.6 300.5M284.3 300.5L286.6 298.2" stroke="#e8202a" stroke-width="0.8"/>
<path d="M276.7 306.6L279.7 306.6M278.2 305.1L278.2 308.1M277.1 305.5L279.3 307.8M277.1 307.8L279.3 305.5" stroke="#e8202a" stroke-width="0.8"/>
<path d="M255.8 294.8L258.8 294.8M257.3 293.3L257.3 296.3M256.1 293.7L258.4 295.9M256.1 295.9L258.4 293.7" stroke="#e8202a" stroke-width="0.8"/>
<path d="M247.6 306.0L250.6 306.0M249.1 304.5L249.1 307.5M248.0 304.9L250.3 307.1M248.0 307.1L250.3 304.9" stroke="#e8202a" stroke-width="0.8"/>
<path d="M230.8 296.4L233.8 296.4M232.3 294.9L232.3 297.9M231.2 295.3L233.4 297.6M231.2 297.6L233.4 295.3" stroke="#e8202a" stroke-width="0.8"/>
<path d="M229.1 292.8L232.1 292.8M230.6 291.3L230.6 294.3M229.5 291.7L231.7 294.0M229.5 294.0L231.7 291.7" stroke="#e8202a" stroke-width="0.8"/>
<path d="M252.8 296.8L255.8 296.8M254.3 295.3L254.3 298.3M253.1 295.6L255.4 297.9M253.1 297.9L255.4 295.6" stroke="#e8202a" stroke-width="0.8"/>
<path d="M222.9 297.9L225.9 297.9M224.4 296.4L224.4 299.4M223.3 296.8L225.5 299.0M223.3 299.0L225.5 296.8" stroke="#e8202a" stroke-width="0.8"/>
<path d="M216.0 297.1L219.0 297.1M217.5 295.6L217.5 298.6M216.4 296.0L218.6 298.2M216.4 298.2L218.6 296.0" stroke="#e8202a" stroke-width="0.8"/>
<path d="M253.7 301.9L256.7 301.9M255.2 300.4L255.2 303.4M254.1 300.8L256.3 303.1M254.1 303.1L256.3 300.8" stroke="#e8202a" stroke-width="0.8"/>
<path d="M220.9 304.2L223.9 304.2M222.4 302.7L222.4 305.7M221.3 303.1L223.5 305.3M221.3 305.3L223.5 303.1" stroke="#e8202a" stroke-width="0.8"/>
<path d="M276.7 294.5L279.7 294.5M278.2 293.0L278.2 296.0M277.1 293.4L279.3 295.7M277.1 295.7L279.3 293.4" stroke="#e8202a" stroke-width="0.8"/>
<path d="M224.3 303.5L227.3 303.5M225.8 302.0L225.8 305.0M224.6 302.4L226.9 304.7M224.6 304.7L226.9 302.4" stroke="#e8202a" stroke-width="0.8"/>
<path d="M232.3 292.3L235.3 292.3M233.8 290.8L233.8 293.8M232.7 291.2L234.9 293.4M232.7 293.4L234.9 291.2" stroke="#e8202a" stroke-width="0.8"/>
<path d="M271.3 301.1L274.3 301.1M272.8 299.6L272.8 302.6M271.7 300.0L273.9 302.3M271.7 302.3L273.9 300.0" stroke="#e8202a" stroke-width="0.8"/>
<path d="M230.6 304.5L233.6 304.5M232.1 303.0L232.1 306.0M231.0 303.4L233.2 305.7M231.0 305.7L233.2 303.4" stroke="#e8202a" stroke-width="0.8"/>
<path d="M276.2 302.4L279.2 302.4M277.7 300.9L277.7 303.9M276.6 301.3L278.8 303.6M276.6 303.6L278.8 301.3" stroke="#e8202a" stroke-width="0.8"/>
<path d="M246.6 293.1L249.6 293.1M248.1 291.6L248.1 294.6M247.0 292.0L249.3 294.2M247.0 294.2L249.3 292.0" stroke="#e8202a" stroke-width="0.8"/>
<path d="M200.0 290.3L314.3 268.9" stroke="#7a74e0" stroke-width="0.7" fill="none"/>
<path d="M200.2 292.6L286.1 290.6" stroke="#98e498" stroke-width="0.7" fill="none"/>
<path d="M268.5 304.4L370.9 293.7" stroke="#60d8e8" stroke-width="0.7" fill="none"/>
<path d="M198.1 311.2L387.8 325.5" stroke="#e878e8" stroke-width="0.7" fill="none"/>
<path d="M215.7 301.1L365.7 287.7" stroke="#ec6060" stroke-width="0.7" fill="none"/>
<path d="M180.5 373.5L391.7 225.5" stroke="#64a8c8" stroke-width="0.9" fill="none"/>
<rect x="333.7" y="225.9" width="59.3" height="42.8" fill="#fff" stroke="#aaa" stroke-width="0.8"/>
<circle cx="344.7" cy="231.0" r="1.85" fill="none" stroke="#625cdc" stroke-width="0.75"/>
<text x="356.1" y="233.7" class="lg">Canola</text>
<path d="M343.3 237.9L346.1 240.8M343.3 240.8L346.1 237.9" stroke="#30d830" stroke-width="0.7"/>
<text x="356.1" y="242.0" class="lg">Corn</text>
<path d="M342.8 246.6L346.6 246.6L344.7 249.6Z" fill="none" stroke="#2ad8e0" stroke-width="0.7"/>
<text x="356.1" y="250.4" class="lg">Grassland</text>
<circle cx="344.7" cy="256.1" r="1.6" fill="none" stroke="#e040e0" stroke-width="0.8"/>
<text x="356.1" y="258.8" class="lg">Soybeans</text>
<path d="M343.2 264.4L346.2 264.4M344.7 262.9L344.7 265.9M343.6 263.3L345.8 265.5M343.6 265.5L345.8 263.3" stroke="#e8202a" stroke-width="0.8"/>
<text x="356.1" y="267.1" class="lg">Cereal</text>
<text x="286.1" y="223.2" class="ti" text-anchor="middle">Sensitivity between HV polarization and in situ SSM</text>
<path d="M180.5 225.5V373.5H391.7" class="ax"/>
<path d="M180.5 373.5h2" class="ax"/>
<text x="176.7" y="376.9" class="tk" text-anchor="end">-50</text>
<path d="M180.5 357.1h2" class="ax"/>
<text x="176.7" y="360.5" class="tk" text-anchor="end">-45</text>
<path d="M180.5 340.6h2" class="ax"/>
<text x="176.7" y="344.0" class="tk" text-anchor="end">-40</text>
<path d="M180.5 324.2h2" class="ax"/>
<text x="176.7" y="327.6" class="tk" text-anchor="end">-35</text>
<path d="M180.5 307.7h2" class="ax"/>
<text x="176.7" y="311.1" class="tk" text-anchor="end">-30</text>
<path d="M180.5 291.3h2" class="ax"/>
<text x="176.7" y="294.7" class="tk" text-anchor="end">-25</text>
<path d="M180.5 274.8h2" class="ax"/>
<text x="176.7" y="278.2" class="tk" text-anchor="end">-20</text>
<path d="M180.5 258.4h2" class="ax"/>
<text x="176.7" y="261.8" class="tk" text-anchor="end">-15</text>
<path d="M180.5 241.9h2" class="ax"/>
<text x="176.7" y="245.3" class="tk" text-anchor="end">-10</text>
<path d="M180.5 225.5h2" class="ax"/>
<text x="176.7" y="228.9" class="tk" text-anchor="end">-5</text>
<path d="M180.5 373.5v-2" class="ax"/>
<text x="180.5" y="384.5" class="tk" text-anchor="middle">0</text>
<path d="M215.7 373.5v-2" class="ax"/>
<text x="215.7" y="384.5" class="tk" text-anchor="middle">0.1</text>
<path d="M250.9 373.5v-2" class="ax"/>
<text x="250.9" y="384.5" class="tk" text-anchor="middle">0.2</text>
<path d="M286.1 373.5v-2" class="ax"/>
<text x="286.1" y="384.5" class="tk" text-anchor="middle">0.3</text>
<path d="M321.3 373.5v-2" class="ax"/>
<text x="321.3" y="384.5" class="tk" text-anchor="middle">0.4</text>
<path d="M356.5 373.5v-2" class="ax"/>
<text x="356.5" y="384.5" class="tk" text-anchor="middle">0.5</text>
<path d="M391.7 373.5v-2" class="ax"/>
<text x="391.7" y="384.5" class="tk" text-anchor="middle">0.6</text>
<text x="286.1" y="398.5" class="xl" text-anchor="middle">in situ SSM (cm<tspan dy="-4.8" font-size="7.6">3</tspan><tspan dy="4.8">/cm</tspan><tspan dy="-4.8" font-size="7.6">3</tspan><tspan dy="4.8">)</tspan></text>
<text transform="translate(160.3 299.5) rotate(-90)" class="yl" text-anchor="middle">HV backscattering coefficient (dB)</text>
<text x="281.6" y="418.0" class="sub" text-anchor="middle">(c)</text>
</svg></body></html>
